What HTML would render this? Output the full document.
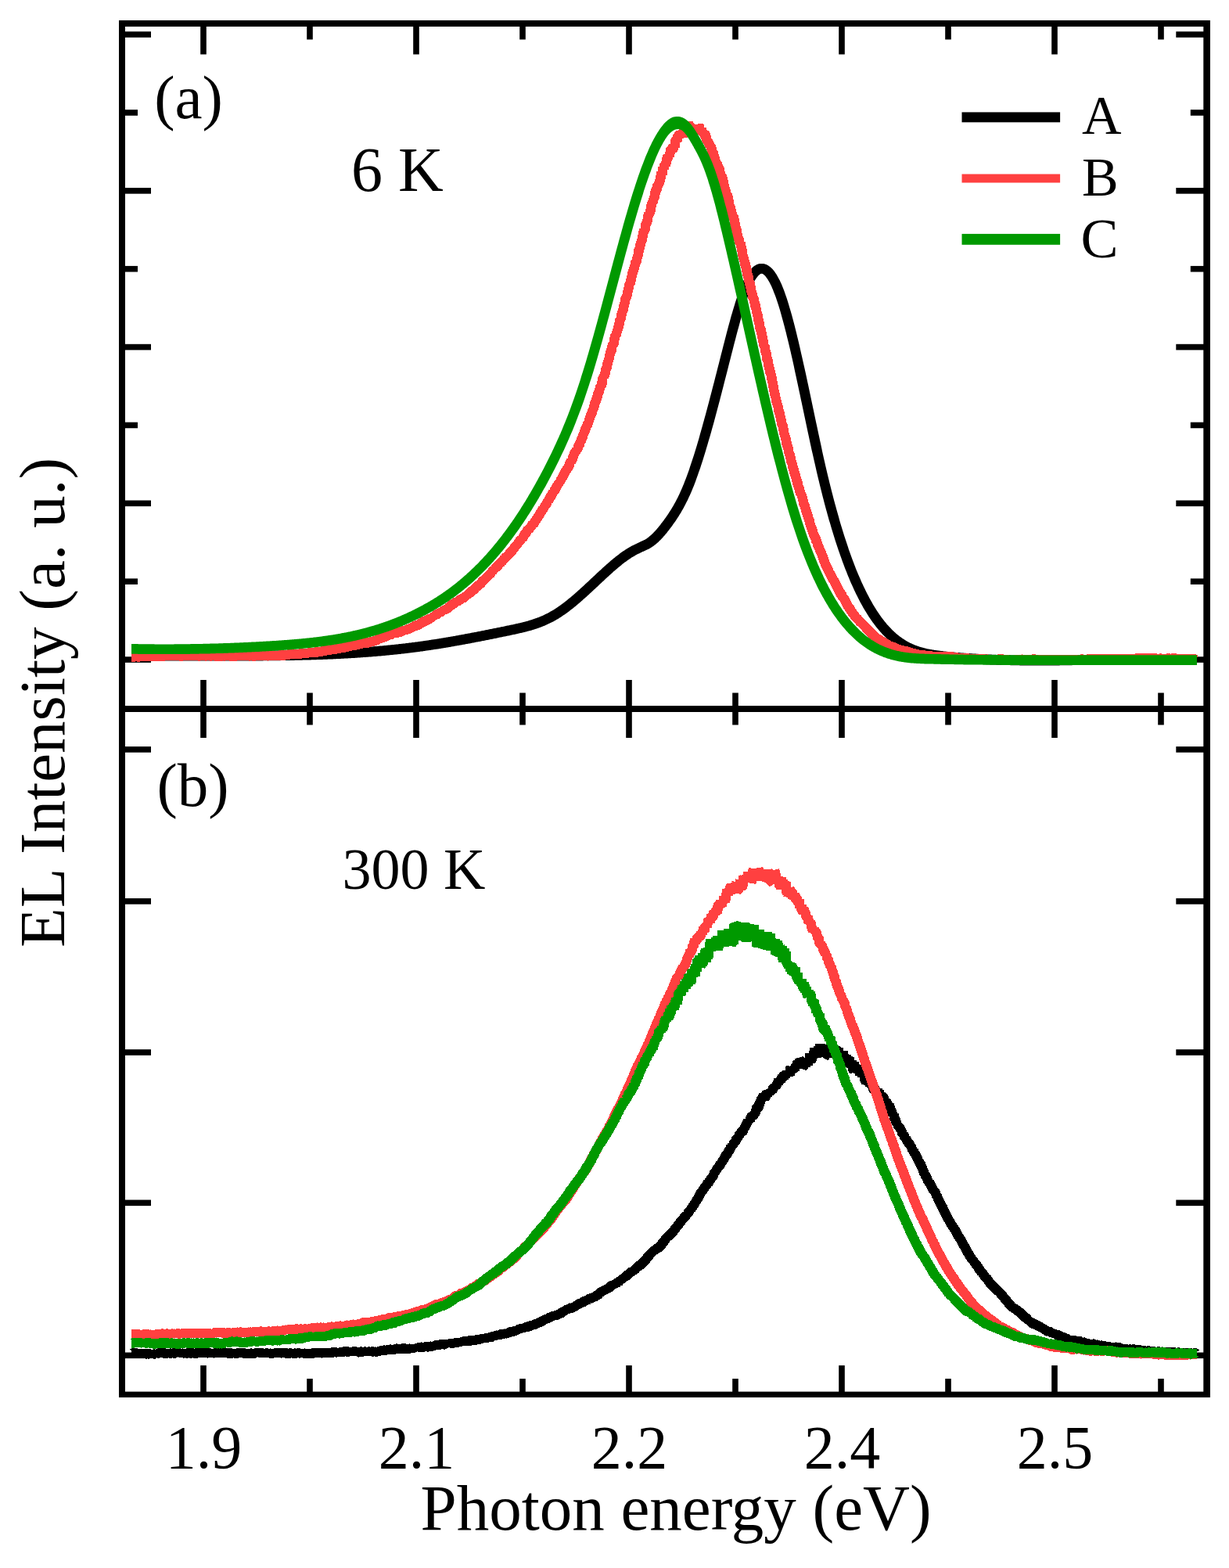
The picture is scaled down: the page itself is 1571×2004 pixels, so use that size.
<!DOCTYPE html>
<html lang="en"><head><meta charset="utf-8"><title>EL Intensity vs Photon energy</title>
<style>
html,body{margin:0;padding:0;background:#fff;overflow:hidden;}
body{width:1571px;height:2004px;overflow:hidden;}
svg{display:block;}
svg text{font-family:"Liberation Serif",serif;fill:#000;}
</style></head><body>
<svg width="1571" height="2004" viewBox="0 0 1571 2004" role="img" aria-label="EL intensity versus photon energy for samples A, B and C at 6 K and 300 K">
<rect x="0" y="0" width="1571" height="2004" fill="#fff"/>
<g id="ticks">
<rect x="159.00" y="40.30" width="34.00" height="7.60" fill="#000"/>
<rect x="1503.30" y="40.30" width="36.00" height="7.60" fill="#000"/>
<rect x="159.00" y="140.17" width="17.00" height="7.60" fill="#000"/>
<rect x="1521.80" y="140.17" width="17.50" height="7.60" fill="#000"/>
<rect x="159.00" y="240.04" width="34.00" height="7.60" fill="#000"/>
<rect x="1503.30" y="240.04" width="36.00" height="7.60" fill="#000"/>
<rect x="159.00" y="339.91" width="17.00" height="7.60" fill="#000"/>
<rect x="1521.80" y="339.91" width="17.50" height="7.60" fill="#000"/>
<rect x="159.00" y="439.78" width="34.00" height="7.60" fill="#000"/>
<rect x="1503.30" y="439.78" width="36.00" height="7.60" fill="#000"/>
<rect x="159.00" y="539.65" width="17.00" height="7.60" fill="#000"/>
<rect x="1521.80" y="539.65" width="17.50" height="7.60" fill="#000"/>
<rect x="159.00" y="639.52" width="34.00" height="7.60" fill="#000"/>
<rect x="1503.30" y="639.52" width="36.00" height="7.60" fill="#000"/>
<rect x="159.00" y="739.39" width="17.00" height="7.60" fill="#000"/>
<rect x="1521.80" y="739.39" width="17.50" height="7.60" fill="#000"/>
<rect x="159.00" y="839.26" width="34.00" height="7.60" fill="#000"/>
<rect x="1503.30" y="839.26" width="36.00" height="7.60" fill="#000"/>
<rect x="159.00" y="954.10" width="34.00" height="7.60" fill="#000"/>
<rect x="1503.30" y="954.10" width="36.00" height="7.60" fill="#000"/>
<rect x="159.00" y="1148.10" width="34.00" height="7.60" fill="#000"/>
<rect x="1503.30" y="1148.10" width="36.00" height="7.60" fill="#000"/>
<rect x="159.00" y="1341.20" width="34.00" height="7.60" fill="#000"/>
<rect x="1503.30" y="1341.20" width="36.00" height="7.60" fill="#000"/>
<rect x="159.00" y="1533.50" width="34.00" height="7.60" fill="#000"/>
<rect x="1503.30" y="1533.50" width="36.00" height="7.60" fill="#000"/>
<rect x="159.00" y="1728.50" width="34.00" height="7.60" fill="#000"/>
<rect x="1503.30" y="1728.50" width="36.00" height="7.60" fill="#000"/>
<rect x="256.20" y="33.00" width="7.60" height="36.50" fill="#000"/>
<rect x="256.20" y="1745.10" width="7.60" height="34.50" fill="#000"/>
<rect x="256.20" y="869.00" width="7.60" height="74.00" fill="#000"/>
<rect x="392.20" y="33.00" width="7.60" height="17.50" fill="#000"/>
<rect x="392.20" y="1762.10" width="7.60" height="17.50" fill="#000"/>
<rect x="392.20" y="885.50" width="7.60" height="41.00" fill="#000"/>
<rect x="528.20" y="33.00" width="7.60" height="36.50" fill="#000"/>
<rect x="528.20" y="1745.10" width="7.60" height="34.50" fill="#000"/>
<rect x="528.20" y="869.00" width="7.60" height="74.00" fill="#000"/>
<rect x="664.20" y="33.00" width="7.60" height="17.50" fill="#000"/>
<rect x="664.20" y="1762.10" width="7.60" height="17.50" fill="#000"/>
<rect x="664.20" y="885.50" width="7.60" height="41.00" fill="#000"/>
<rect x="800.20" y="33.00" width="7.60" height="36.50" fill="#000"/>
<rect x="800.20" y="1745.10" width="7.60" height="34.50" fill="#000"/>
<rect x="800.20" y="869.00" width="7.60" height="74.00" fill="#000"/>
<rect x="936.20" y="33.00" width="7.60" height="17.50" fill="#000"/>
<rect x="936.20" y="1762.10" width="7.60" height="17.50" fill="#000"/>
<rect x="936.20" y="885.50" width="7.60" height="41.00" fill="#000"/>
<rect x="1072.20" y="33.00" width="7.60" height="36.50" fill="#000"/>
<rect x="1072.20" y="1745.10" width="7.60" height="34.50" fill="#000"/>
<rect x="1072.20" y="869.00" width="7.60" height="74.00" fill="#000"/>
<rect x="1208.20" y="33.00" width="7.60" height="17.50" fill="#000"/>
<rect x="1208.20" y="1762.10" width="7.60" height="17.50" fill="#000"/>
<rect x="1208.20" y="885.50" width="7.60" height="41.00" fill="#000"/>
<rect x="1344.20" y="33.00" width="7.60" height="36.50" fill="#000"/>
<rect x="1344.20" y="1745.10" width="7.60" height="34.50" fill="#000"/>
<rect x="1344.20" y="869.00" width="7.60" height="74.00" fill="#000"/>
<rect x="1480.20" y="33.00" width="7.60" height="17.50" fill="#000"/>
<rect x="1480.20" y="1762.10" width="7.60" height="17.50" fill="#000"/>
<rect x="1480.20" y="885.50" width="7.60" height="41.00" fill="#000"/>
</g>
<g id="curves">
<path d="M168.0 832.3L168.9 832.3L169.9 832.2L170.9 832.2L171.9 832.2L172.9 832.2L173.9 832.2L174.9 832.1L175.9 832.1L176.9 832.1L177.9 832.1L178.9 832.1L179.9 832.1L180.9 832.0L181.9 832.0L182.9 832.0L183.9 832.0L184.9 832.0L185.9 832.0L186.9 831.9L187.9 831.9L188.9 831.9L189.9 831.9L190.9 831.9L191.9 831.9L192.9 831.9L193.9 831.9L194.9 831.8L195.9 831.8L196.9 831.8L197.9 831.8L198.9 831.8L199.9 831.8L200.9 831.8L201.9 831.8L202.9 831.8L203.9 831.8L204.9 831.7L205.9 831.7L207.0 831.7L208.0 831.7L209.0 831.7L210.0 831.7L211.0 831.7L212.0 831.7L213.0 831.7L214.0 831.7L215.0 831.7L216.0 831.7L217.0 831.7L218.0 831.7L219.0 831.7L220.0 831.6L221.0 831.6L222.0 831.6L223.0 831.6L224.0 831.6L225.0 831.6L226.0 831.6L227.0 831.6L228.0 831.6L229.0 831.6L230.0 831.6L231.0 831.6L232.0 831.6L233.0 831.6L234.0 831.6L235.0 831.6L236.0 831.6L237.0 831.6L238.0 831.6L239.0 831.6L240.0 831.6L241.0 831.6L242.0 831.6L243.0 831.6L244.0 831.6L245.0 831.6L246.0 831.6L247.0 831.6L248.0 831.6L249.0 831.6L250.0 831.6L251.0 831.6L252.0 831.6L253.0 831.6L254.0 831.6L255.0 831.6L256.0 831.6L257.0 831.6L258.0 831.6L259.0 831.6L260.0 831.6L261.0 831.6L262.0 831.6L263.0 831.6L264.0 831.6L265.0 831.6L266.0 831.6L267.0 831.6L268.0 831.6L269.0 831.6L270.0 831.6L271.0 831.6L272.0 831.6L273.0 831.6L274.0 831.6L275.0 831.6L276.0 831.6L277.0 831.6L278.0 831.6L279.0 831.6L280.0 831.6L281.0 831.6L282.0 831.6L283.0 831.6L284.0 831.6L285.0 831.6L286.0 831.6L287.0 831.6L288.0 831.6L289.0 831.6L290.0 831.6L291.0 831.6L292.0 831.6L293.0 831.6L294.0 831.6L295.0 831.6L296.0 831.6L297.0 831.6L298.0 831.6L299.0 831.6L300.0 831.6L301.0 831.6L302.0 831.6L303.0 831.6L304.0 831.6L305.0 831.6L306.0 831.6L307.0 831.6L308.0 831.6L309.0 831.6L310.0 831.6L311.0 831.6L312.0 831.6L313.0 831.6L314.0 831.6L315.0 831.6L316.0 831.6L317.0 831.6L318.0 831.6L319.0 831.6L320.0 831.6L321.0 831.6L322.0 831.6L323.0 831.6L324.0 831.6L325.0 831.6L326.0 831.6L327.0 831.6L328.0 831.6L329.0 831.6L330.0 831.6L331.0 831.6L332.0 831.6L333.0 831.6L334.0 831.6L335.0 831.6L336.0 831.6L337.0 831.5L338.0 831.5L339.0 831.5L340.0 831.5L341.0 831.5L342.0 831.5L342.9 831.5L343.9 831.5L344.9 831.5L345.9 831.5L346.9 831.5L347.9 831.5L348.9 831.5L349.9 831.4L350.9 831.4L351.9 831.4L352.9 831.4L353.9 831.4L354.9 831.4L355.9 831.4L356.9 831.4L357.9 831.4L358.9 831.3L359.9 831.3L360.9 831.3L361.9 831.3L362.9 831.3L363.9 831.3L364.9 831.3L365.9 831.2L366.9 831.2L367.9 831.2L368.9 831.2L369.9 831.2L370.9 831.2L371.9 831.1L372.9 831.1L373.9 831.1L374.9 831.1L375.9 831.1L376.9 831.1L377.9 831.0L378.9 831.0L379.9 831.0L380.9 831.0L381.9 830.9L382.9 830.9L383.9 830.9L384.9 830.9L385.9 830.9L386.8 830.8L387.8 830.8L388.8 830.8L389.8 830.8L390.8 830.7L391.8 830.7L392.8 830.7L393.8 830.7L394.8 830.6L395.8 830.6L396.8 830.6L397.8 830.5L398.8 830.5L399.8 830.5L400.8 830.5L401.8 830.4L402.8 830.4L403.8 830.4L404.8 830.3L405.8 830.3L406.8 830.3L407.8 830.2L408.8 830.2L409.8 830.2L410.8 830.1L411.8 830.1L412.8 830.1L413.8 830.0L414.8 830.0L415.8 829.9L416.7 829.9L417.7 829.9L418.7 829.8L419.7 829.8L420.7 829.7L421.7 829.7L422.7 829.7L423.7 829.6L424.7 829.6L425.7 829.5L426.7 829.5L427.7 829.4L428.7 829.4L429.7 829.3L430.7 829.3L431.7 829.2L432.7 829.2L433.7 829.1L434.7 829.1L435.7 829.0L436.7 829.0L437.7 828.9L438.7 828.9L439.7 828.8L440.7 828.8L441.6 828.7L442.6 828.7L443.6 828.6L444.6 828.6L445.6 828.5L446.6 828.5L447.6 828.4L448.6 828.3L449.6 828.3L450.6 828.2L451.6 828.2L452.6 828.1L453.6 828.0L454.6 828.0L455.6 827.9L456.6 827.8L457.6 827.8L458.6 827.7L459.6 827.6L460.6 827.6L461.6 827.5L462.6 827.4L463.5 827.4L464.5 827.3L465.5 827.2L466.5 827.1L467.5 827.1L468.5 827.0L469.5 826.9L470.5 826.9L471.5 826.8L472.5 826.7L473.5 826.6L474.5 826.5L475.5 826.5L476.5 826.4L477.5 826.3L478.5 826.2L479.5 826.1L480.5 826.1L481.5 826.0L482.5 825.9L483.4 825.8L484.4 825.7L485.4 825.6L486.4 825.5L487.4 825.4L488.4 825.4L489.4 825.3L490.4 825.2L491.4 825.1L492.4 825.0L493.4 824.9L494.4 824.8L495.4 824.7L496.4 824.6L497.4 824.5L498.4 824.4L499.4 824.3L500.4 824.2L501.3 824.1L502.3 824.0L503.3 823.9L504.3 823.8L505.3 823.7L506.3 823.6L507.3 823.5L508.3 823.4L509.3 823.3L510.3 823.1L511.3 823.0L512.3 822.9L513.3 822.8L514.3 822.7L515.3 822.6L516.3 822.5L517.3 822.4L518.2 822.2L519.2 822.1L520.2 822.0L521.2 821.9L522.2 821.8L523.2 821.6L524.2 821.5L525.2 821.4L526.2 821.3L527.2 821.1L528.2 821.0L529.2 820.9L530.2 820.7L531.2 820.6L532.2 820.5L533.1 820.4L534.1 820.2L535.1 820.1L536.1 819.9L537.1 819.8L538.1 819.7L539.1 819.5L540.1 819.4L541.1 819.3L542.1 819.1L543.1 819.0L544.1 818.8L545.1 818.7L546.1 818.5L547.1 818.4L548.1 818.2L549.0 818.1L550.0 817.9L551.0 817.8L552.0 817.6L553.0 817.5L554.0 817.3L555.0 817.2L556.0 817.0L557.0 816.9L558.0 816.7L559.0 816.6L560.0 816.4L561.0 816.2L562.0 816.1L563.0 815.9L564.0 815.7L565.0 815.6L566.0 815.4L567.0 815.3L567.9 815.1L568.9 814.9L569.9 814.8L570.9 814.6L571.9 814.4L572.9 814.2L573.9 814.1L574.9 813.9L575.9 813.7L576.9 813.6L577.9 813.4L578.9 813.2L579.9 813.0L580.9 812.9L581.9 812.7L582.9 812.5L583.9 812.3L584.9 812.2L585.9 812.0L586.9 811.8L587.9 811.6L588.9 811.4L589.8 811.3L590.8 811.1L591.8 810.9L592.8 810.7L593.8 810.5L594.8 810.3L595.8 810.1L596.8 810.0L597.8 809.8L598.8 809.6L599.8 809.4L600.8 809.2L601.8 809.0L602.8 808.8L603.8 808.6L604.8 808.4L605.8 808.3L606.8 808.1L607.8 807.9L608.8 807.7L609.8 807.5L610.8 807.3L611.8 807.1L612.8 806.9L613.8 806.7L614.8 806.5L615.8 806.3L616.8 806.1L617.8 805.9L618.8 805.7L619.8 805.5L620.7 805.3L621.7 805.1L622.7 804.9L623.7 804.7L624.7 804.5L625.7 804.3L626.7 804.1L627.7 803.9L628.7 803.7L629.7 803.5L630.7 803.3L631.7 803.1L632.7 802.9L633.7 802.7L634.7 802.5L635.7 802.3L636.7 802.1L637.7 801.9L638.7 801.7L639.7 801.5L640.7 801.3L641.7 801.1L642.7 800.9L643.7 800.7L644.7 800.4L645.7 800.2L646.7 800.0L647.7 799.8L648.7 799.6L649.7 799.4L650.7 799.2L651.7 799.0L652.7 798.8L653.7 798.6L654.7 798.4L655.7 798.2L656.7 797.9L657.6 797.7L658.6 797.5L659.6 797.3L660.6 797.1L661.6 796.9L662.6 796.6L663.5 796.4L664.5 796.2L665.5 795.9L666.5 795.7L667.5 795.5L668.4 795.2L669.4 795.0L670.4 794.7L671.4 794.5L672.3 794.2L673.3 793.9L674.3 793.7L675.2 793.4L676.2 793.1L677.2 792.8L678.1 792.5L679.1 792.2L680.0 791.9L681.0 791.6L682.0 791.3L682.9 791.0L683.9 790.6L684.8 790.3L685.8 790.0L686.7 789.6L687.7 789.2L688.7 788.9L689.6 788.5L690.6 788.1L691.5 787.7L692.5 787.3L693.4 786.9L694.4 786.4L695.3 786.0L696.3 785.6L697.2 785.1L698.2 784.6L699.1 784.2L700.0 783.7L701.0 783.2L701.9 782.7L702.9 782.1L703.8 781.6L704.8 781.1L705.7 780.5L706.7 779.9L707.6 779.4L708.6 778.8L709.5 778.2L710.5 777.5L711.4 776.9L712.4 776.3L713.4 775.6L714.3 774.9L715.3 774.2L716.3 773.6L717.2 772.9L718.2 772.1L719.2 771.4L720.1 770.7L721.1 769.9L722.1 769.2L723.0 768.4L724.0 767.7L725.0 766.9L726.0 766.1L726.9 765.3L727.9 764.5L728.9 763.7L729.9 762.9L730.9 762.0L731.8 761.2L732.8 760.4L733.8 759.5L734.8 758.7L735.8 757.8L736.8 756.9L737.8 756.0L738.7 755.2L739.7 754.3L740.7 753.4L741.7 752.5L742.7 751.6L743.7 750.7L744.7 749.8L745.7 748.9L746.7 748.0L747.7 747.1L748.6 746.1L749.6 745.2L750.6 744.3L751.6 743.4L752.6 742.4L753.6 741.5L754.6 740.6L755.6 739.6L756.6 738.7L757.6 737.7L758.6 736.8L759.6 735.9L760.6 734.9L761.6 734.0L762.6 733.0L763.6 732.1L764.6 731.2L765.6 730.2L766.7 729.3L767.7 728.4L768.7 727.4L769.7 726.5L770.7 725.6L771.7 724.7L772.7 723.8L773.7 722.9L774.7 722.0L775.8 721.1L776.8 720.2L777.8 719.3L778.8 718.4L779.8 717.5L780.9 716.6L781.9 715.8L782.9 714.9L783.9 714.1L785.0 713.2L786.0 712.4L787.0 711.6L788.1 710.8L789.1 710.0L790.1 709.2L791.2 708.4L792.2 707.6L793.2 706.8L794.3 706.1L795.3 705.3L796.4 704.6L797.4 703.9L798.5 703.2L799.5 702.5L800.6 701.8L801.6 701.2L802.7 700.5L803.7 699.9L804.8 699.3L805.9 698.7L806.9 698.1L808.0 697.5L809.1 696.9L810.1 696.4L811.2 695.9L812.2 695.4L813.3 694.9L814.3 694.4L815.3 693.9L816.4 693.4L817.4 693.0L818.4 692.5L819.4 692.1L820.4 691.6L821.3 691.2L822.2 690.8L823.1 690.3L824.0 689.9L824.8 689.4L825.6 688.9L826.5 688.4L827.3 687.8L828.2 687.2L829.1 686.5L829.9 685.8L830.8 685.1L831.7 684.3L832.6 683.5L833.6 682.6L834.5 681.7L835.4 680.8L836.3 679.8L837.3 678.8L838.2 677.7L839.2 676.7L840.1 675.6L841.1 674.4L842.0 673.3L843.0 672.1L844.0 670.9L844.9 669.6L845.9 668.3L846.9 667.1L847.9 665.7L848.8 664.4L849.8 663.1L850.8 661.7L851.8 660.3L852.7 658.9L853.7 657.5L854.7 656.0L855.6 654.6L856.6 653.1L857.6 651.5L858.5 649.9L859.5 648.3L860.5 646.7L861.4 645.0L862.4 643.3L863.4 641.5L864.3 639.7L865.3 637.8L866.3 635.9L867.2 633.9L868.2 631.9L869.2 629.8L870.2 627.6L871.1 625.4L872.1 623.2L873.1 620.8L874.1 618.4L875.0 616.0L876.0 613.4L877.0 610.9L878.0 608.2L879.0 605.5L880.0 602.7L881.0 599.9L881.9 597.0L882.9 594.1L883.9 591.1L884.9 588.1L885.9 585.0L886.9 581.9L887.9 578.7L888.9 575.5L889.9 572.2L890.9 568.9L891.9 565.6L892.9 562.2L893.9 558.7L894.8 555.3L895.8 551.8L896.8 548.3L897.8 544.7L898.8 541.1L899.8 537.5L900.8 533.8L901.8 530.2L902.8 526.5L903.8 522.7L904.8 519.0L905.8 515.2L906.8 511.4L907.8 507.6L908.8 503.8L909.8 500.0L910.8 496.1L911.8 492.2L912.8 488.4L913.8 484.5L914.8 480.6L915.8 476.7L916.8 472.7L917.8 468.8L918.8 464.9L919.8 461.0L920.8 457.0L921.8 453.1L922.8 449.2L923.8 445.3L924.8 441.3L925.8 437.4L926.8 433.6L927.8 429.7L928.8 425.8L929.8 422.0L930.8 418.3L931.8 414.5L932.8 410.9L933.8 407.2L934.8 403.6L935.9 400.1L936.9 396.6L937.9 393.2L938.9 389.9L939.9 386.6L940.9 383.5L941.9 380.4L942.9 377.4L944.0 374.4L945.0 371.6L946.0 368.9L947.1 366.3L948.1 363.7L949.2 361.3L950.2 359.0L951.3 356.8L952.4 354.8L953.4 352.8L954.5 350.9L955.7 349.2L956.8 347.5L958.0 345.9L959.2 344.5L960.4 343.2L961.7 341.9L963.1 340.8L964.5 339.8L965.9 338.9L967.5 338.1L969.1 337.5L970.8 337.1L972.6 336.9L974.4 336.9L976.1 337.1L977.8 337.5L979.4 338.1L981.0 338.8L982.5 339.7L983.9 340.7L985.2 341.8L986.5 343.0L987.8 344.3L989.0 345.8L990.2 347.3L991.3 348.9L992.4 350.6L993.5 352.4L994.6 354.4L995.7 356.4L996.8 358.5L997.8 360.8L998.9 363.1L999.9 365.6L1001.0 368.2L1002.0 370.8L1003.0 373.6L1004.0 376.5L1005.1 379.5L1006.1 382.6L1007.1 385.7L1008.1 389.0L1009.1 392.4L1010.1 395.8L1011.2 399.4L1012.2 403.0L1013.2 406.7L1014.2 410.5L1015.2 414.3L1016.2 418.2L1017.2 422.2L1018.2 426.3L1019.2 430.4L1020.2 434.6L1021.2 438.8L1022.2 443.1L1023.2 447.5L1024.2 451.9L1025.2 456.3L1026.2 460.8L1027.2 465.3L1028.3 469.9L1029.3 474.4L1030.3 479.1L1031.3 483.7L1032.3 488.4L1033.3 493.1L1034.3 497.8L1035.3 502.5L1036.3 507.2L1037.3 512.0L1038.3 516.7L1039.3 521.4L1040.3 526.2L1041.3 530.9L1042.3 535.7L1043.3 540.4L1044.3 545.1L1045.3 549.8L1046.3 554.5L1047.3 559.1L1048.3 563.7L1049.3 568.3L1050.3 572.9L1051.2 577.4L1052.2 581.9L1053.2 586.4L1054.2 590.8L1055.2 595.2L1056.2 599.5L1057.2 603.7L1058.2 607.9L1059.2 612.1L1060.2 616.2L1061.2 620.2L1062.2 624.2L1063.2 628.2L1064.2 632.0L1065.2 635.9L1066.2 639.7L1067.2 643.4L1068.2 647.1L1069.2 650.7L1070.2 654.3L1071.2 657.8L1072.2 661.3L1073.1 664.8L1074.1 668.2L1075.1 671.5L1076.1 674.8L1077.1 678.0L1078.1 681.2L1079.1 684.4L1080.1 687.5L1081.1 690.6L1082.1 693.6L1083.1 696.6L1084.1 699.5L1085.0 702.4L1086.0 705.2L1087.0 708.0L1088.0 710.8L1089.0 713.5L1090.0 716.2L1091.0 718.8L1092.0 721.4L1093.0 723.9L1093.9 726.4L1094.9 728.9L1095.9 731.3L1096.9 733.7L1097.9 736.0L1098.9 738.3L1099.9 740.6L1100.8 742.8L1101.8 745.0L1102.8 747.1L1103.8 749.2L1104.8 751.3L1105.8 753.3L1106.7 755.3L1107.7 757.3L1108.7 759.2L1109.7 761.1L1110.7 763.0L1111.6 764.8L1112.6 766.6L1113.6 768.3L1114.6 770.0L1115.5 771.7L1116.5 773.4L1117.5 775.0L1118.4 776.6L1119.4 778.1L1120.4 779.7L1121.4 781.2L1122.3 782.6L1123.3 784.0L1124.3 785.4L1125.2 786.8L1126.2 788.2L1127.1 789.5L1128.1 790.7L1129.1 792.0L1130.0 793.2L1131.0 794.4L1131.9 795.6L1132.9 796.7L1133.8 797.9L1134.8 799.0L1135.8 800.0L1136.7 801.1L1137.7 802.1L1138.6 803.1L1139.5 804.0L1140.5 805.0L1141.4 805.9L1142.4 806.8L1143.3 807.7L1144.3 808.5L1145.2 809.4L1146.1 810.2L1147.1 811.0L1148.0 811.7L1149.0 812.5L1149.9 813.2L1150.8 813.9L1151.8 814.6L1152.7 815.3L1153.6 815.9L1154.6 816.5L1155.5 817.1L1156.4 817.7L1157.3 818.3L1158.3 818.9L1159.2 819.4L1160.1 819.9L1161.1 820.5L1162.0 820.9L1162.9 821.4L1163.8 821.9L1164.8 822.3L1165.7 822.8L1166.6 823.2L1167.5 823.6L1168.5 824.0L1169.4 824.4L1170.3 824.8L1171.3 825.1L1172.2 825.5L1173.1 825.8L1174.1 826.1L1175.0 826.4L1175.9 826.7L1176.9 827.0L1177.8 827.3L1178.7 827.6L1179.7 827.8L1180.6 828.1L1181.6 828.3L1182.5 828.6L1183.5 828.8L1184.4 829.0L1185.3 829.2L1186.3 829.4L1187.2 829.6L1188.2 829.8L1189.2 830.0L1190.1 830.1L1191.1 830.3L1192.0 830.5L1193.0 830.6L1194.0 830.8L1194.9 830.9L1195.9 831.1L1196.9 831.2L1197.8 831.3L1198.8 831.5L1199.8 831.6L1200.8 831.7L1201.7 831.8L1202.7 831.9L1203.7 832.0L1204.7 832.1L1205.7 832.2L1206.7 832.4L1207.7 832.5L1208.7 832.6L1209.6 832.7L1210.6 832.8L1211.6 832.9L1212.6 833.0L1213.6 833.1L1214.6 833.1L1215.6 833.2L1216.6 833.3L1217.6 833.4L1218.6 833.5L1219.6 833.6L1220.6 833.7L1221.6 833.8L1222.5 833.9L1223.5 833.9L1224.5 834.0L1225.5 834.1L1226.5 834.2L1227.5 834.3L1228.5 834.4L1229.5 834.4L1230.5 834.5L1231.5 834.6L1232.5 834.7L1233.5 834.7L1234.5 834.8L1235.5 834.9L1236.4 834.9L1237.4 835.0L1238.4 835.1L1239.4 835.1L1240.4 835.2L1241.4 835.3L1242.4 835.3L1243.4 835.4L1244.4 835.5L1245.4 835.5L1246.4 835.6L1247.4 835.6L1248.4 835.7L1249.4 835.8L1250.4 835.8L1251.3 835.9L1252.3 835.9L1253.3 836.0L1254.3 836.0L1255.3 836.1L1256.3 836.1L1257.3 836.2L1258.3 836.2L1259.3 836.3L1260.3 836.3L1261.3 836.4L1262.3 836.4L1263.3 836.5L1264.3 836.5L1265.3 836.5L1266.3 836.6L1267.3 836.6L1268.3 836.7L1269.2 836.7L1270.2 836.7L1271.2 836.8L1272.2 836.8L1273.2 836.8L1274.2 836.9L1275.2 836.9L1276.2 836.9L1277.2 837.0L1278.2 837.0L1279.2 837.0L1280.2 837.1L1281.2 837.1L1282.2 837.1L1283.2 837.2L1284.2 837.2L1285.2 837.2L1286.2 837.2L1287.2 837.3L1288.1 837.3L1289.1 837.3L1290.1 837.3L1291.1 837.3L1292.1 837.4L1293.1 837.4L1294.1 837.4L1295.1 837.4L1296.1 837.4L1297.1 837.5L1298.1 837.5L1299.1 837.5L1300.1 837.5L1301.1 837.5L1302.1 837.5L1303.1 837.6L1304.1 837.6L1305.1 837.6L1306.1 837.6L1307.1 837.6L1308.1 837.6L1309.1 837.6L1310.1 837.6L1311.1 837.6L1312.1 837.6L1313.0 837.7L1314.0 837.7L1315.0 837.7L1316.0 837.7L1317.0 837.7L1318.0 837.7L1319.0 837.7L1320.0 837.7L1321.0 837.7L1322.0 837.7L1323.0 837.7L1324.0 837.7L1325.0 837.7L1326.0 837.7L1327.0 837.7L1328.0 837.7L1329.0 837.7L1330.0 837.7L1331.0 837.7L1332.0 837.7L1333.0 837.7L1334.0 837.7L1335.0 837.7L1336.0 837.7L1337.0 837.7L1338.0 837.7L1339.0 837.7L1340.0 837.7L1341.0 837.7L1342.0 837.7L1343.0 837.6L1344.0 837.6L1345.0 837.6L1346.0 837.6L1346.9 837.6L1347.9 837.6L1348.9 837.6L1349.9 837.6L1350.9 837.6L1351.9 837.6L1352.9 837.6L1353.9 837.6L1354.9 837.5L1355.9 837.5L1356.9 837.5L1357.9 837.5L1358.9 837.5L1359.9 837.5L1360.9 837.5L1361.9 837.5L1362.9 837.4L1363.9 837.4L1364.9 837.4L1365.9 837.4L1366.9 837.4L1367.9 837.4L1368.9 837.4L1369.9 837.4L1370.9 837.3L1371.9 837.3L1372.9 837.3L1373.9 837.3L1374.9 837.3L1375.9 837.3L1376.9 837.3L1377.9 837.2L1378.9 837.2L1379.9 837.2L1380.9 837.2L1381.9 837.2L1382.9 837.2L1383.9 837.1L1384.9 837.1L1385.9 837.1L1386.9 837.1L1387.9 837.1L1388.9 837.1L1389.9 837.0L1390.9 837.0L1391.9 837.0L1392.9 837.0L1393.9 837.0L1394.9 837.0L1395.9 836.9L1396.9 836.9L1397.9 836.9L1398.9 836.9L1399.9 836.9L1400.9 836.9L1401.9 836.8L1402.9 836.8L1403.9 836.8L1404.9 836.8L1405.9 836.8L1406.9 836.8L1407.9 836.7L1408.9 836.7L1409.9 836.7L1410.9 836.7L1411.9 836.7L1412.9 836.7L1413.9 836.6L1414.9 836.6L1415.9 836.6L1416.9 836.6L1417.9 836.6L1418.9 836.6L1419.9 836.5L1420.9 836.5L1421.9 836.5L1422.9 836.5L1423.9 836.5L1424.9 836.5L1425.9 836.5L1426.9 836.4L1427.9 836.4L1428.9 836.4L1429.9 836.4L1430.9 836.4L1431.9 836.4L1432.9 836.4L1433.9 836.3L1434.9 836.3L1435.9 836.3L1436.9 836.3L1437.9 836.3L1438.9 836.3L1439.9 836.3L1440.9 836.3L1441.9 836.2L1442.9 836.2L1443.9 836.2L1444.9 836.2L1445.9 836.2L1446.9 836.2L1447.9 836.2L1448.9 836.2L1449.9 836.2L1450.9 836.2L1452.0 836.2L1453.0 836.1L1454.0 836.1L1455.0 836.1L1456.0 836.1L1457.0 836.1L1458.0 836.1L1459.0 836.1L1460.0 836.1L1461.0 836.1L1462.0 836.1L1463.0 836.1L1464.0 836.1L1465.0 836.1L1466.0 836.1L1467.0 836.1L1468.0 836.1L1469.0 836.1L1470.0 836.1L1471.0 836.1L1472.0 836.1L1473.0 836.1L1474.0 836.1L1475.0 836.1L1476.0 836.1L1477.0 836.1L1478.0 836.1L1479.0 836.1L1480.0 836.1L1481.0 836.1L1482.0 836.1L1483.0 836.1L1484.0 836.1L1485.0 836.1L1486.1 836.1L1487.1 836.1L1488.1 836.2L1489.1 836.2L1490.1 836.2L1491.1 836.2L1492.1 836.2L1493.1 836.2L1494.1 836.2L1495.1 836.2L1496.1 836.2L1497.1 836.3L1498.1 836.3L1499.1 836.3L1500.1 836.3L1501.1 836.3L1502.1 836.3L1503.1 836.4L1504.1 836.4L1505.1 836.4L1506.1 836.4L1507.1 836.4L1508.1 836.5L1509.1 836.5L1510.2 836.5L1511.2 836.5L1512.2 836.6L1513.2 836.6L1514.2 836.6L1515.2 836.6L1516.2 836.7L1517.2 836.7L1518.2 836.7L1519.2 836.8L1520.2 836.8L1521.2 836.8L1522.2 836.8L1523.2 836.9L1524.2 836.9L1525.2 837.0L1526.2 837.0L1527.2 837.0L1528.2 837.1L1529.2 837.1L1530.0 837.1L1530.0 849.9L1528.8 849.9L1527.8 849.9L1526.8 849.8L1525.8 849.8L1524.8 849.7L1523.8 849.7L1522.8 849.7L1521.8 849.6L1520.8 849.6L1519.8 849.6L1518.8 849.5L1517.8 849.5L1516.8 849.5L1515.8 849.5L1514.8 849.4L1513.8 849.4L1512.8 849.4L1511.8 849.4L1510.8 849.3L1509.8 849.3L1508.9 849.3L1507.9 849.3L1506.9 849.2L1505.9 849.2L1504.9 849.2L1503.9 849.2L1502.9 849.2L1501.9 849.1L1500.9 849.1L1499.9 849.1L1498.9 849.1L1497.9 849.1L1496.9 849.1L1495.9 849.0L1494.9 849.0L1493.9 849.0L1492.9 849.0L1491.9 849.0L1490.9 849.0L1489.9 849.0L1488.9 849.0L1487.9 849.0L1486.9 848.9L1485.9 848.9L1485.0 848.9L1484.0 848.9L1483.0 848.9L1482.0 848.9L1481.0 848.9L1480.0 848.9L1479.0 848.9L1478.0 848.9L1477.0 848.9L1476.0 848.9L1475.0 848.9L1474.0 848.9L1473.0 848.9L1472.0 848.9L1471.0 848.9L1470.0 848.9L1469.0 848.9L1468.0 848.9L1467.0 848.9L1466.0 848.9L1465.0 848.9L1464.0 848.9L1463.0 848.9L1462.0 848.9L1461.0 848.9L1460.0 848.9L1459.0 848.9L1458.0 848.9L1457.0 848.9L1456.0 848.9L1455.0 848.9L1454.0 848.9L1453.0 848.9L1452.0 849.0L1451.1 849.0L1450.1 849.0L1449.1 849.0L1448.1 849.0L1447.1 849.0L1446.1 849.0L1445.1 849.0L1444.1 849.0L1443.1 849.0L1442.1 849.0L1441.1 849.1L1440.1 849.1L1439.1 849.1L1438.1 849.1L1437.1 849.1L1436.1 849.1L1435.1 849.1L1434.1 849.1L1433.1 849.2L1432.1 849.2L1431.1 849.2L1430.1 849.2L1429.1 849.2L1428.1 849.2L1427.1 849.2L1426.1 849.3L1425.1 849.3L1424.1 849.3L1423.1 849.3L1422.1 849.3L1421.1 849.3L1420.1 849.3L1419.1 849.4L1418.1 849.4L1417.1 849.4L1416.1 849.4L1415.1 849.4L1414.1 849.4L1413.1 849.5L1412.1 849.5L1411.1 849.5L1410.1 849.5L1409.1 849.5L1408.1 849.5L1407.1 849.6L1406.1 849.6L1405.1 849.6L1404.1 849.6L1403.1 849.6L1402.1 849.6L1401.1 849.7L1400.1 849.7L1399.1 849.7L1398.1 849.7L1397.1 849.7L1396.1 849.7L1395.1 849.8L1394.1 849.8L1393.1 849.8L1392.1 849.8L1391.1 849.8L1390.1 849.8L1389.1 849.9L1388.1 849.9L1387.1 849.9L1386.1 849.9L1385.1 849.9L1384.1 849.9L1383.1 850.0L1382.1 850.0L1381.1 850.0L1380.1 850.0L1379.1 850.0L1378.1 850.0L1377.1 850.0L1376.1 850.1L1375.1 850.1L1374.1 850.1L1373.1 850.1L1372.1 850.1L1371.1 850.1L1370.1 850.2L1369.1 850.2L1368.1 850.2L1367.1 850.2L1366.1 850.2L1365.1 850.2L1364.1 850.2L1363.1 850.2L1362.1 850.3L1361.1 850.3L1360.1 850.3L1359.1 850.3L1358.1 850.3L1357.1 850.3L1356.1 850.3L1355.1 850.3L1354.1 850.4L1353.1 850.4L1352.1 850.4L1351.1 850.4L1350.1 850.4L1349.1 850.4L1348.1 850.4L1347.1 850.4L1346.0 850.4L1345.0 850.4L1344.0 850.4L1343.0 850.4L1342.0 850.5L1341.0 850.5L1340.0 850.5L1339.0 850.5L1338.0 850.5L1337.0 850.5L1336.0 850.5L1335.0 850.5L1334.0 850.5L1333.0 850.5L1332.0 850.5L1331.0 850.5L1330.0 850.5L1329.0 850.5L1328.0 850.5L1327.0 850.5L1326.0 850.5L1325.0 850.5L1324.0 850.5L1323.0 850.5L1322.0 850.5L1321.0 850.5L1320.0 850.5L1319.0 850.5L1318.0 850.5L1317.0 850.5L1316.0 850.5L1315.0 850.5L1314.0 850.5L1313.0 850.5L1311.9 850.4L1310.9 850.4L1309.9 850.4L1308.9 850.4L1307.9 850.4L1306.9 850.4L1305.9 850.4L1304.9 850.4L1303.9 850.4L1302.9 850.3L1301.9 850.3L1300.9 850.3L1299.9 850.3L1298.9 850.3L1297.9 850.3L1296.9 850.3L1295.9 850.2L1294.9 850.2L1293.9 850.2L1292.9 850.2L1291.9 850.2L1290.9 850.1L1289.9 850.1L1288.9 850.1L1287.9 850.1L1286.8 850.1L1285.8 850.0L1284.8 850.0L1283.8 850.0L1282.8 849.9L1281.8 849.9L1280.8 849.9L1279.8 849.9L1278.8 849.8L1277.8 849.8L1276.8 849.8L1275.8 849.7L1274.8 849.7L1273.8 849.7L1272.8 849.6L1271.8 849.6L1270.8 849.6L1269.8 849.5L1268.8 849.5L1267.7 849.5L1266.7 849.4L1265.7 849.4L1264.7 849.3L1263.7 849.3L1262.7 849.2L1261.7 849.2L1260.7 849.2L1259.7 849.1L1258.7 849.1L1257.7 849.0L1256.7 849.0L1255.7 848.9L1254.7 848.9L1253.7 848.8L1252.7 848.8L1251.7 848.7L1250.7 848.7L1249.6 848.6L1248.6 848.5L1247.6 848.5L1246.6 848.4L1245.6 848.4L1244.6 848.3L1243.6 848.2L1242.6 848.2L1241.6 848.1L1240.6 848.0L1239.6 848.0L1238.6 847.9L1237.6 847.8L1236.6 847.8L1235.6 847.7L1234.5 847.6L1233.5 847.6L1232.5 847.5L1231.5 847.4L1230.5 847.3L1229.5 847.3L1228.5 847.2L1227.5 847.1L1226.5 847.0L1225.5 847.0L1224.5 846.9L1223.5 846.8L1222.5 846.7L1221.5 846.6L1220.4 846.5L1219.4 846.4L1218.4 846.4L1217.4 846.3L1216.4 846.2L1215.4 846.1L1214.4 846.0L1213.4 845.9L1212.4 845.8L1211.4 845.7L1210.4 845.6L1209.4 845.5L1208.4 845.4L1207.3 845.3L1206.3 845.2L1205.3 845.1L1204.3 845.0L1203.3 844.9L1202.3 844.8L1201.3 844.6L1200.3 844.5L1199.2 844.4L1198.2 844.3L1197.2 844.1L1196.2 844.0L1195.1 843.9L1194.1 843.7L1193.1 843.6L1192.0 843.4L1191.0 843.3L1190.0 843.1L1188.9 842.9L1187.9 842.8L1186.8 842.6L1185.8 842.4L1184.8 842.2L1183.7 841.9L1182.7 841.7L1181.6 841.5L1180.5 841.3L1179.5 841.0L1178.4 840.7L1177.4 840.5L1176.3 840.2L1175.3 839.9L1174.2 839.6L1173.1 839.3L1172.1 838.9L1171.0 838.6L1169.9 838.2L1168.9 837.9L1167.8 837.5L1166.7 837.1L1165.7 836.7L1164.6 836.3L1163.5 835.8L1162.5 835.4L1161.4 834.9L1160.3 834.4L1159.2 833.9L1158.2 833.4L1157.1 832.8L1156.0 832.3L1154.9 831.7L1153.9 831.1L1152.8 830.5L1151.7 829.9L1150.7 829.2L1149.6 828.6L1148.5 827.9L1147.4 827.2L1146.4 826.5L1145.3 825.7L1144.2 824.9L1143.2 824.2L1142.1 823.4L1141.0 822.5L1140.0 821.7L1138.9 820.8L1137.9 819.9L1136.8 819.0L1135.7 818.1L1134.7 817.1L1133.6 816.1L1132.6 815.1L1131.5 814.1L1130.5 813.0L1129.4 812.0L1128.3 810.9L1127.3 809.7L1126.2 808.6L1125.2 807.4L1124.2 806.2L1123.1 805.0L1122.1 803.7L1121.0 802.5L1120.0 801.2L1118.9 799.8L1117.9 798.5L1116.9 797.1L1115.8 795.7L1114.8 794.2L1113.7 792.8L1112.7 791.3L1111.7 789.7L1110.6 788.2L1109.6 786.6L1108.6 785.0L1107.6 783.3L1106.5 781.6L1105.5 779.9L1104.5 778.2L1103.4 776.4L1102.4 774.6L1101.4 772.8L1100.4 770.9L1099.3 769.0L1098.3 767.0L1097.3 765.1L1096.3 763.1L1095.3 761.0L1094.2 758.9L1093.2 756.8L1092.2 754.7L1091.2 752.5L1090.2 750.3L1089.2 748.0L1088.1 745.7L1087.1 743.4L1086.1 741.0L1085.1 738.6L1084.1 736.2L1083.1 733.7L1082.1 731.1L1081.0 728.6L1080.0 726.0L1079.0 723.3L1078.0 720.6L1077.0 717.9L1076.0 715.1L1075.0 712.3L1074.0 709.5L1073.0 706.6L1071.9 703.6L1070.9 700.6L1069.9 697.6L1068.9 694.5L1067.9 691.4L1066.9 688.3L1065.9 685.1L1064.9 681.8L1063.9 678.5L1062.9 675.2L1061.9 671.8L1060.9 668.3L1059.8 664.9L1058.8 661.3L1057.8 657.7L1056.8 654.1L1055.8 650.4L1054.8 646.7L1053.8 642.9L1052.8 639.1L1051.8 635.2L1050.8 631.3L1049.8 627.3L1048.8 623.3L1047.8 619.2L1046.8 615.1L1045.8 610.9L1044.8 606.7L1043.8 602.4L1042.8 598.0L1041.8 593.6L1040.8 589.2L1039.8 584.7L1038.8 580.2L1037.7 575.7L1036.7 571.1L1035.7 566.5L1034.7 561.8L1033.7 557.1L1032.7 552.5L1031.7 547.8L1030.7 543.0L1029.7 538.3L1028.7 533.6L1027.7 528.8L1026.7 524.1L1025.7 519.3L1024.7 514.6L1023.7 509.9L1022.7 505.1L1021.7 500.4L1020.7 495.7L1019.7 491.1L1018.7 486.4L1017.7 481.8L1016.7 477.2L1015.7 472.6L1014.8 468.1L1013.8 463.6L1012.8 459.1L1011.8 454.7L1010.8 450.3L1009.8 446.0L1008.8 441.8L1007.8 437.6L1006.8 433.4L1005.8 429.4L1004.8 425.3L1003.8 421.4L1002.8 417.5L1001.8 413.7L1000.8 410.0L999.8 406.4L998.8 402.8L997.9 399.4L996.9 396.0L995.9 392.8L994.9 389.6L993.9 386.5L992.9 383.6L992.0 380.7L991.0 378.0L990.0 375.4L989.0 372.9L988.1 370.5L987.1 368.2L986.2 366.1L985.2 364.1L984.3 362.3L983.4 360.5L982.5 358.9L981.6 357.4L980.7 356.1L979.8 354.9L979.0 353.8L978.2 352.8L977.5 352.0L976.8 351.4L976.1 350.8L975.5 350.4L975.0 350.1L974.6 349.9L974.2 349.8L973.9 349.7L973.6 349.7L973.4 349.7L973.2 349.7L972.9 349.8L972.5 349.9L972.1 350.1L971.5 350.4L970.9 350.9L970.3 351.4L969.6 352.1L968.8 352.9L968.0 353.9L967.2 355.0L966.3 356.2L965.5 357.6L964.6 359.1L963.6 360.8L962.7 362.6L961.8 364.5L960.8 366.5L959.9 368.7L958.9 371.1L958.0 373.5L957.0 376.1L956.0 378.7L955.1 381.5L954.1 384.4L953.1 387.4L952.1 390.5L951.1 393.7L950.1 396.9L949.1 400.2L948.1 403.6L947.2 407.1L946.2 410.6L945.2 414.2L944.2 417.9L943.2 421.6L942.2 425.3L941.2 429.1L940.2 432.9L939.2 436.8L938.2 440.6L937.2 444.5L936.2 448.4L935.2 452.3L934.2 456.3L933.2 460.2L932.2 464.1L931.2 468.1L930.2 472.0L929.2 475.9L928.2 479.8L927.2 483.7L926.2 487.6L925.2 491.5L924.2 495.4L923.2 499.3L922.2 503.2L921.2 507.0L920.2 510.9L919.2 514.7L918.2 518.5L917.2 522.3L916.2 526.0L915.2 529.8L914.2 533.5L913.2 537.2L912.2 540.9L911.2 544.5L910.2 548.1L909.2 551.7L908.2 555.3L907.2 558.8L906.1 562.3L905.1 565.8L904.1 569.2L903.1 572.6L902.1 575.9L901.1 579.2L900.1 582.5L899.1 585.7L898.1 588.9L897.1 592.0L896.1 595.1L895.1 598.2L894.1 601.1L893.0 604.1L892.0 607.0L891.0 609.8L890.0 612.6L889.0 615.4L888.0 618.0L887.0 620.7L885.9 623.2L884.9 625.7L883.9 628.2L882.9 630.6L881.8 632.9L880.8 635.1L879.8 637.3L878.8 639.5L877.7 641.6L876.7 643.6L875.7 645.6L874.6 647.6L873.6 649.5L872.6 651.3L871.5 653.1L870.5 654.9L869.5 656.6L868.4 658.3L867.4 659.9L866.4 661.5L865.3 663.1L864.3 664.7L863.3 666.2L862.2 667.7L861.2 669.1L860.2 670.6L859.2 672.0L858.1 673.4L857.1 674.7L856.1 676.1L855.1 677.4L854.0 678.8L853.0 680.1L852.0 681.4L850.9 682.6L849.9 683.9L848.8 685.1L847.8 686.3L846.7 687.4L845.7 688.6L844.6 689.7L843.5 690.8L842.4 691.8L841.4 692.9L840.3 693.8L839.2 694.8L838.1 695.7L836.9 696.6L835.8 697.5L834.7 698.3L833.5 699.1L832.4 699.8L831.2 700.5L830.0 701.2L828.9 701.8L827.8 702.3L826.7 702.8L825.6 703.3L824.6 703.8L823.6 704.2L822.6 704.7L821.6 705.1L820.7 705.5L819.7 706.0L818.7 706.4L817.8 706.9L816.8 707.4L815.9 707.8L814.9 708.3L814.0 708.8L813.1 709.3L812.1 709.8L811.2 710.4L810.3 710.9L809.3 711.5L808.4 712.0L807.4 712.6L806.5 713.2L805.5 713.9L804.6 714.5L803.6 715.2L802.7 715.8L801.7 716.5L800.8 717.2L799.8 717.9L798.8 718.6L797.9 719.3L796.9 720.1L795.9 720.8L795.0 721.6L794.0 722.4L793.0 723.2L792.1 724.0L791.1 724.8L790.1 725.6L789.1 726.4L788.2 727.2L787.2 728.1L786.2 728.9L785.2 729.8L784.2 730.6L783.3 731.5L782.3 732.4L781.3 733.3L780.3 734.2L779.3 735.1L778.3 736.0L777.3 736.9L776.3 737.8L775.3 738.7L774.4 739.6L773.4 740.5L772.4 741.5L771.4 742.4L770.4 743.3L769.4 744.3L768.4 745.2L767.4 746.1L766.4 747.1L765.4 748.0L764.4 749.0L763.4 749.9L762.4 750.8L761.4 751.8L760.4 752.7L759.4 753.6L758.4 754.6L757.4 755.5L756.3 756.4L755.3 757.4L754.3 758.3L753.3 759.2L752.3 760.2L751.3 761.1L750.3 762.0L749.3 762.9L748.3 763.8L747.3 764.7L746.2 765.6L745.2 766.5L744.2 767.4L743.2 768.3L742.2 769.2L741.2 770.1L740.2 770.9L739.1 771.8L738.1 772.7L737.1 773.5L736.1 774.4L735.1 775.2L734.0 776.0L733.0 776.9L732.0 777.7L731.0 778.5L729.9 779.3L728.9 780.1L727.9 780.9L726.8 781.7L725.8 782.4L724.8 783.2L723.7 783.9L722.7 784.7L721.7 785.4L720.6 786.1L719.6 786.8L718.6 787.5L717.5 788.2L716.5 788.9L715.4 789.6L714.4 790.2L713.3 790.9L712.3 791.5L711.2 792.1L710.2 792.7L709.1 793.3L708.1 793.9L707.0 794.5L706.0 795.0L704.9 795.6L703.8 796.1L702.8 796.6L701.7 797.1L700.7 797.6L699.6 798.1L698.6 798.6L697.5 799.0L696.5 799.5L695.4 799.9L694.4 800.3L693.3 800.8L692.3 801.2L691.3 801.6L690.2 802.0L689.2 802.3L688.1 802.7L687.1 803.1L686.0 803.4L685.0 803.8L684.0 804.1L682.9 804.4L681.9 804.8L680.8 805.1L679.8 805.4L678.8 805.7L677.7 806.0L676.7 806.3L675.7 806.6L674.6 806.8L673.6 807.1L672.6 807.4L671.6 807.6L670.5 807.9L669.5 808.1L668.5 808.4L667.5 808.6L666.5 808.9L665.4 809.1L664.4 809.3L663.4 809.6L662.4 809.8L661.4 810.0L660.4 810.2L659.3 810.5L658.3 810.7L657.3 810.9L656.3 811.1L655.3 811.3L654.3 811.5L653.3 811.7L652.3 811.9L651.3 812.2L650.3 812.4L649.3 812.6L648.3 812.8L647.3 813.0L646.3 813.2L645.3 813.4L644.3 813.6L643.3 813.8L642.3 814.0L641.3 814.2L640.3 814.4L639.3 814.6L638.3 814.8L637.3 815.0L636.3 815.2L635.3 815.5L634.3 815.7L633.3 815.9L632.3 816.1L631.3 816.3L630.3 816.5L629.3 816.7L628.3 816.9L627.3 817.1L626.3 817.3L625.3 817.5L624.3 817.7L623.3 817.9L622.2 818.1L621.2 818.3L620.2 818.5L619.2 818.7L618.2 818.9L617.2 819.1L616.2 819.3L615.2 819.5L614.2 819.7L613.2 819.9L612.2 820.1L611.2 820.2L610.2 820.4L609.2 820.6L608.2 820.8L607.2 821.0L606.2 821.2L605.2 821.4L604.2 821.6L603.2 821.8L602.2 822.0L601.2 822.2L600.2 822.4L599.2 822.5L598.2 822.7L597.2 822.9L596.2 823.1L595.2 823.3L594.2 823.5L593.2 823.7L592.2 823.8L591.1 824.0L590.1 824.2L589.1 824.4L588.1 824.6L587.1 824.8L586.1 824.9L585.1 825.1L584.1 825.3L583.1 825.5L582.1 825.6L581.1 825.8L580.1 826.0L579.1 826.2L578.1 826.3L577.1 826.5L576.1 826.7L575.1 826.9L574.1 827.0L573.1 827.2L572.1 827.4L571.1 827.5L570.1 827.7L569.0 827.9L568.0 828.0L567.0 828.2L566.0 828.4L565.0 828.5L564.0 828.7L563.0 828.9L562.0 829.0L561.0 829.2L560.0 829.4L559.0 829.5L558.0 829.7L557.0 829.8L556.0 830.0L555.0 830.1L554.0 830.3L553.0 830.4L552.0 830.6L551.0 830.7L549.9 830.9L548.9 831.0L547.9 831.2L546.9 831.3L545.9 831.5L544.9 831.6L543.9 831.8L542.9 831.9L541.9 832.1L540.9 832.2L539.9 832.4L538.9 832.5L537.9 832.6L536.9 832.8L535.9 832.9L534.9 833.0L533.8 833.2L532.8 833.3L531.8 833.4L530.8 833.6L529.8 833.7L528.8 833.8L527.8 834.0L526.8 834.1L525.8 834.2L524.8 834.3L523.8 834.5L522.8 834.6L521.8 834.7L520.8 834.8L519.8 834.9L518.7 835.1L517.7 835.2L516.7 835.3L515.7 835.4L514.7 835.5L513.7 835.6L512.7 835.8L511.7 835.9L510.7 836.0L509.7 836.1L508.7 836.2L507.7 836.3L506.7 836.4L505.7 836.5L504.7 836.6L503.7 836.7L502.7 836.8L501.6 836.9L500.6 837.0L499.6 837.1L498.6 837.2L497.6 837.3L496.6 837.4L495.6 837.5L494.6 837.6L493.6 837.7L492.6 837.8L491.6 837.9L490.6 838.0L489.6 838.1L488.6 838.2L487.6 838.3L486.6 838.4L485.6 838.5L484.6 838.5L483.5 838.6L482.5 838.7L481.5 838.8L480.5 838.9L479.5 839.0L478.5 839.1L477.5 839.1L476.5 839.2L475.5 839.3L474.5 839.4L473.5 839.5L472.5 839.5L471.5 839.6L470.5 839.7L469.5 839.8L468.5 839.8L467.5 839.9L466.5 840.0L465.5 840.1L464.5 840.1L463.4 840.2L462.4 840.3L461.4 840.3L460.4 840.4L459.4 840.5L458.4 840.5L457.4 840.6L456.4 840.7L455.4 840.7L454.4 840.8L453.4 840.9L452.4 840.9L451.4 841.0L450.4 841.1L449.4 841.1L448.4 841.2L447.4 841.2L446.4 841.3L445.4 841.3L444.4 841.4L443.4 841.5L442.4 841.5L441.3 841.6L440.3 841.6L439.3 841.7L438.3 841.7L437.3 841.8L436.3 841.8L435.3 841.9L434.3 841.9L433.3 842.0L432.3 842.0L431.3 842.1L430.3 842.1L429.3 842.2L428.3 842.2L427.3 842.3L426.3 842.3L425.3 842.4L424.3 842.4L423.3 842.4L422.3 842.5L421.3 842.5L420.3 842.6L419.3 842.6L418.3 842.7L417.3 842.7L416.2 842.7L415.2 842.8L414.2 842.8L413.2 842.8L412.2 842.9L411.2 842.9L410.2 843.0L409.2 843.0L408.2 843.0L407.2 843.1L406.2 843.1L405.2 843.1L404.2 843.2L403.2 843.2L402.2 843.2L401.2 843.3L400.2 843.3L399.2 843.3L398.2 843.3L397.2 843.4L396.2 843.4L395.2 843.4L394.2 843.5L393.2 843.5L392.2 843.5L391.2 843.5L390.2 843.6L389.2 843.6L388.2 843.6L387.2 843.6L386.1 843.7L385.1 843.7L384.1 843.7L383.1 843.7L382.1 843.7L381.1 843.8L380.1 843.8L379.1 843.8L378.1 843.8L377.1 843.8L376.1 843.9L375.1 843.9L374.1 843.9L373.1 843.9L372.1 843.9L371.1 844.0L370.1 844.0L369.1 844.0L368.1 844.0L367.1 844.0L366.1 844.0L365.1 844.1L364.1 844.1L363.1 844.1L362.1 844.1L361.1 844.1L360.1 844.1L359.1 844.1L358.1 844.2L357.1 844.2L356.1 844.2L355.1 844.2L354.1 844.2L353.1 844.2L352.1 844.2L351.1 844.2L350.1 844.2L349.1 844.3L348.1 844.3L347.1 844.3L346.1 844.3L345.1 844.3L344.1 844.3L343.1 844.3L342.0 844.3L341.0 844.3L340.0 844.3L339.0 844.3L338.0 844.3L337.0 844.3L336.0 844.4L335.0 844.4L334.0 844.4L333.0 844.4L332.0 844.4L331.0 844.4L330.0 844.4L329.0 844.4L328.0 844.4L327.0 844.4L326.0 844.4L325.0 844.4L324.0 844.4L323.0 844.4L322.0 844.4L321.0 844.4L320.0 844.4L319.0 844.4L318.0 844.4L317.0 844.4L316.0 844.4L315.0 844.4L314.0 844.4L313.0 844.4L312.0 844.4L311.0 844.4L310.0 844.4L309.0 844.4L308.0 844.4L307.0 844.4L306.0 844.4L305.0 844.4L304.0 844.4L303.0 844.4L302.0 844.4L301.0 844.4L300.0 844.4L299.0 844.4L298.0 844.4L297.0 844.4L296.0 844.4L295.0 844.4L294.0 844.4L293.0 844.4L292.0 844.4L291.0 844.4L290.0 844.4L289.0 844.4L288.0 844.4L287.0 844.4L286.0 844.4L285.0 844.4L284.0 844.4L283.0 844.4L282.0 844.4L281.0 844.4L280.0 844.4L279.0 844.4L278.0 844.4L277.0 844.4L276.0 844.4L275.0 844.4L274.0 844.4L273.0 844.4L272.0 844.4L271.0 844.4L270.0 844.4L269.0 844.4L268.0 844.4L267.0 844.4L266.0 844.4L265.0 844.4L264.0 844.4L263.0 844.4L262.0 844.4L261.0 844.4L260.0 844.4L259.0 844.4L258.0 844.4L257.0 844.4L256.0 844.4L255.0 844.4L254.0 844.4L253.0 844.4L252.0 844.4L251.0 844.4L250.0 844.4L249.0 844.4L248.0 844.4L247.0 844.4L246.0 844.4L245.0 844.4L244.0 844.4L243.0 844.4L242.0 844.4L241.0 844.4L240.0 844.4L239.0 844.4L238.0 844.4L237.0 844.4L236.0 844.4L235.0 844.4L234.0 844.4L233.0 844.4L232.0 844.4L231.0 844.4L230.0 844.4L229.0 844.4L228.0 844.4L227.0 844.4L226.0 844.4L225.0 844.4L224.0 844.4L223.0 844.4L222.0 844.4L221.0 844.4L220.0 844.4L219.0 844.5L218.0 844.5L217.0 844.5L216.0 844.5L215.0 844.5L214.0 844.5L213.0 844.5L212.0 844.5L211.0 844.5L210.0 844.5L209.0 844.5L208.0 844.5L207.0 844.5L206.1 844.5L205.1 844.5L204.1 844.6L203.1 844.6L202.1 844.6L201.1 844.6L200.1 844.6L199.1 844.6L198.1 844.6L197.1 844.6L196.1 844.6L195.1 844.6L194.1 844.7L193.1 844.7L192.1 844.7L191.1 844.7L190.1 844.7L189.1 844.7L188.1 844.7L187.1 844.7L186.1 844.8L185.1 844.8L184.1 844.8L183.1 844.8L182.1 844.8L181.1 844.8L180.1 844.8L179.1 844.9L178.1 844.9L177.1 844.9L176.1 844.9L175.1 844.9L174.1 845.0L173.1 845.0L172.1 845.0L171.1 845.0L170.1 845.0L169.1 845.1L168.0 845.1Z" fill="#000000" stroke="none"/>
<path d="M168.0 839.8L168.7 839.8L169.4 839.8L170.1 839.7L170.8 839.5L171.5 839.5L172.2 839.1L172.9 839.2L173.6 839.1L174.3 839.3L175.0 839.1L175.7 839.3L176.4 839.4L177.1 839.2L177.8 839.4L178.5 839.3L179.2 839.0L179.9 839.2L180.6 839.0L181.3 839.0L182.0 838.8L182.7 839.0L183.4 838.8L184.1 838.6L184.8 838.7L185.5 838.8L186.2 838.6L186.9 838.5L187.6 838.6L188.3 839.0L189.0 839.0L189.7 838.9L190.4 839.0L191.1 839.0L191.8 838.8L192.5 838.6L193.2 838.9L193.9 838.9L194.6 838.8L195.3 838.7L196.0 838.8L196.7 838.9L197.4 838.8L198.1 838.9L198.8 839.0L199.5 839.2L200.2 839.1L200.9 839.0L201.6 839.0L202.3 839.1L203.0 838.9L203.7 838.9L204.4 839.0L205.1 838.7L205.8 838.8L206.5 838.7L207.2 838.8L207.9 838.7L208.6 838.6L209.3 838.5L210.0 838.2L210.7 838.3L211.4 838.1L212.1 838.1L212.8 837.9L213.5 837.9L214.2 837.7L214.9 837.8L215.6 838.1L216.3 837.7L217.0 838.0L217.7 838.0L218.4 838.1L219.1 838.0L219.8 838.1L220.5 837.9L221.2 838.0L221.9 838.1L222.6 838.1L223.3 838.0L224.0 838.1L224.7 838.3L225.4 838.1L226.1 838.5L226.8 838.3L227.5 838.2L228.2 838.3L228.9 838.0L229.6 838.4L230.3 838.4L231.0 838.3L231.7 838.2L232.4 838.4L233.1 838.3L233.8 838.2L234.5 838.4L235.2 838.2L235.9 838.0L236.6 838.0L237.3 837.8L238.0 837.8L238.7 838.0L239.4 838.1L240.1 838.2L240.8 838.1L241.5 837.9L242.2 837.7L242.9 837.9L243.6 838.2L244.3 838.1L245.0 837.9L245.7 837.9L246.4 837.8L247.1 837.8L247.8 837.7L248.5 838.2L249.2 838.0L249.9 837.8L250.6 838.0L251.3 837.8L252.0 837.9L252.7 838.3L253.4 838.3L254.1 838.2L254.8 838.1L255.5 838.4L256.2 838.6L256.9 838.3L257.6 838.1L258.3 838.1L259.0 838.1L259.7 838.6L260.4 838.3L261.1 838.5L261.8 838.1L262.5 838.1L263.2 838.3L263.9 838.4L264.6 838.1L265.3 838.0L266.0 838.4L266.7 838.1L267.4 838.4L268.1 838.1L268.8 838.3L269.5 838.4L270.2 838.4L270.9 838.2L271.6 838.4L272.3 838.1L273.0 838.2L273.7 838.3L274.4 838.6L275.1 838.2L275.8 838.7L276.5 838.7L277.2 838.8L277.9 838.5L278.6 838.5L279.3 838.5L280.0 838.8L280.7 838.9L281.4 838.7L282.1 838.5L282.8 838.3L283.5 838.6L284.2 838.6L284.9 838.1L285.6 838.1L286.3 838.4L287.0 838.4L287.7 838.1L288.4 838.1L289.1 838.1L289.8 838.2L290.5 837.9L291.2 838.3L291.9 838.2L292.6 838.3L293.3 838.1L294.0 838.5L294.7 838.5L295.4 838.3L296.1 838.8L296.8 838.7L297.5 838.8L298.2 838.5L298.9 838.5L299.6 838.9L300.3 838.6L301.0 838.7L301.7 838.4L302.4 838.7L303.1 838.3L303.8 838.4L304.5 837.8L305.2 837.9L305.9 837.6L306.6 837.9L307.3 837.6L308.0 837.4L308.7 837.4L309.4 837.6L310.1 837.4L310.8 837.5L311.5 837.7L312.2 837.8L312.9 838.0L313.6 838.1L314.3 838.0L315.0 838.2L315.7 838.0L316.4 838.1L317.1 838.4L317.8 838.1L318.5 838.2L319.2 838.3L319.9 838.4L320.6 838.2L321.3 838.2L322.0 838.5L322.7 838.3L323.4 838.5L324.1 838.6L324.8 838.4L325.5 838.4L326.2 838.2L326.9 838.0L327.6 838.1L328.3 838.0L329.0 838.1L329.7 837.8L330.4 837.8L331.1 838.1L331.8 837.8L332.5 837.8L333.2 838.1L333.9 837.7L334.6 837.7L335.3 838.0L336.0 837.9L336.7 838.0L337.4 837.7L338.1 837.9L338.8 837.7L339.5 837.8L340.2 838.1L340.9 837.8L341.6 837.9L342.3 838.3L343.0 838.3L343.7 838.0L344.4 838.2L345.1 838.1L345.8 838.0L346.5 838.2L347.2 837.8L347.9 838.1L348.6 837.7L349.3 838.1L350.0 838.0L350.7 837.8L351.4 838.0L352.1 837.8L352.8 838.0L353.5 837.6L354.2 837.8L354.9 838.0L355.6 838.0L356.3 837.6L357.0 837.6L357.7 838.0L358.4 837.6L359.1 837.5L359.8 837.8L360.5 837.6L361.2 837.7L361.9 837.5L362.6 837.5L363.3 837.4L364.0 837.2L364.7 837.5L365.4 837.2L366.1 837.2L366.8 837.1L367.5 836.6L368.2 836.8L368.9 836.6L369.6 836.3L370.3 836.2L371.0 835.9L371.7 836.1L372.4 835.7L373.1 835.9L373.8 835.7L374.5 835.6L375.2 835.9L375.9 835.9L376.6 836.0L377.3 836.1L378.0 836.2L378.7 835.6L379.4 835.9L380.1 835.9L380.8 835.9L381.5 835.8L382.2 835.7L382.9 835.8L383.6 835.5L384.3 835.5L385.0 835.5L385.7 835.1L386.4 835.2L387.1 835.0L387.8 834.9L388.5 834.8L389.2 834.8L389.9 834.7L390.6 834.8L391.3 834.7L392.0 834.8L392.7 834.5L393.4 834.7L394.1 834.3L394.8 834.4L395.5 834.2L396.2 834.2L396.9 834.0L397.6 834.3L398.3 834.2L399.0 833.7L399.7 833.9L400.4 834.2L401.1 833.6L401.8 833.7L402.5 833.9L403.2 833.4L403.9 833.8L404.6 833.6L405.3 833.6L406.0 833.4L406.7 833.5L407.4 833.1L408.1 833.1L408.8 832.6L409.5 832.8L410.2 832.6L410.9 832.8L411.6 832.6L412.3 831.9L413.0 831.7L413.7 831.7L414.4 831.6L415.1 831.8L415.8 831.5L416.5 831.4L417.2 831.3L417.9 830.9L418.6 831.0L419.3 831.3L420.0 831.0L420.7 830.7L421.4 830.4L422.1 830.7L422.8 830.3L423.5 830.3L424.2 829.9L424.9 829.8L425.6 829.7L426.3 829.7L427.0 829.3L427.7 829.7L428.4 829.3L429.1 829.5L429.8 829.4L430.5 829.4L431.2 829.0L431.9 828.9L432.6 829.1L433.3 828.8L434.0 828.5L434.7 828.9L435.4 828.2L436.1 828.6L436.8 828.1L437.5 828.0L438.2 828.3L438.9 827.8L439.6 827.8L440.3 827.4L441.0 827.6L441.7 827.3L442.4 826.9L443.1 826.5L443.8 826.5L444.5 826.3L445.2 826.0L445.9 826.0L446.6 825.6L447.3 825.6L448.0 825.5L448.7 825.4L449.4 825.3L450.1 825.1L450.8 824.8L451.5 824.7L452.2 824.8L452.9 824.3L453.6 824.4L454.3 824.5L455.0 824.3L455.7 823.9L456.4 823.6L457.1 823.7L457.8 823.6L458.5 823.4L459.2 823.1L459.9 823.1L460.6 822.7L461.3 822.7L462.0 822.5L462.7 822.7L463.4 822.8L464.1 822.1L464.8 821.9L465.5 822.2L466.2 821.8L466.9 821.8L467.6 821.3L468.3 821.3L469.0 821.5L469.7 821.3L470.4 821.4L471.1 821.3L471.8 820.8L472.5 820.8L473.2 820.6L473.9 820.4L474.6 820.2L475.3 820.4L476.0 819.9L476.7 819.3L477.4 819.5L478.1 819.4L478.8 819.1L479.5 818.6L480.2 817.9L480.9 818.2L481.6 818.0L482.3 817.6L483.0 817.1L483.7 816.8L484.4 816.9L485.1 816.1L485.8 816.4L486.5 816.0L487.2 815.4L487.9 815.7L488.6 815.1L489.3 814.6L490.0 814.4L490.7 814.7L491.4 813.9L492.1 814.0L492.8 813.8L493.5 812.9L494.2 812.9L494.9 812.8L495.6 812.3L496.3 812.3L497.0 811.6L497.7 811.6L498.4 811.0L499.1 811.2L499.8 811.0L500.5 810.5L501.2 810.1L501.9 809.9L502.6 810.0L503.3 809.4L504.0 809.6L504.7 809.3L505.4 809.2L506.1 809.0L506.8 809.3L507.5 808.6L508.2 808.5L508.9 808.2L509.6 807.9L510.3 808.0L511.0 808.1L511.7 807.9L512.4 807.3L513.1 806.9L513.8 807.0L514.5 806.5L515.2 806.2L515.9 806.1L516.6 805.3L517.3 805.8L518.0 804.9L518.7 805.1L519.4 805.2L520.1 804.6L520.8 804.2L521.5 804.3L522.2 804.2L522.9 803.7L523.6 802.9L524.3 803.3L525.0 802.2L525.7 802.5L526.4 802.3L527.1 801.3L527.8 801.4L528.5 801.2L529.2 800.5L529.9 800.3L530.6 799.9L531.3 799.7L532.0 799.4L532.7 799.2L533.4 799.4L534.1 799.0L534.8 798.7L535.5 798.2L536.2 797.9L536.9 796.9L537.6 796.8L538.3 795.9L539.0 795.9L539.7 795.8L540.4 795.1L541.1 794.5L541.8 794.1L542.5 793.9L543.2 794.1L543.9 793.8L544.6 793.3L545.3 793.2L546.0 792.6L546.7 791.8L547.4 791.6L548.1 791.5L548.8 791.1L549.5 790.7L550.2 790.1L550.9 789.3L551.6 789.7L552.3 788.6L553.0 788.9L553.7 787.6L554.4 788.1L555.1 787.0L555.8 787.1L556.5 785.8L557.2 785.8L557.9 785.2L558.6 785.3L559.3 784.8L560.0 784.2L560.7 784.0L561.4 783.9L562.1 782.5L562.8 782.6L563.5 782.3L564.2 781.8L564.9 781.0L565.6 781.3L566.3 780.2L567.0 780.5L567.7 779.7L568.4 779.0L569.1 779.4L569.8 778.2L570.5 778.7L571.2 778.1L571.9 778.0L572.6 777.5L573.3 776.6L574.0 775.8L574.7 775.4L575.4 774.5L576.1 774.7L576.8 773.5L577.5 773.0L578.2 772.5L578.9 772.2L579.6 772.0L580.3 771.2L581.0 770.8L581.7 769.8L582.4 769.7L583.1 769.1L583.8 769.3L584.5 768.0L585.2 768.4L585.9 768.1L586.6 767.5L587.3 766.5L588.0 766.4L588.7 766.0L589.4 765.6L590.1 765.2L590.8 765.6L591.5 764.9L592.2 764.6L592.9 763.9L593.6 762.9L594.3 763.2L595.0 762.0L595.7 761.1L596.4 761.3L597.1 760.1L597.8 760.3L598.5 759.6L599.2 758.5L599.9 758.2L600.6 757.9L601.3 757.3L602.0 756.5L602.7 755.5L603.4 755.1L604.1 755.0L604.8 754.1L605.5 753.9L606.2 753.2L606.9 752.2L607.6 751.2L608.3 751.4L609.0 750.3L609.7 749.9L610.4 748.7L611.1 748.0L611.8 747.8L612.5 747.4L613.2 746.0L613.9 746.2L614.6 745.7L615.3 744.8L616.0 744.2L616.7 742.8L617.4 742.0L618.1 741.7L618.8 740.7L619.5 740.5L620.2 740.4L620.9 739.0L621.6 739.2L622.3 737.9L623.0 736.7L623.7 736.7L624.4 735.7L625.1 734.7L625.8 734.2L626.5 734.2L627.2 733.0L627.9 731.6L628.6 731.8L629.3 729.8L630.0 729.4L630.7 728.6L631.4 728.8L632.1 726.5L632.8 726.8L633.5 725.8L634.2 724.6L634.9 724.6L635.6 724.2L636.3 723.4L637.0 721.6L637.7 722.0L638.4 720.6L639.1 720.7L639.8 719.5L640.5 717.9L641.2 718.3L641.9 717.2L642.6 716.3L643.3 715.8L644.0 714.7L644.7 713.3L645.4 714.1L646.1 712.3L646.8 711.6L647.5 710.5L648.2 711.0L648.9 710.7L649.6 709.2L650.3 709.2L651.0 707.6L651.7 707.0L652.4 706.1L653.1 705.3L653.8 705.0L654.5 703.7L655.2 702.4L655.9 702.7L656.6 701.1L657.3 700.4L658.0 699.1L658.7 698.0L659.4 698.3L660.1 697.0L660.8 697.1L661.5 694.5L662.2 695.2L662.9 692.8L663.6 692.2L664.3 691.0L665.0 691.0L665.7 689.8L666.4 688.8L667.1 689.1L667.8 687.4L668.5 687.1L669.2 686.1L669.9 684.0L670.6 683.7L671.3 681.8L672.0 681.2L672.7 680.8L673.4 679.7L674.1 677.7L674.8 676.8L675.5 677.4L676.2 676.4L676.9 675.4L677.6 673.7L678.3 674.1L679.0 672.9L679.7 671.2L680.4 670.4L681.1 670.5L681.8 670.4L682.5 668.7L683.2 667.1L683.9 667.0L684.6 664.9L685.3 664.8L686.0 663.2L686.7 661.2L687.4 661.2L688.1 660.0L688.8 659.8L689.5 658.2L690.2 656.2L690.9 655.9L691.6 653.8L692.3 653.7L693.0 652.4L693.7 651.4L694.4 649.2L695.1 649.4L695.8 647.8L696.5 647.2L697.2 644.5L697.9 645.0L698.6 644.4L699.3 642.4L700.0 640.2L700.7 640.9L701.4 638.9L702.1 637.0L702.8 636.6L703.5 636.0L704.2 633.0L704.9 632.9L705.6 631.9L706.3 631.4L707.0 628.0L707.7 628.1L708.4 627.5L709.1 626.3L709.8 625.7L710.5 624.1L711.2 622.9L711.9 621.8L712.6 619.6L713.3 620.2L714.0 618.2L714.7 615.8L715.4 616.8L716.1 615.3L716.8 614.1L717.5 611.3L718.2 611.9L718.9 609.8L719.6 609.9L720.3 606.9L721.0 606.2L721.7 604.4L722.4 602.9L723.1 602.5L723.8 602.2L724.5 600.1L725.2 598.4L725.9 598.8L726.6 596.8L727.3 596.0L728.0 592.7L728.7 590.9L729.4 591.6L730.1 587.6L730.8 588.1L731.5 587.1L732.2 585.0L732.9 583.2L733.6 581.2L734.3 579.6L735.0 577.5L735.7 577.1L736.4 576.2L737.1 574.0L737.8 574.9L738.5 573.6L739.2 570.0L739.9 569.4L740.6 568.8L741.3 566.3L742.0 564.0L742.7 563.9L743.4 561.3L744.1 559.9L744.8 558.6L745.5 555.3L746.2 554.9L746.9 551.7L747.6 551.1L748.3 548.0L749.0 547.8L749.7 544.5L750.4 544.6L751.1 540.1L751.8 540.0L752.5 538.7L753.2 536.9L753.9 533.9L754.6 532.2L755.3 529.6L756.0 529.7L756.7 527.6L757.4 524.9L758.1 523.0L758.8 522.6L759.5 519.3L760.2 515.6L760.9 513.6L761.6 513.8L762.3 510.8L763.0 508.8L763.7 506.2L764.4 502.5L765.1 503.2L765.8 499.5L766.5 497.7L767.2 495.4L767.9 492.1L768.6 493.1L769.3 490.9L770.0 485.1L770.7 483.0L771.4 482.1L772.1 482.2L772.8 477.9L773.5 477.3L774.2 472.6L774.9 470.8L775.6 469.7L776.3 466.6L777.0 462.7L777.7 460.8L778.4 459.0L779.1 455.6L779.8 452.2L780.5 449.8L781.2 449.5L781.9 444.8L782.6 442.2L783.3 440.2L784.0 440.8L784.7 438.4L785.4 433.7L786.1 430.2L786.8 428.8L787.5 428.4L788.2 424.7L788.9 423.8L789.6 421.4L790.3 418.7L791.0 416.6L791.7 412.4L792.4 408.3L793.1 408.4L793.8 406.7L794.5 402.5L795.2 397.7L795.9 398.2L796.6 395.4L797.3 392.6L798.0 388.7L798.7 387.4L799.4 381.4L800.1 380.5L800.8 380.0L801.5 377.5L802.2 374.1L802.9 370.6L803.6 368.3L804.3 364.7L805.0 361.4L805.7 362.4L806.4 358.4L807.1 354.8L807.8 352.2L808.5 348.9L809.2 346.5L809.9 346.5L810.6 342.0L811.3 339.5L812.0 339.7L812.7 333.2L813.4 335.1L814.1 329.6L814.8 329.2L815.5 326.5L816.2 323.2L816.9 317.1L817.6 317.8L818.3 314.0L819.0 310.7L819.7 309.2L820.4 307.4L821.1 303.3L821.8 300.8L822.5 297.1L823.2 294.2L823.9 294.2L824.6 293.7L825.3 286.2L826.0 287.0L826.7 284.2L827.4 282.7L828.1 277.8L828.8 275.1L829.5 272.8L830.2 273.7L830.9 271.4L831.6 268.8L832.3 263.3L833.0 261.5L833.7 258.6L834.4 258.6L835.1 253.6L835.8 254.4L836.5 252.4L837.2 248.6L837.9 244.2L838.6 242.5L839.3 242.2L840.0 241.1L840.7 235.6L841.4 236.2L842.1 235.7L842.8 232.4L843.5 231.2L844.2 229.6L844.9 223.1L845.6 220.7L846.3 223.1L847.0 217.8L847.7 214.1L848.4 215.6L849.1 212.8L849.8 209.1L850.5 212.0L851.2 207.4L851.9 208.9L852.6 202.5L853.3 199.3L854.0 203.2L854.7 197.5L855.4 200.0L856.1 195.6L856.8 195.6L857.5 190.3L858.2 190.0L858.9 191.6L859.6 192.4L860.3 190.3L861.0 189.8L861.7 187.7L862.4 188.1L863.1 181.3L863.8 179.1L864.5 178.8L865.2 180.5L865.9 177.5L866.6 173.1L867.3 172.7L868.0 173.1L868.7 172.6L869.4 171.3L870.1 173.3L870.8 173.6L871.5 175.4L872.2 168.2L872.9 175.6L873.6 166.5L874.3 166.4L875.0 165.5L875.7 170.8L876.4 169.9L877.1 163.8L877.8 161.9L878.5 156.6L879.2 159.6L879.9 156.0L880.6 160.8L881.3 158.1L882.0 166.6L882.7 168.5L883.4 163.9L884.1 163.9L884.8 161.6L885.5 171.8L886.2 172.1L886.9 166.5L887.6 169.4L888.3 162.6L889.0 165.4L889.7 162.5L890.4 169.3L891.1 165.1L891.8 168.0L892.5 164.9L893.2 159.7L893.9 162.1L894.6 165.0L895.3 168.1L896.0 166.3L896.7 164.5L897.4 167.7L898.1 168.4L898.8 171.9L899.5 170.4L900.2 167.3L900.9 175.7L901.6 171.2L902.3 174.2L903.0 179.9L903.7 179.5L904.4 181.1L905.1 181.1L905.8 182.4L906.5 183.4L907.2 188.1L907.9 187.1L908.6 187.1L909.3 189.3L910.0 190.7L910.7 197.4L911.4 195.0L912.1 196.5L912.8 201.1L913.5 200.6L914.2 205.7L914.9 206.7L915.6 207.9L916.3 209.0L917.0 210.1L917.7 212.4L918.4 215.9L919.1 213.6L919.8 216.6L920.5 221.5L921.2 223.5L921.9 224.6L922.6 224.8L923.3 226.7L924.0 230.9L924.7 231.5L925.4 236.9L926.1 239.5L926.8 241.7L927.5 243.8L928.2 248.0L928.9 248.5L929.6 249.4L930.3 251.8L931.0 253.5L931.7 259.2L932.4 262.5L933.1 264.1L933.8 263.7L934.5 269.5L935.2 272.1L935.9 272.4L936.6 275.9L937.3 275.7L938.0 281.3L938.7 280.5L939.4 285.1L940.1 290.4L940.8 292.1L941.5 293.4L942.2 299.2L942.9 300.4L943.6 304.8L944.3 305.1L945.0 308.7L945.7 311.4L946.4 310.8L947.1 313.9L947.8 316.4L948.5 319.5L949.2 326.4L949.9 327.3L950.6 330.3L951.3 334.1L952.0 332.9L952.7 338.8L953.4 340.5L954.1 342.7L954.8 347.6L955.5 350.9L956.2 352.8L956.9 356.3L957.6 360.2L958.3 360.7L959.0 366.0L959.7 367.2L960.4 372.2L961.1 374.1L961.8 376.4L962.5 380.9L963.2 381.4L963.9 382.8L964.6 387.1L965.3 389.2L966.0 394.9L966.7 394.1L967.4 399.3L968.1 402.1L968.8 403.2L969.5 409.1L970.2 411.8L970.9 414.4L971.6 420.0L972.3 419.5L973.0 425.0L973.7 426.7L974.4 430.7L975.1 433.2L975.8 437.6L976.5 441.5L977.2 441.1L977.9 445.8L978.6 449.8L979.3 451.0L980.0 454.3L980.7 459.9L981.4 459.6L982.1 464.7L982.8 468.4L983.5 471.5L984.2 472.4L984.9 479.2L985.6 478.8L986.3 482.2L987.0 487.5L987.7 488.9L988.4 493.1L989.1 498.1L989.8 500.4L990.5 503.6L991.2 507.9L991.9 507.9L992.6 514.1L993.3 515.7L994.0 518.7L994.7 519.2L995.4 525.0L996.1 526.1L996.8 529.0L997.5 532.6L998.2 534.7L998.9 539.5L999.6 542.3L1000.3 543.5L1001.0 546.0L1001.7 549.6L1002.4 554.5L1003.1 555.3L1003.8 558.8L1004.5 560.8L1005.2 564.6L1005.9 569.0L1006.6 570.1L1007.3 571.7L1008.0 576.3L1008.7 579.5L1009.4 580.9L1010.1 582.9L1010.8 586.3L1011.5 590.2L1012.2 591.9L1012.9 593.2L1013.6 597.7L1014.3 599.0L1015.0 602.3L1015.7 604.5L1016.4 606.3L1017.1 609.3L1017.8 611.3L1018.5 614.4L1019.2 615.6L1019.9 620.1L1020.6 621.9L1021.3 623.8L1022.0 624.8L1022.7 628.7L1023.4 630.9L1024.1 631.0L1024.8 633.5L1025.5 635.4L1026.2 638.0L1026.9 641.5L1027.6 644.2L1028.3 645.4L1029.0 647.5L1029.7 650.5L1030.4 653.1L1031.1 654.7L1031.8 657.0L1032.5 659.1L1033.2 661.5L1033.9 663.7L1034.6 665.3L1035.3 669.2L1036.0 670.5L1036.7 673.0L1037.4 674.5L1038.1 677.2L1038.8 678.1L1039.5 681.3L1040.2 683.5L1040.9 683.7L1041.6 686.2L1042.3 687.3L1043.0 690.6L1043.7 691.9L1044.4 692.8L1045.1 696.2L1045.8 698.0L1046.5 698.6L1047.2 701.2L1047.9 701.7L1048.6 704.5L1049.3 705.6L1050.0 706.9L1050.7 709.2L1051.4 711.4L1052.1 712.3L1052.8 715.5L1053.5 716.4L1054.2 718.3L1054.9 720.7L1055.6 722.3L1056.3 723.6L1057.0 725.2L1057.7 726.9L1058.4 728.1L1059.1 729.5L1059.8 731.3L1060.5 731.6L1061.2 734.3L1061.9 734.5L1062.6 735.8L1063.3 737.8L1064.0 739.0L1064.7 740.3L1065.4 742.0L1066.1 742.1L1066.8 743.7L1067.5 745.1L1068.2 747.0L1068.9 748.0L1069.6 749.8L1070.3 750.8L1071.0 751.6L1071.7 753.9L1072.4 754.8L1073.1 755.9L1073.8 756.9L1074.5 758.8L1075.2 759.7L1075.9 760.2L1076.6 761.7L1077.3 763.6L1078.0 763.9L1078.7 764.9L1079.4 766.0L1080.1 767.2L1080.8 768.4L1081.5 770.1L1082.2 771.8L1082.9 773.1L1083.6 774.2L1084.3 774.8L1085.0 776.3L1085.7 776.7L1086.4 778.6L1087.1 779.1L1087.8 780.6L1088.5 781.3L1089.2 782.5L1089.9 783.4L1090.6 784.5L1091.3 785.2L1092.0 785.9L1092.7 787.2L1093.4 788.2L1094.1 788.6L1094.8 790.0L1095.5 790.3L1096.2 791.0L1096.9 791.8L1097.6 793.1L1098.3 793.2L1099.0 794.3L1099.7 794.9L1100.4 796.1L1101.1 795.9L1101.8 797.4L1102.5 797.5L1103.2 798.6L1103.9 798.8L1104.6 799.9L1105.3 800.3L1106.0 800.9L1106.7 801.6L1107.4 802.4L1108.1 803.8L1108.8 804.1L1109.5 804.8L1110.2 806.0L1110.9 806.5L1111.6 807.3L1112.3 807.7L1113.0 808.4L1113.7 809.0L1114.4 809.8L1115.1 810.5L1115.8 811.4L1116.5 811.8L1117.2 812.4L1117.9 812.9L1118.6 813.6L1119.3 814.3L1120.0 814.6L1120.7 815.6L1121.4 816.2L1122.1 816.5L1122.8 816.8L1123.5 817.7L1124.2 817.5L1124.9 818.0L1125.6 818.8L1126.3 819.2L1127.0 819.3L1127.7 819.4L1128.4 820.2L1129.1 820.3L1129.8 821.1L1130.5 820.9L1131.2 821.7L1131.9 821.8L1132.6 822.8L1133.3 823.3L1134.0 823.5L1134.7 824.0L1135.4 824.5L1136.1 825.0L1136.8 824.8L1137.5 825.3L1138.2 825.9L1138.9 825.8L1139.6 826.2L1140.3 826.8L1141.0 826.8L1141.7 827.1L1142.4 827.1L1143.1 827.4L1143.8 828.2L1144.5 828.4L1145.2 828.3L1145.9 829.1L1146.6 829.4L1147.3 829.4L1148.0 830.0L1148.7 829.8L1149.4 830.2L1150.1 830.8L1150.8 830.8L1151.5 830.9L1152.2 831.1L1152.9 831.2L1153.6 831.3L1154.3 831.6L1155.0 831.8L1155.7 831.7L1156.4 832.2L1157.1 832.0L1157.8 832.1L1158.5 832.7L1159.2 832.6L1159.9 832.6L1160.6 832.9L1161.3 833.0L1162.0 833.2L1162.7 833.9L1163.4 833.6L1164.1 834.2L1164.8 834.2L1165.5 834.3L1166.2 834.9L1166.9 834.9L1167.6 834.8L1168.3 835.2L1169.0 835.5L1169.7 835.6L1170.4 835.7L1171.1 835.9L1171.8 836.0L1172.5 836.2L1173.2 836.6L1173.9 836.7L1174.6 836.6L1175.3 836.9L1176.0 836.6L1176.7 836.9L1177.4 837.1L1178.1 836.9L1178.8 837.2L1179.5 837.3L1180.2 837.1L1180.9 837.7L1181.6 837.5L1182.3 837.7L1183.0 837.5L1183.7 837.9L1184.4 837.9L1185.1 838.2L1185.8 837.9L1186.5 838.4L1187.2 838.1L1187.9 838.6L1188.6 838.6L1189.3 838.6L1190.0 838.5L1190.7 838.6L1191.4 838.8L1192.1 838.7L1192.8 838.6L1193.5 839.0L1194.2 839.0L1194.9 838.8L1195.6 838.8L1196.3 839.2L1197.0 838.9L1197.7 838.8L1198.4 839.3L1199.1 838.9L1199.8 839.1L1200.5 839.2L1201.2 839.1L1201.9 839.0L1202.6 839.1L1203.3 839.2L1204.0 839.0L1204.7 839.4L1205.4 839.1L1206.1 839.0L1206.8 839.0L1207.5 839.0L1208.2 839.3L1208.9 839.0L1209.6 839.2L1210.3 839.2L1211.0 838.7L1211.7 839.0L1212.4 839.1L1213.1 838.8L1213.8 839.2L1214.5 839.1L1215.2 839.1L1215.9 839.5L1216.6 839.1L1217.3 839.6L1218.0 839.4L1218.7 839.7L1219.4 839.6L1220.1 839.9L1220.8 839.9L1221.5 840.4L1222.2 840.6L1222.9 840.3L1223.6 840.4L1224.3 840.9L1225.0 841.1L1225.7 841.3L1226.4 841.3L1227.1 841.4L1227.8 841.4L1228.5 841.2L1229.2 841.7L1229.9 841.6L1230.6 841.5L1231.3 841.3L1232.0 841.4L1232.7 841.5L1233.4 841.9L1234.1 841.7L1234.8 841.7L1235.5 841.6L1236.2 841.8L1236.9 841.6L1237.6 841.6L1238.3 841.8L1239.0 841.6L1239.7 842.0L1240.4 841.7L1241.1 841.9L1241.8 842.1L1242.5 841.8L1243.2 841.9L1243.9 842.0L1244.6 841.9L1245.3 841.8L1246.0 841.9L1246.7 842.0L1247.4 841.8L1248.1 842.0L1248.8 841.8L1249.5 841.9L1250.2 842.2L1250.9 841.8L1251.6 842.3L1252.3 842.0L1253.0 842.5L1253.7 842.3L1254.4 842.6L1255.1 842.4L1255.8 842.5L1256.5 842.5L1257.2 842.5L1257.9 842.7L1258.6 842.5L1259.3 842.7L1260.0 843.0L1260.7 842.9L1261.4 842.8L1262.1 842.6L1262.8 842.6L1263.5 843.0L1264.2 842.8L1264.9 842.8L1265.6 842.9L1266.3 842.9L1267.0 843.0L1267.7 842.9L1268.4 842.9L1269.1 842.9L1269.8 843.1L1270.5 843.2L1271.2 842.9L1271.9 842.8L1272.6 843.1L1273.3 842.7L1274.0 842.9L1274.7 842.6L1275.4 842.7L1276.1 842.6L1276.8 842.4L1277.5 842.3L1278.2 842.4L1278.9 842.5L1279.6 842.5L1280.3 842.5L1281.0 842.5L1281.7 842.4L1282.4 842.7L1283.1 842.8L1283.8 842.7L1284.5 842.8L1285.2 842.7L1285.9 842.8L1286.6 843.1L1287.3 843.3L1288.0 843.3L1288.7 843.6L1289.4 843.8L1290.1 843.9L1290.8 844.1L1291.5 844.1L1292.2 843.9L1292.9 844.0L1293.6 844.0L1294.3 844.0L1295.0 843.9L1295.7 843.8L1296.4 844.0L1297.1 843.7L1297.8 843.8L1298.5 843.3L1299.2 843.5L1299.9 843.3L1300.6 843.1L1301.3 842.9L1302.0 843.2L1302.7 842.7L1303.4 843.1L1304.1 842.8L1304.8 843.0L1305.5 842.6L1306.2 842.7L1306.9 842.9L1307.6 843.0L1308.3 843.1L1309.0 842.9L1309.7 843.2L1310.4 843.1L1311.1 843.0L1311.8 843.0L1312.5 843.1L1313.2 843.4L1313.9 843.1L1314.6 843.3L1315.3 843.0L1316.0 843.4L1316.7 843.3L1317.4 842.9L1318.1 842.8L1318.8 843.1L1319.5 842.7L1320.2 842.6L1320.9 842.7L1321.6 842.5L1322.3 842.4L1323.0 842.6L1323.7 842.8L1324.4 842.4L1325.1 842.8L1325.8 842.7L1326.5 842.9L1327.2 842.7L1327.9 842.8L1328.6 843.0L1329.3 843.0L1330.0 843.1L1330.7 843.1L1331.4 843.6L1332.1 843.5L1332.8 843.4L1333.5 843.8L1334.2 843.5L1334.9 843.5L1335.6 843.7L1336.3 843.8L1337.0 843.7L1337.7 843.7L1338.4 843.5L1339.1 843.7L1339.8 843.5L1340.5 843.2L1341.2 843.5L1341.9 843.1L1342.6 843.2L1343.3 843.3L1344.0 843.4L1344.7 843.1L1345.4 843.0L1346.1 843.2L1346.8 843.3L1347.5 843.1L1348.2 843.2L1348.9 843.3L1349.6 843.2L1350.3 843.4L1351.0 843.1L1351.7 843.4L1352.4 843.0L1353.1 843.1L1353.8 843.4L1354.5 843.2L1355.2 843.4L1355.9 843.3L1356.6 843.4L1357.3 843.1L1358.0 843.2L1358.7 843.2L1359.4 843.0L1360.1 843.1L1360.8 843.2L1361.5 843.3L1362.2 843.0L1362.9 842.8L1363.6 842.9L1364.3 842.8L1365.0 842.8L1365.7 842.9L1366.4 842.8L1367.1 843.1L1367.8 842.9L1368.5 843.2L1369.2 842.9L1369.9 843.3L1370.6 842.9L1371.3 843.2L1372.0 843.0L1372.7 843.1L1373.4 843.4L1374.1 843.3L1374.8 843.2L1375.5 843.1L1376.2 843.4L1376.9 843.3L1377.6 842.9L1378.3 843.1L1379.0 843.1L1379.7 842.8L1380.4 842.7L1381.1 843.0L1381.8 843.0L1382.5 842.7L1383.2 842.5L1383.9 842.7L1384.6 842.8L1385.3 842.8L1386.0 842.8L1386.7 842.8L1387.4 842.7L1388.1 842.4L1388.8 842.7L1389.5 842.8L1390.2 842.5L1390.9 842.4L1391.6 842.7L1392.3 842.6L1393.0 842.5L1393.7 842.2L1394.4 842.4L1395.1 842.4L1395.8 842.6L1396.5 842.7L1397.2 842.5L1397.9 842.5L1398.6 842.6L1399.3 842.6L1400.0 842.6L1400.7 842.4L1401.4 842.5L1402.1 842.7L1402.8 842.6L1403.5 842.5L1404.2 842.4L1404.9 842.4L1405.6 842.3L1406.3 842.8L1407.0 842.6L1407.7 842.7L1408.4 842.7L1409.1 842.6L1409.8 842.3L1410.5 842.5L1411.2 842.4L1411.9 842.2L1412.6 842.4L1413.3 842.6L1414.0 842.6L1414.7 842.1L1415.4 842.4L1416.1 842.0L1416.8 842.1L1417.5 842.0L1418.2 842.1L1418.9 841.9L1419.6 842.0L1420.3 841.9L1421.0 842.2L1421.7 842.2L1422.4 842.0L1423.1 841.8L1423.8 841.9L1424.5 841.8L1425.2 842.2L1425.9 842.0L1426.6 841.8L1427.3 842.0L1428.0 841.8L1428.7 842.0L1429.4 841.9L1430.1 842.0L1430.8 842.1L1431.5 841.9L1432.2 841.7L1432.9 841.9L1433.6 842.0L1434.3 841.8L1435.0 842.2L1435.7 842.2L1436.4 842.0L1437.1 842.4L1437.8 842.5L1438.5 842.5L1439.2 842.5L1439.9 842.5L1440.6 842.3L1441.3 842.3L1442.0 842.7L1442.7 842.5L1443.4 842.5L1444.1 842.5L1444.8 842.6L1445.5 842.4L1446.2 842.2L1446.9 842.2L1447.6 841.9L1448.3 842.2L1449.0 841.9L1449.7 841.6L1450.4 841.9L1451.1 841.9L1451.8 841.8L1452.5 841.6L1453.2 841.6L1453.9 841.7L1454.6 841.6L1455.3 841.4L1456.0 841.6L1456.7 841.7L1457.4 841.4L1458.1 841.4L1458.8 841.5L1459.5 841.2L1460.2 841.6L1460.9 841.2L1461.6 841.5L1462.3 841.3L1463.0 841.2L1463.7 841.4L1464.4 841.5L1465.1 841.1L1465.8 841.4L1466.5 841.0L1467.2 841.0L1467.9 841.0L1468.6 841.1L1469.3 840.9L1470.0 840.9L1470.7 841.0L1471.4 841.0L1472.1 841.1L1472.8 841.1L1473.5 841.0L1474.2 841.2L1474.9 841.4L1475.6 841.4L1476.3 841.3L1477.0 841.5L1477.7 841.4L1478.4 841.9L1479.1 842.0L1479.8 841.9L1480.5 842.0L1481.2 841.7L1481.9 841.8L1482.6 841.7L1483.3 841.6L1484.0 841.7L1484.7 841.8L1485.4 841.9L1486.1 841.9L1486.8 841.6L1487.5 841.9L1488.2 841.9L1488.9 841.8L1489.6 841.9L1490.3 842.0L1491.0 841.8L1491.7 841.6L1492.4 841.6L1493.1 841.8L1493.8 841.8L1494.5 841.7L1495.2 841.6L1495.9 841.8L1496.6 841.8L1497.3 841.8L1498.0 841.7L1498.7 841.7L1499.4 841.6L1500.1 841.6L1500.8 841.7L1501.5 841.7L1502.2 841.5L1502.9 841.6L1503.6 841.6L1504.3 841.9L1505.0 841.7L1505.7 842.0L1506.4 842.3L1507.1 842.4L1507.8 842.4L1508.5 842.5L1509.2 842.4L1509.9 842.6L1510.6 842.2L1511.3 842.4L1512.0 842.3L1512.7 842.3L1513.4 842.6L1514.1 842.5L1514.8 842.3L1515.5 842.4L1516.2 842.5L1516.9 842.4L1517.6 842.3L1518.3 842.2L1519.0 842.5L1519.7 842.5L1520.4 842.4L1521.1 842.2L1521.8 842.2L1522.5 842.5L1523.2 842.5L1523.9 842.5L1524.6 842.2L1525.3 842.3L1526.0 842.3L1526.7 842.3L1527.4 842.4L1528.1 842.8L1528.8 842.8L1529.5 842.8L1530.0 842.9" fill="none" stroke="#ff4040" stroke-width="12.5" stroke-linejoin="bevel" stroke-linecap="butt" shape-rendering="crispEdges"/>
<path d="M168.0 823.0L169.1 823.0L170.1 823.1L171.1 823.1L172.1 823.1L173.1 823.1L174.1 823.1L175.1 823.1L176.1 823.1L177.1 823.2L178.1 823.2L179.1 823.2L180.1 823.2L181.1 823.2L182.1 823.2L183.1 823.2L184.1 823.2L185.1 823.3L186.1 823.3L187.1 823.3L188.1 823.3L189.1 823.3L190.1 823.3L191.0 823.3L192.0 823.3L193.0 823.3L194.0 823.3L195.0 823.3L196.0 823.3L197.0 823.3L198.0 823.4L199.0 823.4L200.0 823.4L201.0 823.4L202.0 823.4L203.0 823.4L204.0 823.4L205.0 823.4L206.0 823.4L207.0 823.4L208.0 823.4L209.0 823.4L210.0 823.4L211.0 823.4L212.0 823.4L213.0 823.4L214.0 823.4L215.0 823.4L216.0 823.4L217.0 823.4L218.0 823.4L219.0 823.4L220.0 823.4L221.0 823.4L222.0 823.4L223.0 823.3L224.0 823.3L225.0 823.3L226.0 823.3L227.0 823.3L228.0 823.3L228.9 823.3L229.9 823.3L230.9 823.3L231.9 823.3L232.9 823.3L233.9 823.3L234.9 823.2L235.9 823.2L236.9 823.2L237.9 823.2L238.9 823.2L239.9 823.2L240.9 823.2L241.9 823.2L242.9 823.2L243.9 823.1L244.9 823.1L245.9 823.1L246.9 823.1L247.9 823.1L248.9 823.1L249.9 823.0L250.9 823.0L251.9 823.0L252.9 823.0L253.9 823.0L254.9 823.0L255.9 822.9L256.9 822.9L257.9 822.9L258.9 822.9L259.9 822.8L260.9 822.8L261.9 822.8L262.9 822.8L263.9 822.8L264.8 822.7L265.8 822.7L266.8 822.7L267.8 822.7L268.8 822.6L269.8 822.6L270.8 822.6L271.8 822.6L272.8 822.5L273.8 822.5L274.8 822.5L275.8 822.4L276.8 822.4L277.8 822.4L278.8 822.4L279.8 822.3L280.8 822.3L281.8 822.3L282.8 822.2L283.8 822.2L284.8 822.2L285.8 822.1L286.8 822.1L287.8 822.1L288.8 822.0L289.8 822.0L290.8 822.0L291.8 821.9L292.8 821.9L293.8 821.9L294.8 821.8L295.8 821.8L296.8 821.7L297.8 821.7L298.8 821.7L299.7 821.6L300.7 821.6L301.7 821.5L302.7 821.5L303.7 821.5L304.7 821.4L305.7 821.4L306.7 821.3L307.7 821.3L308.7 821.3L309.7 821.2L310.7 821.2L311.7 821.1L312.7 821.1L313.7 821.0L314.7 821.0L315.7 820.9L316.7 820.9L317.7 820.8L318.7 820.8L319.7 820.7L320.7 820.7L321.7 820.6L322.7 820.6L323.7 820.5L324.7 820.5L325.7 820.4L326.7 820.4L327.7 820.3L328.7 820.3L329.7 820.2L330.7 820.2L331.7 820.1L332.6 820.1L333.6 820.0L334.6 819.9L335.6 819.9L336.6 819.8L337.6 819.8L338.6 819.7L339.6 819.7L340.6 819.6L341.6 819.5L342.6 819.5L343.6 819.4L344.6 819.4L345.6 819.3L346.6 819.2L347.6 819.2L348.6 819.1L349.6 819.0L350.6 819.0L351.6 818.9L352.6 818.9L353.6 818.8L354.6 818.7L355.6 818.7L356.6 818.6L357.6 818.5L358.6 818.5L359.6 818.4L360.6 818.3L361.5 818.2L362.5 818.2L363.5 818.1L364.5 818.0L365.5 818.0L366.5 817.9L367.5 817.8L368.5 817.7L369.5 817.7L370.5 817.6L371.5 817.5L372.5 817.4L373.5 817.3L374.5 817.3L375.5 817.2L376.5 817.1L377.5 817.0L378.5 816.9L379.4 816.8L380.4 816.7L381.4 816.7L382.4 816.6L383.4 816.5L384.4 816.4L385.4 816.3L386.4 816.2L387.4 816.1L388.4 816.0L389.4 815.9L390.4 815.8L391.4 815.7L392.3 815.6L393.3 815.5L394.3 815.4L395.3 815.3L396.3 815.2L397.3 815.1L398.3 815.0L399.3 814.9L400.3 814.7L401.3 814.6L402.3 814.5L403.2 814.4L404.2 814.3L405.2 814.2L406.2 814.0L407.2 813.9L408.2 813.8L409.2 813.7L410.2 813.5L411.2 813.4L412.1 813.3L413.1 813.1L414.1 813.0L415.1 812.8L416.1 812.7L417.1 812.6L418.1 812.4L419.1 812.3L420.1 812.1L421.0 812.0L422.0 811.8L423.0 811.7L424.0 811.5L425.0 811.4L426.0 811.2L427.0 811.0L428.0 810.9L428.9 810.7L429.9 810.6L430.9 810.4L431.9 810.2L432.9 810.0L433.9 809.9L434.9 809.7L435.9 809.5L436.8 809.3L437.8 809.1L438.8 808.9L439.8 808.8L440.8 808.6L441.8 808.4L442.8 808.2L443.7 808.0L444.7 807.8L445.7 807.6L446.7 807.4L447.7 807.2L448.7 806.9L449.6 806.7L450.6 806.5L451.6 806.3L452.6 806.1L453.6 805.9L454.6 805.6L455.6 805.4L456.5 805.2L457.5 804.9L458.5 804.7L459.5 804.5L460.5 804.2L461.5 804.0L462.4 803.7L463.4 803.5L464.4 803.2L465.4 803.0L466.4 802.7L467.4 802.4L468.3 802.2L469.3 801.9L470.3 801.6L471.3 801.4L472.3 801.1L473.3 800.8L474.2 800.5L475.2 800.2L476.2 800.0L477.2 799.7L478.2 799.4L479.2 799.1L480.1 798.8L481.1 798.5L482.1 798.2L483.1 797.9L484.1 797.5L485.0 797.2L486.0 796.9L487.0 796.6L488.0 796.3L489.0 795.9L490.0 795.6L490.9 795.3L491.9 794.9L492.9 794.6L493.9 794.2L494.9 793.9L495.8 793.5L496.8 793.2L497.8 792.8L498.8 792.4L499.8 792.1L500.7 791.7L501.7 791.3L502.7 791.0L503.7 790.6L504.7 790.2L505.7 789.8L506.6 789.4L507.6 789.0L508.6 788.6L509.6 788.2L510.6 787.8L511.5 787.4L512.5 787.0L513.5 786.6L514.5 786.1L515.5 785.7L516.4 785.3L517.4 784.8L518.4 784.4L519.4 784.0L520.4 783.5L521.3 783.1L522.3 782.6L523.3 782.1L524.3 781.7L525.3 781.2L526.2 780.8L527.2 780.3L528.2 779.8L529.2 779.3L530.2 778.8L531.1 778.3L532.1 777.8L533.1 777.3L534.1 776.8L535.1 776.3L536.0 775.8L537.0 775.3L538.0 774.8L539.0 774.3L540.0 773.7L540.9 773.2L541.9 772.6L542.9 772.1L543.9 771.6L544.9 771.0L545.8 770.4L546.8 769.9L547.8 769.3L548.8 768.7L549.8 768.2L550.7 767.6L551.7 767.0L552.7 766.4L553.7 765.8L554.7 765.2L555.6 764.6L556.6 764.0L557.6 763.4L558.6 762.7L559.5 762.1L560.5 761.5L561.5 760.8L562.5 760.2L563.5 759.5L564.4 758.9L565.4 758.2L566.4 757.5L567.4 756.8L568.4 756.2L569.3 755.5L570.3 754.8L571.3 754.1L572.3 753.4L573.2 752.7L574.2 751.9L575.2 751.2L576.2 750.5L577.2 749.7L578.1 749.0L579.1 748.2L580.1 747.5L581.1 746.7L582.1 745.9L583.0 745.2L584.0 744.4L585.0 743.6L586.0 742.8L587.0 742.0L587.9 741.2L588.9 740.3L589.9 739.5L590.9 738.7L591.8 737.8L592.8 737.0L593.8 736.1L594.8 735.3L595.8 734.4L596.7 733.5L597.7 732.6L598.7 731.7L599.7 730.8L600.7 729.9L601.6 729.0L602.6 728.1L603.6 727.1L604.6 726.2L605.6 725.2L606.6 724.3L607.5 723.3L608.5 722.3L609.5 721.4L610.5 720.4L611.5 719.4L612.4 718.4L613.4 717.3L614.4 716.3L615.4 715.3L616.4 714.2L617.4 713.2L618.3 712.1L619.3 711.0L620.3 710.0L621.3 708.9L622.3 707.8L623.2 706.7L624.2 705.6L625.2 704.4L626.2 703.3L627.2 702.2L628.2 701.0L629.1 699.9L630.1 698.7L631.1 697.5L632.1 696.3L633.1 695.1L634.1 693.9L635.1 692.7L636.0 691.5L637.0 690.2L638.0 689.0L639.0 687.7L640.0 686.5L641.0 685.2L642.0 683.9L642.9 682.6L643.9 681.3L644.9 680.0L645.9 678.7L646.9 677.3L647.9 676.0L648.9 674.6L649.8 673.2L650.8 671.9L651.8 670.5L652.8 669.1L653.8 667.7L654.8 666.2L655.8 664.8L656.8 663.4L657.7 661.9L658.7 660.4L659.7 659.0L660.7 657.5L661.7 656.0L662.7 654.5L663.7 652.9L664.7 651.4L665.6 649.9L666.6 648.3L667.6 646.7L668.6 645.2L669.6 643.6L670.6 642.0L671.6 640.4L672.6 638.7L673.6 637.1L674.6 635.5L675.5 633.8L676.5 632.1L677.5 630.4L678.5 628.7L679.5 627.0L680.5 625.3L681.5 623.6L682.5 621.8L683.5 620.1L684.5 618.3L685.4 616.5L686.4 614.7L687.4 612.9L688.4 611.1L689.4 609.3L690.4 607.4L691.4 605.6L692.4 603.7L693.4 601.8L694.4 599.9L695.4 598.0L696.4 596.1L697.3 594.2L698.3 592.2L699.3 590.3L700.3 588.3L701.3 586.3L702.3 584.3L703.3 582.3L704.3 580.3L705.3 578.2L706.3 576.1L707.3 574.1L708.2 572.0L709.2 569.8L710.2 567.7L711.2 565.5L712.2 563.3L713.2 561.1L714.2 558.9L715.2 556.6L716.2 554.4L717.2 552.1L718.2 549.7L719.1 547.4L720.1 545.0L721.1 542.6L722.1 540.2L723.1 537.7L724.1 535.2L725.1 532.7L726.1 530.2L727.1 527.6L728.1 525.0L729.1 522.3L730.0 519.7L731.0 517.0L732.0 514.2L733.0 511.5L734.0 508.7L735.0 505.8L736.0 502.9L737.0 500.0L738.0 497.1L739.0 494.1L740.0 491.1L741.0 488.0L742.0 484.9L742.9 481.8L743.9 478.6L744.9 475.4L745.9 472.2L746.9 469.0L747.9 465.7L748.9 462.4L749.9 459.0L750.9 455.6L751.9 452.2L752.9 448.8L753.9 445.3L754.9 441.8L755.9 438.3L756.9 434.8L757.9 431.2L758.9 427.7L759.9 424.1L760.9 420.4L761.9 416.8L762.9 413.2L763.9 409.5L764.9 405.8L765.9 402.1L766.9 398.4L767.9 394.7L768.9 391.0L769.9 387.2L770.9 383.5L771.9 379.7L772.9 376.0L773.9 372.2L774.9 368.5L775.9 364.7L776.9 360.9L777.9 357.2L778.9 353.4L779.9 349.6L780.9 345.9L781.9 342.1L782.9 338.4L783.9 334.6L784.9 330.9L785.9 327.2L786.9 323.5L787.9 319.8L788.9 316.1L789.9 312.4L790.9 308.8L791.9 305.1L792.9 301.5L793.9 297.9L794.9 294.3L795.9 290.7L796.9 287.1L797.9 283.6L798.9 280.1L799.9 276.6L800.9 273.2L801.9 269.7L802.9 266.3L803.9 263.0L804.9 259.6L805.9 256.3L806.9 253.0L807.9 249.8L808.9 246.6L809.9 243.4L811.0 240.2L812.0 237.1L813.0 234.1L814.0 231.0L815.0 228.1L816.0 225.1L817.0 222.2L818.0 219.4L819.0 216.5L820.0 213.8L821.1 211.0L822.1 208.4L823.1 205.7L824.1 203.2L825.1 200.6L826.1 198.2L827.2 195.7L828.2 193.4L829.2 191.1L830.2 188.8L831.3 186.6L832.3 184.4L833.3 182.3L834.4 180.3L835.4 178.3L836.4 176.4L837.5 174.6L838.5 172.8L839.6 171.0L840.6 169.3L841.7 167.7L842.7 166.1L843.8 164.6L844.8 163.1L845.9 161.7L846.9 160.4L848.0 159.1L849.1 157.8L850.3 156.6L851.4 155.4L852.6 154.4L853.9 153.3L855.2 152.4L856.5 151.5L858.0 150.7L859.4 150.1L861.0 149.6L862.6 149.2L864.3 149.0L865.9 148.9L867.6 149.0L869.3 149.3L870.9 149.7L872.5 150.3L874.0 151.0L875.4 151.8L876.8 152.7L878.1 153.7L879.3 154.8L880.6 156.0L881.7 157.2L882.9 158.5L884.0 159.8L885.1 161.3L886.2 162.7L887.3 164.3L888.3 165.9L889.4 167.5L890.4 169.2L891.5 170.8L892.5 172.6L893.5 174.3L894.5 176.1L895.5 177.8L896.5 179.6L897.5 181.4L898.6 183.2L899.6 185.0L900.6 186.9L901.6 188.9L902.7 190.8L903.7 192.9L904.7 195.0L905.7 197.1L906.8 199.4L907.8 201.7L908.8 204.1L909.9 206.5L910.9 209.1L911.9 211.7L913.0 214.5L914.0 217.3L915.0 220.2L916.0 223.3L917.0 226.4L918.1 229.6L919.1 232.9L920.1 236.2L921.1 239.7L922.1 243.2L923.1 246.7L924.1 250.4L925.1 254.1L926.1 257.9L927.1 261.7L928.2 265.6L929.2 269.5L930.2 273.5L931.2 277.5L932.2 281.6L933.2 285.7L934.2 289.9L935.2 294.1L936.2 298.3L937.2 302.5L938.2 306.8L939.2 311.1L940.2 315.4L941.2 319.7L942.2 324.0L943.2 328.4L944.2 332.7L945.2 337.1L946.2 341.5L947.2 345.9L948.2 350.3L949.2 354.8L950.2 359.2L951.2 363.6L952.2 368.1L953.2 372.6L954.2 377.0L955.2 381.5L956.2 386.0L957.2 390.5L958.2 395.0L959.2 399.5L960.2 404.0L961.2 408.5L962.2 413.0L963.2 417.5L964.2 422.0L965.2 426.5L966.2 431.0L967.2 435.5L968.2 439.9L969.2 444.4L970.2 448.9L971.2 453.4L972.2 457.8L973.2 462.3L974.2 466.7L975.2 471.2L976.2 475.6L977.2 480.0L978.2 484.4L979.2 488.8L980.2 493.2L981.2 497.6L982.2 501.9L983.2 506.3L984.2 510.6L985.2 514.9L986.2 519.1L987.2 523.4L988.2 527.6L989.2 531.9L990.2 536.1L991.2 540.2L992.2 544.4L993.2 548.5L994.2 552.7L995.2 556.7L996.2 560.8L997.2 564.8L998.2 568.9L999.2 572.8L1000.2 576.8L1001.2 580.7L1002.2 584.6L1003.1 588.5L1004.1 592.4L1005.1 596.2L1006.1 600.0L1007.1 603.7L1008.1 607.5L1009.1 611.2L1010.1 614.8L1011.1 618.5L1012.1 622.1L1013.1 625.6L1014.1 629.2L1015.1 632.7L1016.1 636.1L1017.1 639.5L1018.1 642.9L1019.1 646.3L1020.1 649.6L1021.1 652.8L1022.1 656.1L1023.1 659.3L1024.1 662.4L1025.0 665.5L1026.0 668.6L1027.0 671.6L1028.0 674.6L1029.0 677.5L1030.0 680.5L1031.0 683.3L1032.0 686.2L1033.0 688.9L1034.0 691.7L1035.0 694.4L1036.0 697.1L1036.9 699.7L1037.9 702.3L1038.9 704.9L1039.9 707.4L1040.9 709.9L1041.9 712.4L1042.9 714.8L1043.9 717.2L1044.8 719.5L1045.8 721.9L1046.8 724.1L1047.8 726.4L1048.8 728.6L1049.8 730.8L1050.8 732.9L1051.8 735.1L1052.7 737.2L1053.7 739.2L1054.7 741.2L1055.7 743.2L1056.7 745.2L1057.7 747.1L1058.6 749.0L1059.6 750.9L1060.6 752.7L1061.6 754.5L1062.6 756.3L1063.5 758.1L1064.5 759.8L1065.5 761.5L1066.5 763.2L1067.4 764.8L1068.4 766.5L1069.4 768.1L1070.4 769.6L1071.4 771.2L1072.3 772.7L1073.3 774.2L1074.3 775.6L1075.3 777.1L1076.2 778.5L1077.2 779.9L1078.2 781.3L1079.1 782.6L1080.1 783.9L1081.1 785.2L1082.0 786.5L1083.0 787.8L1084.0 789.0L1084.9 790.2L1085.9 791.4L1086.9 792.6L1087.8 793.7L1088.8 794.8L1089.8 795.9L1090.7 797.0L1091.7 798.1L1092.6 799.1L1093.6 800.1L1094.6 801.1L1095.5 802.1L1096.5 803.1L1097.4 804.0L1098.4 805.0L1099.3 805.9L1100.3 806.7L1101.2 807.6L1102.2 808.5L1103.2 809.3L1104.1 810.1L1105.1 810.9L1106.0 811.7L1106.9 812.4L1107.9 813.2L1108.8 813.9L1109.8 814.6L1110.7 815.3L1111.7 816.0L1112.6 816.6L1113.6 817.3L1114.5 817.9L1115.4 818.5L1116.4 819.1L1117.3 819.7L1118.3 820.3L1119.2 820.8L1120.1 821.4L1121.1 821.9L1122.0 822.4L1123.0 822.9L1123.9 823.4L1124.8 823.9L1125.8 824.4L1126.7 824.8L1127.7 825.2L1128.6 825.7L1129.5 826.1L1130.5 826.5L1131.4 826.9L1132.3 827.2L1133.3 827.6L1134.2 828.0L1135.2 828.3L1136.1 828.6L1137.0 829.0L1138.0 829.3L1138.9 829.6L1139.9 829.9L1140.8 830.2L1141.7 830.4L1142.7 830.7L1143.6 831.0L1144.6 831.2L1145.5 831.4L1146.5 831.7L1147.4 831.9L1148.4 832.1L1149.3 832.3L1150.3 832.5L1151.2 832.7L1152.2 832.9L1153.1 833.1L1154.1 833.2L1155.0 833.4L1156.0 833.5L1156.9 833.7L1157.9 833.8L1158.9 833.9L1159.8 834.1L1160.8 834.2L1161.7 834.3L1162.7 834.4L1163.7 834.5L1164.6 834.6L1165.6 834.7L1166.6 834.8L1167.5 834.9L1168.5 835.0L1169.5 835.0L1170.4 835.1L1171.4 835.2L1172.4 835.2L1173.4 835.3L1174.3 835.3L1175.3 835.4L1176.3 835.4L1177.3 835.5L1178.3 835.5L1179.2 835.6L1180.2 835.6L1181.2 835.6L1182.2 835.7L1183.2 835.7L1184.2 835.7L1185.2 835.8L1186.2 835.8L1187.2 835.8L1188.2 835.8L1189.1 835.9L1190.1 835.9L1191.1 835.9L1192.1 835.9L1193.1 836.0L1194.1 836.0L1195.1 836.0L1196.1 836.0L1197.1 836.0L1198.1 836.1L1199.1 836.1L1200.1 836.1L1201.1 836.1L1202.1 836.1L1203.1 836.2L1204.1 836.2L1205.1 836.2L1206.1 836.2L1207.1 836.2L1208.1 836.3L1209.1 836.3L1210.1 836.3L1211.1 836.3L1212.1 836.3L1213.1 836.3L1214.1 836.4L1215.1 836.4L1216.1 836.4L1217.1 836.4L1218.1 836.4L1219.1 836.5L1220.1 836.5L1221.1 836.5L1222.1 836.5L1223.1 836.5L1224.1 836.5L1225.1 836.5L1226.1 836.6L1227.1 836.6L1228.1 836.6L1229.1 836.6L1230.1 836.6L1231.1 836.6L1232.1 836.7L1233.1 836.7L1234.1 836.7L1235.1 836.7L1236.1 836.7L1237.1 836.7L1238.1 836.7L1239.1 836.7L1240.1 836.8L1241.1 836.8L1242.1 836.8L1243.1 836.8L1244.1 836.8L1245.1 836.8L1246.1 836.8L1247.1 836.8L1248.1 836.9L1249.1 836.9L1250.1 836.9L1251.1 836.9L1252.1 836.9L1253.1 836.9L1254.1 836.9L1255.1 836.9L1256.1 836.9L1257.1 837.0L1258.1 837.0L1259.1 837.0L1260.1 837.0L1261.1 837.0L1262.1 837.0L1263.1 837.0L1264.1 837.0L1265.1 837.0L1266.1 837.0L1267.1 837.1L1268.1 837.1L1269.1 837.1L1270.1 837.1L1271.1 837.1L1272.1 837.1L1273.0 837.1L1274.0 837.1L1275.0 837.1L1276.0 837.1L1277.0 837.1L1278.0 837.1L1279.0 837.1L1280.0 837.2L1281.0 837.2L1282.0 837.2L1283.0 837.2L1284.0 837.2L1285.0 837.2L1286.0 837.2L1287.0 837.2L1288.0 837.2L1289.0 837.2L1290.0 837.2L1291.0 837.2L1292.0 837.2L1293.0 837.2L1294.0 837.2L1295.0 837.2L1296.0 837.2L1297.0 837.3L1298.0 837.3L1299.0 837.3L1300.0 837.3L1301.0 837.3L1302.0 837.3L1303.0 837.3L1304.0 837.3L1305.0 837.3L1306.0 837.3L1307.0 837.3L1308.0 837.3L1309.0 837.3L1310.0 837.3L1311.0 837.3L1312.0 837.3L1313.0 837.3L1314.0 837.3L1315.0 837.3L1316.0 837.3L1317.0 837.3L1318.0 837.3L1319.0 837.3L1320.0 837.3L1321.0 837.3L1322.0 837.3L1323.0 837.3L1324.0 837.3L1325.0 837.3L1326.0 837.3L1327.0 837.3L1328.0 837.4L1329.0 837.4L1330.0 837.4L1331.0 837.4L1332.0 837.4L1333.0 837.4L1334.0 837.4L1335.0 837.4L1336.0 837.4L1337.0 837.4L1338.0 837.4L1339.0 837.4L1340.0 837.4L1341.0 837.4L1342.0 837.4L1343.0 837.4L1344.0 837.4L1345.0 837.4L1346.0 837.4L1347.0 837.4L1348.0 837.4L1349.0 837.4L1350.0 837.4L1351.0 837.4L1352.0 837.4L1353.0 837.4L1354.0 837.4L1355.0 837.4L1356.0 837.4L1357.0 837.4L1358.0 837.4L1359.0 837.4L1360.0 837.4L1361.0 837.4L1362.0 837.4L1363.0 837.4L1364.0 837.4L1365.0 837.4L1366.0 837.4L1367.0 837.4L1368.0 837.4L1369.0 837.4L1370.0 837.4L1371.0 837.4L1372.0 837.4L1373.0 837.4L1374.0 837.4L1375.0 837.4L1376.0 837.4L1377.0 837.4L1378.0 837.3L1379.0 837.3L1380.0 837.3L1381.0 837.3L1382.0 837.3L1383.0 837.3L1384.0 837.3L1385.0 837.3L1386.0 837.3L1387.0 837.3L1388.0 837.3L1389.0 837.3L1390.0 837.3L1391.0 837.3L1392.0 837.3L1393.0 837.3L1394.0 837.3L1395.0 837.3L1396.0 837.3L1397.0 837.3L1398.0 837.3L1399.0 837.3L1400.0 837.3L1401.0 837.3L1402.0 837.3L1403.0 837.3L1404.0 837.3L1405.0 837.3L1406.0 837.3L1407.0 837.3L1408.0 837.3L1409.0 837.3L1410.0 837.3L1411.0 837.3L1412.0 837.3L1413.0 837.3L1414.0 837.3L1415.0 837.3L1416.0 837.3L1417.0 837.3L1418.0 837.3L1419.0 837.3L1420.0 837.3L1421.0 837.3L1422.0 837.3L1423.0 837.3L1424.0 837.3L1425.0 837.3L1426.0 837.3L1427.0 837.3L1428.0 837.3L1429.0 837.2L1430.0 837.2L1431.0 837.2L1432.0 837.2L1433.0 837.2L1434.0 837.2L1435.0 837.2L1436.0 837.2L1437.0 837.2L1438.0 837.2L1439.0 837.2L1440.0 837.2L1441.0 837.2L1442.0 837.2L1443.0 837.2L1444.0 837.2L1445.0 837.2L1446.0 837.2L1447.0 837.2L1448.0 837.2L1449.0 837.2L1450.0 837.2L1451.0 837.2L1452.0 837.2L1453.0 837.2L1454.0 837.2L1455.0 837.2L1456.0 837.2L1457.0 837.2L1458.0 837.2L1459.0 837.2L1460.0 837.2L1461.0 837.2L1462.0 837.2L1463.0 837.2L1464.0 837.2L1465.0 837.2L1466.0 837.2L1467.0 837.2L1468.0 837.2L1469.0 837.2L1470.0 837.2L1471.0 837.2L1472.0 837.2L1473.0 837.2L1474.0 837.2L1475.0 837.2L1476.0 837.2L1477.0 837.2L1478.0 837.2L1479.0 837.2L1480.0 837.2L1481.0 837.2L1482.0 837.2L1483.0 837.2L1484.0 837.2L1485.0 837.2L1486.0 837.2L1487.0 837.2L1488.0 837.2L1489.0 837.2L1490.0 837.2L1491.0 837.2L1492.0 837.2L1493.0 837.2L1494.0 837.2L1495.0 837.2L1496.0 837.2L1497.0 837.2L1498.0 837.2L1499.0 837.2L1500.0 837.2L1501.0 837.2L1502.0 837.2L1503.0 837.2L1504.0 837.2L1505.0 837.2L1506.0 837.2L1507.0 837.2L1508.0 837.2L1509.0 837.2L1510.0 837.2L1511.0 837.2L1512.0 837.2L1513.0 837.2L1514.0 837.2L1515.0 837.2L1516.0 837.2L1517.0 837.2L1518.0 837.2L1519.0 837.2L1520.0 837.2L1521.0 837.2L1522.0 837.2L1523.0 837.2L1524.0 837.2L1525.0 837.2L1526.0 837.2L1527.0 837.2L1528.0 837.2L1529.0 837.2L1530.0 837.2L1530.0 849.9L1529.0 849.9L1528.0 849.9L1527.0 849.9L1526.0 849.9L1525.0 849.9L1524.0 849.9L1523.0 849.9L1522.0 849.9L1521.0 849.9L1520.0 849.9L1519.0 849.9L1518.0 849.9L1517.0 849.9L1516.0 849.9L1515.0 849.9L1514.0 849.9L1513.0 849.9L1512.0 849.9L1511.0 849.9L1510.0 849.9L1509.0 849.9L1508.0 849.9L1507.0 849.9L1506.0 849.9L1505.0 849.9L1504.0 849.9L1503.0 849.9L1502.0 849.9L1501.0 849.9L1500.0 849.9L1499.0 849.9L1498.0 849.9L1497.0 849.9L1496.0 849.9L1495.0 849.9L1494.0 849.9L1493.0 849.9L1492.0 849.9L1491.0 849.9L1490.0 849.9L1489.0 849.9L1488.0 849.9L1487.0 849.9L1486.0 849.9L1485.0 849.9L1484.0 849.9L1483.0 849.9L1482.0 849.9L1481.0 849.9L1480.0 849.9L1479.0 849.9L1478.0 849.9L1477.0 849.9L1476.0 849.9L1475.0 849.9L1474.0 849.9L1473.0 849.9L1472.0 849.9L1471.0 849.9L1470.0 849.9L1469.0 849.9L1468.0 849.9L1467.0 849.9L1466.0 849.9L1465.0 849.9L1464.0 849.9L1463.0 849.9L1462.0 849.9L1461.0 849.9L1460.0 849.9L1459.0 849.9L1458.0 849.9L1457.0 849.9L1456.0 849.9L1455.0 849.9L1454.0 849.9L1453.0 849.9L1452.0 849.9L1451.0 849.9L1450.0 849.9L1449.0 849.9L1448.0 849.9L1447.0 849.9L1446.0 849.9L1445.0 849.9L1444.0 849.9L1443.0 849.9L1442.0 849.9L1441.0 849.9L1440.0 849.9L1439.0 849.9L1438.0 849.9L1437.0 849.9L1436.0 849.9L1435.0 849.9L1434.0 849.9L1433.0 849.9L1432.0 849.9L1431.0 849.9L1430.0 849.9L1429.0 849.9L1428.0 850.0L1427.0 850.0L1426.0 850.0L1425.0 850.0L1424.0 850.0L1423.0 850.0L1422.0 850.0L1421.0 850.0L1420.0 850.0L1419.0 850.0L1418.0 850.0L1417.0 850.0L1416.0 850.0L1415.0 850.0L1414.0 850.0L1413.0 850.0L1412.0 850.0L1411.0 850.0L1410.0 850.0L1409.0 850.0L1408.0 850.0L1407.0 850.0L1406.0 850.0L1405.0 850.0L1404.0 850.0L1403.0 850.0L1402.0 850.0L1401.0 850.0L1400.0 850.0L1399.0 850.0L1398.0 850.0L1397.0 850.0L1396.0 850.0L1395.0 850.0L1394.0 850.0L1393.0 850.0L1392.0 850.0L1391.0 850.0L1390.0 850.0L1389.0 850.0L1388.0 850.0L1387.0 850.0L1386.0 850.0L1385.0 850.0L1384.0 850.0L1383.0 850.0L1382.0 850.0L1381.0 850.0L1380.0 850.0L1379.0 850.0L1378.0 850.0L1377.0 850.1L1376.0 850.1L1375.0 850.1L1374.0 850.1L1373.0 850.1L1372.0 850.1L1371.0 850.1L1370.0 850.1L1369.0 850.1L1368.0 850.1L1367.0 850.1L1366.0 850.1L1365.0 850.1L1364.0 850.1L1363.0 850.1L1362.0 850.1L1361.0 850.1L1360.0 850.1L1359.0 850.1L1358.0 850.1L1357.0 850.1L1356.0 850.1L1355.0 850.1L1354.0 850.1L1353.0 850.1L1352.0 850.1L1351.0 850.1L1350.0 850.1L1349.0 850.1L1348.0 850.1L1347.0 850.1L1346.0 850.1L1345.0 850.1L1344.0 850.1L1343.0 850.1L1342.0 850.1L1341.0 850.1L1340.0 850.1L1339.0 850.1L1338.0 850.1L1337.0 850.1L1336.0 850.1L1335.0 850.1L1334.0 850.1L1333.0 850.1L1332.0 850.1L1331.0 850.1L1330.0 850.1L1329.0 850.1L1328.0 850.1L1327.0 850.0L1326.0 850.0L1325.0 850.0L1324.0 850.0L1323.0 850.0L1322.0 850.0L1321.0 850.0L1320.0 850.0L1319.0 850.0L1318.0 850.0L1317.0 850.0L1316.0 850.0L1315.0 850.0L1314.0 850.0L1313.0 850.0L1312.0 850.0L1311.0 850.0L1310.0 850.0L1309.0 850.0L1308.0 850.0L1307.0 850.0L1306.0 850.0L1305.0 850.0L1304.0 850.0L1303.0 850.0L1302.0 850.0L1301.0 850.0L1300.0 850.0L1299.0 850.0L1298.0 850.0L1297.0 850.0L1296.0 849.9L1295.0 849.9L1294.0 849.9L1293.0 849.9L1292.0 849.9L1291.0 849.9L1290.0 849.9L1289.0 849.9L1288.0 849.9L1287.0 849.9L1286.0 849.9L1285.0 849.9L1284.0 849.9L1283.0 849.9L1282.0 849.9L1281.0 849.9L1280.0 849.9L1279.0 849.8L1278.0 849.8L1277.0 849.8L1276.0 849.8L1275.0 849.8L1274.0 849.8L1273.0 849.8L1271.9 849.8L1270.9 849.8L1269.9 849.8L1268.9 849.8L1267.9 849.8L1266.9 849.8L1265.9 849.7L1264.9 849.7L1263.9 849.7L1262.9 849.7L1261.9 849.7L1260.9 849.7L1259.9 849.7L1258.9 849.7L1257.9 849.7L1256.9 849.7L1255.9 849.6L1254.9 849.6L1253.9 849.6L1252.9 849.6L1251.9 849.6L1250.9 849.6L1249.9 849.6L1248.9 849.6L1247.9 849.6L1246.9 849.5L1245.9 849.5L1244.9 849.5L1243.9 849.5L1242.9 849.5L1241.9 849.5L1240.9 849.5L1239.9 849.5L1238.9 849.4L1237.9 849.4L1236.9 849.4L1235.9 849.4L1234.9 849.4L1233.9 849.4L1232.9 849.4L1231.9 849.4L1230.9 849.3L1229.9 849.3L1228.9 849.3L1227.9 849.3L1226.9 849.3L1225.9 849.3L1224.9 849.2L1223.9 849.2L1222.9 849.2L1221.9 849.2L1220.9 849.2L1219.9 849.2L1218.9 849.1L1217.9 849.1L1216.9 849.1L1215.9 849.1L1214.9 849.1L1213.9 849.1L1212.9 849.0L1211.9 849.0L1210.9 849.0L1209.9 849.0L1208.9 849.0L1207.9 849.0L1206.9 848.9L1205.9 848.9L1204.9 848.9L1203.9 848.9L1202.9 848.9L1201.9 848.8L1200.9 848.8L1199.9 848.8L1198.9 848.8L1197.9 848.8L1196.9 848.7L1195.9 848.7L1194.9 848.7L1193.9 848.7L1192.9 848.6L1191.9 848.6L1190.9 848.6L1189.9 848.6L1188.9 848.6L1187.8 848.5L1186.8 848.5L1185.8 848.5L1184.8 848.5L1183.8 848.4L1182.8 848.4L1181.8 848.4L1180.8 848.3L1179.8 848.3L1178.8 848.3L1177.7 848.2L1176.7 848.2L1175.7 848.1L1174.7 848.1L1173.7 848.0L1172.6 848.0L1171.6 847.9L1170.6 847.8L1169.6 847.8L1168.5 847.7L1167.5 847.6L1166.5 847.5L1165.4 847.5L1164.4 847.4L1163.4 847.3L1162.3 847.2L1161.3 847.0L1160.3 846.9L1159.2 846.8L1158.2 846.7L1157.1 846.5L1156.1 846.4L1155.1 846.2L1154.0 846.1L1153.0 845.9L1151.9 845.7L1150.9 845.6L1149.8 845.4L1148.8 845.2L1147.7 845.0L1146.7 844.7L1145.6 844.5L1144.6 844.3L1143.5 844.0L1142.5 843.8L1141.4 843.5L1140.4 843.2L1139.3 842.9L1138.3 842.7L1137.2 842.3L1136.1 842.0L1135.1 841.7L1134.0 841.4L1133.0 841.0L1131.9 840.6L1130.8 840.3L1129.8 839.9L1128.7 839.5L1127.7 839.1L1126.6 838.6L1125.5 838.2L1124.5 837.7L1123.4 837.3L1122.3 836.8L1121.3 836.3L1120.2 835.8L1119.2 835.3L1118.1 834.7L1117.0 834.2L1116.0 833.6L1114.9 833.0L1113.9 832.4L1112.8 831.8L1111.7 831.2L1110.7 830.5L1109.6 829.9L1108.6 829.2L1107.5 828.5L1106.4 827.8L1105.4 827.1L1104.3 826.3L1103.3 825.6L1102.2 824.8L1101.2 824.0L1100.1 823.2L1099.1 822.4L1098.0 821.5L1096.9 820.7L1095.9 819.8L1094.8 818.9L1093.8 818.0L1092.8 817.0L1091.7 816.1L1090.7 815.1L1089.6 814.1L1088.6 813.1L1087.5 812.1L1086.5 811.0L1085.4 810.0L1084.4 808.9L1083.4 807.8L1082.3 806.7L1081.3 805.5L1080.2 804.3L1079.2 803.1L1078.2 801.9L1077.1 800.7L1076.1 799.4L1075.1 798.2L1074.0 796.9L1073.0 795.6L1072.0 794.2L1070.9 792.9L1069.9 791.5L1068.9 790.1L1067.8 788.6L1066.8 787.2L1065.8 785.7L1064.7 784.2L1063.7 782.7L1062.7 781.2L1061.7 779.6L1060.6 778.0L1059.6 776.4L1058.6 774.7L1057.6 773.1L1056.6 771.4L1055.5 769.6L1054.5 767.9L1053.5 766.1L1052.5 764.3L1051.4 762.5L1050.4 760.6L1049.4 758.7L1048.4 756.8L1047.4 754.9L1046.3 752.9L1045.3 750.9L1044.3 748.9L1043.3 746.8L1042.3 744.7L1041.3 742.6L1040.2 740.4L1039.2 738.3L1038.2 736.0L1037.2 733.8L1036.2 731.5L1035.2 729.2L1034.2 726.9L1033.2 724.5L1032.1 722.1L1031.1 719.6L1030.1 717.1L1029.1 714.6L1028.1 712.1L1027.1 709.5L1026.1 706.9L1025.1 704.2L1024.0 701.5L1023.0 698.8L1022.0 696.0L1021.0 693.2L1020.0 690.4L1019.0 687.5L1018.0 684.6L1017.0 681.6L1016.0 678.6L1015.0 675.6L1014.0 672.5L1013.0 669.4L1011.9 666.3L1010.9 663.1L1009.9 659.8L1008.9 656.6L1007.9 653.2L1006.9 649.9L1005.9 646.5L1004.9 643.1L1003.9 639.6L1002.9 636.1L1001.9 632.6L1000.9 629.1L999.9 625.5L998.9 621.8L997.9 618.2L996.9 614.5L995.9 610.8L994.9 607.0L993.9 603.2L992.9 599.4L991.9 595.6L990.9 591.7L989.8 587.8L988.8 583.9L987.8 579.9L986.8 575.9L985.8 571.9L984.8 567.9L983.8 563.8L982.8 559.8L981.8 555.7L980.8 551.5L979.8 547.4L978.8 543.2L977.8 539.0L976.8 534.8L975.8 530.6L974.8 526.3L973.8 522.0L972.8 517.7L971.8 513.4L970.8 509.1L969.8 504.8L968.8 500.4L967.8 496.0L966.8 491.6L965.8 487.2L964.8 482.8L963.8 478.4L962.8 474.0L961.8 469.5L960.8 465.1L959.8 460.6L958.8 456.2L957.8 451.7L956.8 447.2L955.8 442.7L954.8 438.2L953.8 433.7L952.8 429.2L951.8 424.7L950.8 420.2L949.8 415.7L948.8 411.2L947.8 406.7L946.8 402.2L945.8 397.7L944.8 393.2L943.8 388.8L942.8 384.3L941.8 379.8L940.8 375.3L939.8 370.9L938.8 366.4L937.8 362.0L936.8 357.5L935.8 353.1L934.8 348.7L933.8 344.3L932.8 339.9L931.8 335.6L930.8 331.2L929.8 326.9L928.8 322.5L927.8 318.2L926.8 313.9L925.8 309.7L924.8 305.4L923.8 301.2L922.8 297.0L921.8 292.9L920.8 288.7L919.8 284.6L918.8 280.6L917.8 276.6L916.8 272.6L915.8 268.7L914.9 264.9L913.9 261.1L912.9 257.4L911.9 253.7L910.9 250.2L909.9 246.6L908.9 243.2L907.9 239.8L906.9 236.6L905.9 233.4L905.0 230.3L904.0 227.3L903.0 224.4L902.0 221.5L901.0 218.8L900.1 216.2L899.1 213.7L898.1 211.3L897.2 209.0L896.2 206.8L895.2 204.6L894.3 202.5L893.3 200.5L892.3 198.6L891.3 196.6L890.4 194.8L889.4 192.9L888.4 191.1L887.4 189.4L886.5 187.6L885.5 185.9L884.5 184.1L883.5 182.4L882.5 180.8L881.5 179.1L880.5 177.5L879.6 176.0L878.6 174.5L877.7 173.1L876.7 171.8L875.8 170.7L874.9 169.6L874.0 168.7L873.1 167.8L872.3 167.1L871.4 166.5L870.7 166.0L869.9 165.7L869.2 165.4L868.6 165.2L868.0 165.1L867.5 165.1L867.1 165.1L866.7 165.1L866.4 165.1L866.1 165.2L865.7 165.2L865.4 165.2L865.0 165.3L864.6 165.3L864.0 165.4L863.5 165.6L862.8 165.8L862.1 166.1L861.4 166.4L860.6 166.8L859.7 167.4L858.9 168.0L858.0 168.7L857.1 169.5L856.1 170.5L855.2 171.5L854.2 172.6L853.3 173.8L852.3 175.0L851.4 176.4L850.4 177.8L849.5 179.4L848.5 180.9L847.6 182.6L846.6 184.4L845.6 186.2L844.7 188.1L843.7 190.0L842.7 192.0L841.8 194.1L840.8 196.2L839.8 198.5L838.8 200.7L837.9 203.0L836.9 205.4L835.9 207.9L834.9 210.4L833.9 212.9L832.9 215.5L832.0 218.2L831.0 220.9L830.0 223.6L829.0 226.4L828.0 229.3L827.0 232.2L826.0 235.1L825.0 238.1L824.0 241.1L823.0 244.1L822.1 247.2L821.1 250.4L820.1 253.6L819.1 256.8L818.1 260.0L817.1 263.3L816.1 266.6L815.1 270.0L814.1 273.3L813.1 276.7L812.1 280.2L811.1 283.6L810.1 287.1L809.1 290.6L808.1 294.1L807.1 297.7L806.1 301.3L805.1 304.9L804.1 308.5L803.1 312.1L802.1 315.8L801.1 319.4L800.1 323.1L799.1 326.8L798.1 330.5L797.1 334.2L796.1 337.9L795.1 341.7L794.1 345.4L793.1 349.2L792.1 352.9L791.1 356.7L790.1 360.4L789.1 364.2L788.1 368.0L787.1 371.7L786.1 375.5L785.1 379.3L784.1 383.0L783.1 386.8L782.1 390.5L781.1 394.3L780.1 398.0L779.1 401.7L778.1 405.4L777.1 409.1L776.1 412.8L775.1 416.5L774.1 420.2L773.1 423.8L772.1 427.4L771.1 431.1L770.1 434.7L769.1 438.2L768.1 441.8L767.1 445.3L766.1 448.8L765.1 452.3L764.1 455.8L763.1 459.2L762.1 462.6L761.1 466.0L760.1 469.3L759.1 472.7L758.1 475.9L757.1 479.2L756.1 482.4L755.1 485.6L754.0 488.8L753.0 491.9L752.0 495.0L751.0 498.1L750.0 501.1L749.0 504.1L748.0 507.1L747.0 510.0L746.0 512.9L745.0 515.7L744.0 518.5L743.0 521.3L742.0 524.1L740.9 526.8L739.9 529.5L738.9 532.1L737.9 534.8L736.9 537.3L735.9 539.9L734.9 542.4L733.9 544.9L732.9 547.4L731.9 549.9L730.9 552.3L729.8 554.7L728.8 557.1L727.8 559.4L726.8 561.7L725.8 564.0L724.8 566.3L723.8 568.6L722.8 570.8L721.8 573.0L720.8 575.2L719.8 577.3L718.7 579.5L717.7 581.6L716.7 583.7L715.7 585.8L714.7 587.9L713.7 589.9L712.7 592.0L711.7 594.0L710.7 596.0L709.7 598.0L708.7 600.0L707.6 601.9L706.6 603.9L705.6 605.8L704.6 607.7L703.6 609.7L702.6 611.6L701.6 613.4L700.6 615.3L699.6 617.2L698.6 619.0L697.6 620.9L696.6 622.7L695.5 624.5L694.5 626.3L693.5 628.1L692.5 629.9L691.5 631.6L690.5 633.4L689.5 635.1L688.5 636.9L687.5 638.6L686.5 640.3L685.4 642.0L684.4 643.7L683.4 645.3L682.4 647.0L681.4 648.6L680.4 650.3L679.4 651.9L678.4 653.5L677.4 655.1L676.4 656.7L675.3 658.3L674.3 659.8L673.3 661.4L672.3 662.9L671.3 664.5L670.3 666.0L669.3 667.5L668.3 669.0L667.2 670.5L666.2 672.0L665.2 673.5L664.2 674.9L663.2 676.4L662.2 677.8L661.2 679.2L660.2 680.6L659.1 682.1L658.1 683.4L657.1 684.8L656.1 686.2L655.1 687.6L654.1 688.9L653.1 690.3L652.0 691.6L651.0 692.9L650.0 694.2L649.0 695.5L648.0 696.8L647.0 698.1L646.0 699.4L644.9 700.7L643.9 701.9L642.9 703.2L641.9 704.4L640.9 705.6L639.9 706.8L638.9 708.1L637.8 709.3L636.8 710.4L635.8 711.6L634.8 712.8L633.8 714.0L632.8 715.1L631.7 716.2L630.7 717.4L629.7 718.5L628.7 719.6L627.7 720.7L626.6 721.8L625.6 722.9L624.6 724.0L623.6 725.1L622.6 726.1L621.6 727.2L620.5 728.2L619.5 729.3L618.5 730.3L617.5 731.3L616.5 732.3L615.4 733.3L614.4 734.3L613.4 735.3L612.4 736.3L611.4 737.3L610.4 738.2L609.3 739.2L608.3 740.1L607.3 741.1L606.3 742.0L605.3 742.9L604.2 743.9L603.2 744.8L602.2 745.7L601.2 746.6L600.2 747.4L599.1 748.3L598.1 749.2L597.1 750.1L596.1 750.9L595.0 751.8L594.0 752.6L593.0 753.4L592.0 754.3L591.0 755.1L589.9 755.9L588.9 756.7L587.9 757.5L586.9 758.3L585.9 759.1L584.8 759.9L583.8 760.6L582.8 761.4L581.8 762.2L580.8 762.9L579.7 763.7L578.7 764.4L577.7 765.1L576.7 765.8L575.6 766.6L574.6 767.3L573.6 768.0L572.6 768.7L571.6 769.4L570.5 770.1L569.5 770.8L568.5 771.4L567.5 772.1L566.5 772.8L565.4 773.4L564.4 774.1L563.4 774.7L562.4 775.4L561.3 776.0L560.3 776.6L559.3 777.2L558.3 777.9L557.3 778.5L556.2 779.1L555.2 779.7L554.2 780.3L553.2 780.9L552.2 781.5L551.1 782.1L550.1 782.6L549.1 783.2L548.1 783.8L547.1 784.3L546.0 784.9L545.0 785.4L544.0 786.0L543.0 786.5L542.0 787.1L540.9 787.6L539.9 788.1L538.9 788.6L537.9 789.2L536.9 789.7L535.8 790.2L534.8 790.7L533.8 791.2L532.8 791.7L531.8 792.2L530.7 792.7L529.7 793.2L528.7 793.6L527.7 794.1L526.7 794.6L525.6 795.1L524.6 795.5L523.6 796.0L522.6 796.4L521.6 796.9L520.5 797.3L519.5 797.8L518.5 798.2L517.5 798.7L516.5 799.1L515.4 799.5L514.4 799.9L513.4 800.4L512.4 800.8L511.4 801.2L510.3 801.6L509.3 802.0L508.3 802.4L507.3 802.8L506.3 803.2L505.3 803.6L504.2 804.0L503.2 804.3L502.2 804.7L501.2 805.1L500.2 805.5L499.1 805.8L498.1 806.2L497.1 806.6L496.1 806.9L495.1 807.3L494.0 807.6L493.0 808.0L492.0 808.3L491.0 808.6L490.0 809.0L489.0 809.3L487.9 809.6L486.9 810.0L485.9 810.3L484.9 810.6L483.9 810.9L482.8 811.2L481.8 811.5L480.8 811.8L479.8 812.1L478.8 812.4L477.8 812.7L476.7 813.0L475.7 813.3L474.7 813.6L473.7 813.9L472.7 814.2L471.7 814.4L470.6 814.7L469.6 815.0L468.6 815.3L467.6 815.5L466.6 815.8L465.6 816.0L464.5 816.3L463.5 816.5L462.5 816.8L461.5 817.0L460.5 817.3L459.5 817.5L458.4 817.8L457.4 818.0L456.4 818.2L455.4 818.5L454.4 818.7L453.4 818.9L452.4 819.1L451.3 819.4L450.3 819.6L449.3 819.8L448.3 820.0L447.3 820.2L446.3 820.4L445.2 820.6L444.2 820.8L443.2 821.0L442.2 821.2L441.2 821.4L440.2 821.6L439.2 821.8L438.1 822.0L437.1 822.2L436.1 822.4L435.1 822.5L434.1 822.7L433.1 822.9L432.1 823.1L431.1 823.2L430.0 823.4L429.0 823.6L428.0 823.7L427.0 823.9L426.0 824.1L425.0 824.2L424.0 824.4L423.0 824.5L421.9 824.7L420.9 824.8L419.9 825.0L418.9 825.1L417.9 825.3L416.9 825.4L415.9 825.6L414.9 825.7L413.9 825.8L412.8 826.0L411.8 826.1L410.8 826.2L409.8 826.4L408.8 826.5L407.8 826.6L406.8 826.8L405.8 826.9L404.8 827.0L403.7 827.1L402.7 827.2L401.7 827.4L400.7 827.5L399.7 827.6L398.7 827.7L397.7 827.8L396.7 827.9L395.7 828.0L394.7 828.1L393.7 828.2L392.6 828.3L391.6 828.4L390.6 828.5L389.6 828.6L388.6 828.7L387.6 828.8L386.6 828.9L385.6 829.0L384.6 829.1L383.6 829.2L382.6 829.3L381.6 829.4L380.6 829.5L379.5 829.6L378.5 829.7L377.5 829.7L376.5 829.8L375.5 829.9L374.5 830.0L373.5 830.1L372.5 830.2L371.5 830.2L370.5 830.3L369.5 830.4L368.5 830.5L367.5 830.5L366.5 830.6L365.5 830.7L364.5 830.8L363.5 830.8L362.5 830.9L361.4 831.0L360.4 831.1L359.4 831.1L358.4 831.2L357.4 831.3L356.4 831.3L355.4 831.4L354.4 831.5L353.4 831.5L352.4 831.6L351.4 831.7L350.4 831.7L349.4 831.8L348.4 831.8L347.4 831.9L346.4 832.0L345.4 832.0L344.4 832.1L343.4 832.2L342.4 832.2L341.4 832.3L340.4 832.3L339.4 832.4L338.4 832.5L337.4 832.5L336.4 832.6L335.4 832.6L334.4 832.7L333.4 832.7L332.3 832.8L331.3 832.9L330.3 832.9L329.3 833.0L328.3 833.0L327.3 833.1L326.3 833.1L325.3 833.2L324.3 833.2L323.3 833.3L322.3 833.3L321.3 833.4L320.3 833.4L319.3 833.5L318.3 833.5L317.3 833.6L316.3 833.6L315.3 833.7L314.3 833.7L313.3 833.8L312.3 833.8L311.3 833.8L310.3 833.9L309.3 833.9L308.3 834.0L307.3 834.0L306.3 834.1L305.3 834.1L304.3 834.2L303.3 834.2L302.3 834.2L301.3 834.3L300.3 834.3L299.2 834.4L298.2 834.4L297.2 834.4L296.2 834.5L295.2 834.5L294.2 834.5L293.2 834.6L292.2 834.6L291.2 834.7L290.2 834.7L289.2 834.7L288.2 834.8L287.2 834.8L286.2 834.8L285.2 834.9L284.2 834.9L283.2 834.9L282.2 835.0L281.2 835.0L280.2 835.0L279.2 835.1L278.2 835.1L277.2 835.1L276.2 835.1L275.2 835.2L274.2 835.2L273.2 835.2L272.2 835.3L271.2 835.3L270.2 835.3L269.2 835.3L268.2 835.4L267.2 835.4L266.2 835.4L265.2 835.4L264.1 835.5L263.1 835.5L262.1 835.5L261.1 835.5L260.1 835.5L259.1 835.6L258.1 835.6L257.1 835.6L256.1 835.6L255.1 835.6L254.1 835.7L253.1 835.7L252.1 835.7L251.1 835.7L250.1 835.7L249.1 835.8L248.1 835.8L247.1 835.8L246.1 835.8L245.1 835.8L244.1 835.8L243.1 835.8L242.1 835.9L241.1 835.9L240.1 835.9L239.1 835.9L238.1 835.9L237.1 835.9L236.1 835.9L235.1 835.9L234.1 836.0L233.1 836.0L232.1 836.0L231.1 836.0L230.1 836.0L229.1 836.0L228.0 836.0L227.0 836.0L226.0 836.0L225.0 836.0L224.0 836.0L223.0 836.0L222.0 836.1L221.0 836.1L220.0 836.1L219.0 836.1L218.0 836.1L217.0 836.1L216.0 836.1L215.0 836.1L214.0 836.1L213.0 836.1L212.0 836.1L211.0 836.1L210.0 836.1L209.0 836.1L208.0 836.1L207.0 836.1L206.0 836.1L205.0 836.1L204.0 836.1L203.0 836.1L202.0 836.1L201.0 836.1L200.0 836.1L199.0 836.1L198.0 836.1L197.0 836.0L196.0 836.0L195.0 836.0L194.0 836.0L193.0 836.0L192.0 836.0L191.0 836.0L189.9 836.0L188.9 836.0L187.9 836.0L186.9 836.0L185.9 836.0L184.9 836.0L183.9 835.9L182.9 835.9L181.9 835.9L180.9 835.9L179.9 835.9L178.9 835.9L177.9 835.9L176.9 835.9L175.9 835.8L174.9 835.8L173.9 835.8L172.9 835.8L171.9 835.8L170.9 835.8L169.9 835.8L168.9 835.7L168.0 835.7Z" fill="#009900" stroke="none"/>
<path d="M168.0 1729.6L168.7 1729.6L169.4 1729.6L170.1 1729.6L170.8 1729.1L171.5 1729.3L172.2 1729.5L172.9 1729.3L173.6 1729.1L174.3 1729.0L175.0 1728.9L175.7 1729.8L176.4 1729.5L177.1 1729.3L177.8 1730.2L178.5 1729.6L179.2 1729.8L179.9 1729.7L180.6 1730.2L181.3 1730.2L182.0 1730.2L182.7 1729.8L183.4 1729.9L184.1 1729.9L184.8 1730.0L185.5 1729.7L186.2 1729.8L186.9 1730.7L187.6 1730.7L188.3 1729.8L189.0 1729.6L189.7 1729.8L190.4 1730.4L191.1 1730.5L191.8 1729.6L192.5 1730.3L193.2 1729.6L193.9 1730.2L194.6 1730.4L195.3 1730.8L196.0 1729.9L196.7 1730.5L197.4 1730.5L198.1 1730.5L198.8 1729.4L199.5 1729.8L200.2 1730.3L200.9 1729.5L201.6 1729.9L202.3 1729.5L203.0 1729.6L203.7 1729.2L204.4 1728.6L205.1 1728.6L205.8 1728.6L206.5 1728.7L207.2 1729.6L207.9 1729.2L208.6 1729.5L209.3 1729.3L210.0 1729.4L210.7 1729.7L211.4 1730.0L212.1 1730.0L212.8 1730.0L213.5 1729.2L214.2 1729.6L214.9 1729.2L215.6 1729.9L216.3 1730.2L217.0 1729.2L217.7 1729.4L218.4 1729.5L219.1 1729.3L219.8 1729.9L220.5 1729.3L221.2 1729.6L221.9 1729.3L222.6 1729.4L223.3 1729.8L224.0 1729.7L224.7 1728.7L225.4 1729.5L226.1 1728.9L226.8 1728.6L227.5 1728.9L228.2 1729.0L228.9 1729.6L229.6 1728.9L230.3 1728.6L231.0 1729.6L231.7 1728.8L232.4 1729.4L233.1 1729.9L233.8 1729.6L234.5 1729.5L235.2 1730.0L235.9 1729.1L236.6 1729.7L237.3 1729.5L238.0 1730.2L238.7 1729.9L239.4 1728.9L240.1 1729.0L240.8 1729.3L241.5 1729.6L242.2 1729.1L242.9 1729.1L243.6 1729.8L244.3 1729.8L245.0 1729.2L245.7 1729.8L246.4 1729.1L247.1 1728.8L247.8 1729.4L248.5 1729.5L249.2 1729.8L249.9 1729.9L250.6 1729.7L251.3 1729.7L252.0 1729.6L252.7 1729.6L253.4 1729.7L254.1 1730.0L254.8 1729.3L255.5 1728.9L256.2 1729.1L256.9 1729.1L257.6 1729.2L258.3 1729.8L259.0 1728.8L259.7 1729.2L260.4 1729.6L261.1 1728.9L261.8 1728.6L262.5 1728.7L263.2 1728.5L263.9 1729.3L264.6 1728.6L265.3 1728.6L266.0 1729.3L266.7 1729.4L267.4 1729.1L268.1 1729.6L268.8 1728.6L269.5 1729.7L270.2 1729.3L270.9 1729.0L271.6 1729.7L272.3 1729.5L273.0 1729.9L273.7 1728.9L274.4 1729.5L275.1 1729.3L275.8 1729.6L276.5 1729.1L277.2 1728.8L277.9 1729.4L278.6 1729.2L279.3 1729.7L280.0 1729.2L280.7 1729.0L281.4 1729.2L282.1 1729.0L282.8 1729.5L283.5 1729.2L284.2 1728.8L284.9 1728.5L285.6 1728.9L286.3 1729.2L287.0 1729.2L287.7 1729.6L288.4 1728.8L289.1 1729.1L289.8 1729.2L290.5 1729.1L291.2 1729.3L291.9 1729.5L292.6 1729.6L293.3 1729.3L294.0 1729.2L294.7 1729.5L295.4 1729.3L296.1 1729.6L296.8 1730.0L297.5 1729.9L298.2 1730.4L298.9 1729.9L299.6 1729.8L300.3 1729.9L301.0 1730.0L301.7 1729.8L302.4 1729.7L303.1 1729.7L303.8 1729.3L304.5 1729.8L305.2 1729.5L305.9 1729.1L306.6 1729.0L307.3 1728.8L308.0 1729.1L308.7 1728.7L309.4 1728.9L310.1 1728.8L310.8 1729.1L311.5 1729.2L312.2 1729.5L312.9 1729.8L313.6 1729.7L314.3 1729.2L315.0 1730.1L315.7 1729.9L316.4 1729.7L317.1 1729.9L317.8 1729.7L318.5 1729.3L319.2 1729.9L319.9 1730.3L320.6 1730.1L321.3 1729.4L322.0 1729.3L322.7 1730.2L323.4 1730.1L324.1 1729.9L324.8 1729.8L325.5 1729.0L326.2 1729.7L326.9 1728.9L327.6 1728.8L328.3 1729.0L329.0 1728.5L329.7 1729.4L330.4 1728.6L331.1 1729.3L331.8 1729.1L332.5 1729.3L333.2 1729.2L333.9 1729.6L334.6 1729.0L335.3 1729.2L336.0 1729.0L336.7 1729.6L337.4 1729.1L338.1 1729.8L338.8 1729.0L339.5 1729.3L340.2 1729.6L340.9 1729.3L341.6 1729.5L342.3 1730.3L343.0 1729.8L343.7 1729.7L344.4 1730.4L345.1 1730.0L345.8 1730.1L346.5 1730.3L347.2 1730.0L347.9 1729.3L348.6 1728.9L349.3 1729.4L350.0 1729.5L350.7 1729.6L351.4 1728.7L352.1 1729.2L352.8 1729.6L353.5 1728.8L354.2 1728.8L354.9 1729.0L355.6 1729.2L356.3 1729.8L357.0 1729.3L357.7 1729.8L358.4 1729.5L359.1 1729.4L359.8 1729.2L360.5 1729.3L361.2 1729.9L361.9 1729.2L362.6 1729.2L363.3 1729.3L364.0 1729.9L364.7 1729.5L365.4 1729.4L366.1 1729.6L366.8 1729.3L367.5 1729.8L368.2 1730.2L368.9 1729.8L369.6 1729.8L370.3 1729.3L371.0 1729.6L371.7 1729.3L372.4 1729.2L373.1 1730.2L373.8 1729.9L374.5 1730.0L375.2 1729.1L375.9 1729.3L376.6 1729.9L377.3 1729.3L378.0 1729.8L378.7 1729.8L379.4 1728.7L380.1 1729.2L380.8 1729.4L381.5 1729.1L382.2 1729.2L382.9 1729.3L383.6 1729.2L384.3 1729.0L385.0 1730.0L385.7 1730.4L386.4 1729.3L387.1 1730.4L387.8 1730.1L388.5 1729.5L389.2 1729.6L389.9 1730.1L390.6 1729.6L391.3 1729.8L392.0 1729.7L392.7 1730.5L393.4 1729.8L394.1 1729.5L394.8 1730.2L395.5 1730.1L396.2 1729.7L396.9 1729.0L397.6 1729.8L398.3 1729.2L399.0 1729.5L399.7 1729.4L400.4 1729.2L401.1 1729.3L401.8 1729.3L402.5 1728.9L403.2 1728.9L403.9 1728.4L404.6 1728.7L405.3 1729.3L406.0 1728.5L406.7 1729.2L407.4 1729.2L408.1 1728.5L408.8 1729.2L409.5 1729.1L410.2 1729.5L410.9 1728.8L411.6 1729.3L412.3 1729.4L413.0 1728.9L413.7 1728.7L414.4 1728.9L415.1 1729.3L415.8 1728.9L416.5 1729.6L417.2 1729.0L417.9 1729.6L418.6 1729.1L419.3 1729.3L420.0 1729.7L420.7 1729.2L421.4 1729.3L422.1 1728.8L422.8 1728.9L423.5 1728.3L424.2 1728.7L424.9 1728.5L425.6 1728.2L426.3 1727.9L427.0 1728.0L427.7 1727.8L428.4 1727.8L429.1 1728.3L429.8 1728.3L430.5 1728.3L431.2 1727.7L431.9 1728.3L432.6 1727.9L433.3 1728.4L434.0 1727.4L434.7 1728.1L435.4 1727.9L436.1 1727.8L436.8 1728.1L437.5 1728.2L438.2 1728.2L438.9 1727.6L439.6 1727.5L440.3 1727.7L441.0 1727.0L441.7 1727.9L442.4 1727.5L443.1 1727.3L443.8 1727.4L444.5 1727.7L445.2 1727.5L445.9 1727.3L446.6 1726.7L447.3 1727.6L448.0 1726.8L448.7 1727.5L449.4 1727.0L450.1 1727.3L450.8 1727.6L451.5 1726.7L452.2 1727.1L452.9 1727.1L453.6 1727.0L454.3 1727.5L455.0 1728.3L455.7 1727.6L456.4 1727.5L457.1 1728.6L457.8 1728.1L458.5 1728.0L459.2 1728.3L459.9 1728.4L460.6 1727.6L461.3 1727.5L462.0 1727.7L462.7 1728.1L463.4 1728.1L464.1 1727.1L464.8 1727.7L465.5 1727.3L466.2 1727.8L466.9 1727.1L467.6 1727.0L468.3 1726.7L469.0 1727.8L469.7 1726.9L470.4 1727.1L471.1 1727.1L471.8 1727.9L472.5 1726.9L473.2 1727.3L473.9 1727.8L474.6 1727.2L475.3 1727.7L476.0 1727.6L476.7 1727.1L477.4 1727.8L478.1 1727.5L478.8 1727.3L479.5 1728.2L480.2 1728.0L480.9 1727.4L481.6 1727.2L482.3 1726.7L483.0 1727.4L483.7 1726.7L484.4 1726.9L485.1 1726.9L485.8 1727.0L486.5 1726.1L487.2 1726.0L487.9 1726.7L488.6 1725.7L489.3 1726.0L490.0 1725.4L490.7 1725.5L491.4 1725.4L492.1 1726.0L492.8 1725.8L493.5 1725.0L494.2 1725.3L494.9 1725.1L495.6 1724.5L496.3 1724.8L497.0 1725.2L497.7 1724.4L498.4 1724.5L499.1 1724.6L499.8 1724.2L500.5 1725.1L501.2 1724.6L501.9 1724.9L502.6 1724.7L503.3 1725.0L504.0 1724.8L504.7 1724.4L505.4 1724.0L506.1 1724.2L506.8 1723.6L507.5 1723.6L508.2 1724.4L508.9 1724.0L509.6 1724.2L510.3 1724.1L511.0 1723.8L511.7 1724.0L512.4 1724.2L513.1 1724.1L513.8 1723.3L514.5 1724.0L515.2 1723.5L515.9 1723.2L516.6 1723.4L517.3 1723.6L518.0 1724.0L518.7 1724.0L519.4 1723.6L520.1 1723.9L520.8 1723.5L521.5 1723.0L522.2 1723.4L522.9 1723.6L523.6 1723.6L524.3 1723.5L525.0 1722.6L525.7 1723.3L526.4 1723.6L527.1 1722.6L527.8 1723.1L528.5 1722.4L529.2 1723.0L529.9 1723.1L530.6 1722.2L531.3 1722.9L532.0 1722.2L532.7 1722.8L533.4 1721.8L534.1 1722.6L534.8 1721.9L535.5 1722.0L536.2 1721.7L536.9 1722.4L537.6 1721.7L538.3 1721.8L539.0 1721.7L539.7 1721.6L540.4 1721.4L541.1 1722.0L541.8 1721.8L542.5 1721.9L543.2 1721.1L543.9 1721.5L544.6 1720.9L545.3 1720.9L546.0 1721.2L546.7 1721.3L547.4 1721.3L548.1 1721.0L548.8 1720.3L549.5 1720.5L550.2 1720.9L550.9 1721.0L551.6 1720.8L552.3 1720.2L553.0 1720.7L553.7 1719.7L554.4 1720.1L555.1 1720.1L555.8 1719.1L556.5 1719.1L557.2 1719.2L557.9 1719.0L558.6 1718.9L559.3 1719.2L560.0 1719.2L560.7 1718.9L561.4 1719.1L562.1 1718.5L562.8 1718.5L563.5 1718.1L564.2 1718.1L564.9 1718.4L565.6 1718.7L566.3 1718.1L567.0 1718.5L567.7 1718.4L568.4 1718.1L569.1 1718.0L569.8 1716.9L570.5 1717.6L571.2 1716.7L571.9 1717.5L572.6 1717.0L573.3 1716.5L574.0 1717.5L574.7 1716.5L575.4 1717.4L576.1 1717.1L576.8 1717.3L577.5 1716.9L578.2 1716.5L578.9 1716.9L579.6 1716.5L580.3 1716.8L581.0 1717.0L581.7 1715.9L582.4 1715.9L583.1 1716.2L583.8 1715.6L584.5 1715.9L585.2 1715.8L585.9 1715.4L586.6 1715.0L587.3 1715.6L588.0 1714.9L588.7 1715.3L589.4 1714.7L590.1 1715.1L590.8 1714.3L591.5 1714.4L592.2 1714.0L592.9 1714.7L593.6 1713.8L594.3 1714.3L595.0 1713.9L595.7 1714.2L596.4 1714.2L597.1 1714.4L597.8 1714.2L598.5 1714.0L599.2 1713.9L599.9 1713.5L600.6 1713.3L601.3 1713.3L602.0 1714.1L602.7 1713.6L603.4 1713.8L604.1 1713.3L604.8 1712.7L605.5 1712.3L606.2 1712.8L606.9 1713.2L607.6 1712.9L608.3 1712.0L609.0 1712.2L609.7 1711.9L610.4 1711.9L611.1 1712.3L611.8 1711.8L612.5 1712.0L613.2 1711.6L613.9 1711.6L614.6 1711.5L615.3 1711.6L616.0 1710.9L616.7 1711.8L617.4 1710.6L618.1 1710.3L618.8 1711.2L619.5 1710.4L620.2 1709.7L620.9 1709.9L621.6 1710.4L622.3 1710.1L623.0 1709.8L623.7 1709.9L624.4 1709.4L625.1 1709.8L625.8 1708.8L626.5 1709.0L627.2 1709.2L627.9 1708.8L628.6 1708.2L629.3 1708.2L630.0 1708.6L630.7 1708.0L631.4 1707.5L632.1 1707.6L632.8 1706.8L633.5 1707.3L634.2 1706.6L634.9 1706.6L635.6 1706.2L636.3 1706.7L637.0 1705.7L637.7 1706.5L638.4 1706.1L639.1 1705.4L639.8 1705.3L640.5 1705.4L641.2 1705.5L641.9 1706.0L642.6 1705.6L643.3 1704.9L644.0 1704.9L644.7 1704.2L645.4 1704.9L646.1 1704.6L646.8 1704.3L647.5 1704.0L648.2 1703.2L648.9 1703.5L649.6 1703.4L650.3 1703.2L651.0 1703.4L651.7 1702.5L652.4 1702.2L653.1 1702.3L653.8 1702.3L654.5 1702.4L655.2 1702.1L655.9 1701.6L656.6 1701.3L657.3 1701.5L658.0 1700.9L658.7 1700.7L659.4 1700.1L660.1 1700.5L660.8 1699.9L661.5 1700.6L662.2 1699.3L662.9 1699.0L663.6 1699.3L664.3 1699.5L665.0 1698.4L665.7 1697.9L666.4 1697.6L667.1 1697.2L667.8 1697.7L668.5 1697.2L669.2 1697.5L669.9 1696.6L670.6 1696.8L671.3 1696.0L672.0 1696.1L672.7 1696.6L673.4 1696.1L674.1 1695.7L674.8 1696.0L675.5 1695.1L676.2 1694.5L676.9 1694.7L677.6 1694.6L678.3 1694.5L679.0 1693.8L679.7 1693.7L680.4 1693.9L681.1 1693.3L681.8 1692.6L682.5 1693.2L683.2 1692.5L683.9 1692.6L684.6 1692.4L685.3 1692.0L686.0 1691.3L686.7 1691.5L687.4 1690.7L688.1 1691.1L688.8 1690.6L689.5 1690.1L690.2 1690.0L690.9 1689.5L691.6 1689.4L692.3 1689.0L693.0 1688.7L693.7 1687.8L694.4 1687.5L695.1 1688.0L695.8 1686.8L696.5 1686.6L697.2 1686.7L697.9 1686.0L698.6 1685.6L699.3 1684.9L700.0 1685.1L700.7 1684.9L701.4 1684.5L702.1 1684.2L702.8 1683.7L703.5 1683.7L704.2 1683.0L704.9 1683.0L705.6 1682.4L706.3 1682.3L707.0 1682.0L707.7 1682.7L708.4 1682.0L709.1 1681.3L709.8 1681.5L710.5 1680.8L711.2 1681.0L711.9 1680.6L712.6 1680.2L713.3 1680.5L714.0 1679.9L714.7 1679.9L715.4 1678.7L716.1 1678.5L716.8 1678.5L717.5 1678.0L718.2 1677.2L718.9 1676.6L719.6 1677.0L720.3 1676.0L721.0 1675.2L721.7 1675.6L722.4 1674.7L723.1 1674.8L723.8 1673.7L724.5 1673.5L725.2 1673.9L725.9 1673.3L726.6 1672.7L727.3 1673.0L728.0 1672.5L728.7 1671.6L729.4 1671.5L730.1 1672.0L730.8 1671.8L731.5 1671.3L732.2 1670.8L732.9 1671.0L733.6 1670.4L734.3 1670.4L735.0 1669.8L735.7 1668.8L736.4 1669.3L737.1 1668.5L737.8 1667.9L738.5 1667.4L739.2 1667.1L739.9 1667.0L740.6 1666.1L741.3 1666.1L742.0 1665.7L742.7 1665.1L743.4 1665.3L744.1 1664.8L744.8 1665.0L745.5 1664.3L746.2 1663.4L746.9 1663.0L747.6 1663.1L748.3 1663.0L749.0 1662.1L749.7 1661.9L750.4 1661.8L751.1 1661.3L751.8 1660.9L752.5 1660.9L753.2 1659.8L753.9 1659.5L754.6 1660.1L755.3 1659.7L756.0 1659.6L756.7 1658.8L757.4 1658.4L758.1 1658.8L758.8 1658.1L759.5 1657.5L760.2 1657.2L760.9 1656.9L761.6 1656.0L762.3 1655.7L763.0 1655.9L763.7 1655.5L764.4 1655.2L765.1 1654.3L765.8 1653.2L766.5 1653.3L767.2 1652.1L767.9 1651.9L768.6 1651.0L769.3 1650.5L770.0 1650.7L770.7 1649.8L771.4 1649.6L772.1 1648.5L772.8 1648.5L773.5 1648.1L774.2 1648.4L774.9 1647.8L775.6 1647.6L776.3 1647.0L777.0 1645.9L777.7 1646.4L778.4 1645.8L779.1 1645.3L779.8 1644.5L780.5 1643.8L781.2 1643.5L781.9 1642.9L782.6 1642.0L783.3 1642.3L784.0 1641.8L784.7 1640.8L785.4 1641.0L786.1 1641.1L786.8 1640.3L787.5 1639.4L788.2 1640.3L788.9 1639.6L789.6 1639.1L790.3 1639.3L791.0 1638.2L791.7 1637.5L792.4 1636.7L793.1 1637.2L793.8 1635.8L794.5 1636.0L795.2 1634.6L795.9 1634.6L796.6 1633.3L797.3 1633.6L798.0 1632.1L798.7 1632.6L799.4 1631.6L800.1 1631.3L800.8 1630.8L801.5 1629.8L802.2 1629.2L802.9 1629.1L803.6 1628.3L804.3 1627.9L805.0 1627.1L805.7 1627.2L806.4 1626.2L807.1 1625.2L807.8 1624.7L808.5 1625.2L809.2 1623.8L809.9 1623.9L810.6 1623.3L811.3 1623.2L812.0 1622.1L812.7 1621.3L813.4 1620.7L814.1 1620.0L814.8 1619.9L815.5 1618.7L816.2 1618.5L816.9 1617.7L817.6 1617.0L818.3 1617.1L819.0 1616.6L819.7 1615.9L820.4 1614.9L821.1 1614.4L821.8 1614.1L822.5 1613.3L823.2 1612.4L823.9 1611.3L824.6 1610.5L825.3 1610.0L826.0 1609.4L826.7 1608.0L827.4 1607.4L828.1 1607.0L828.8 1605.3L829.5 1605.0L830.2 1603.9L830.9 1602.9L831.6 1602.3L832.3 1601.1L833.0 1601.1L833.7 1600.8L834.4 1599.3L835.1 1599.5L835.8 1598.3L836.5 1597.8L837.2 1597.9L837.9 1597.3L838.6 1596.4L839.3 1596.1L840.0 1595.2L840.7 1595.4L841.4 1594.9L842.1 1594.6L842.8 1593.7L843.5 1593.3L844.2 1592.5L844.9 1591.5L845.6 1590.7L846.3 1589.3L847.0 1588.5L847.7 1588.1L848.4 1586.9L849.1 1585.7L849.8 1585.6L850.5 1584.2L851.2 1582.9L851.9 1582.1L852.6 1581.3L853.3 1580.7L854.0 1580.4L854.7 1579.6L855.4 1578.6L856.1 1577.8L856.8 1577.6L857.5 1577.1L858.2 1576.2L858.9 1575.5L859.6 1575.2L860.3 1574.3L861.0 1573.3L861.7 1572.0L862.4 1571.3L863.1 1570.6L863.8 1569.3L864.5 1567.9L865.2 1567.8L865.9 1567.1L866.6 1565.5L867.3 1565.3L868.0 1564.3L868.7 1563.3L869.4 1561.7L870.1 1560.8L870.8 1560.6L871.5 1559.8L872.2 1558.4L872.9 1558.7L873.6 1556.8L874.3 1556.7L875.0 1555.4L875.7 1554.6L876.4 1554.3L877.1 1553.6L877.8 1551.6L878.5 1551.7L879.2 1550.7L879.9 1549.7L880.6 1548.7L881.3 1547.9L882.0 1546.7L882.7 1546.7L883.4 1544.6L884.1 1543.6L884.8 1543.3L885.5 1541.9L886.2 1541.0L886.9 1539.9L887.6 1538.9L888.3 1537.0L889.0 1536.7L889.7 1535.0L890.4 1534.4L891.1 1532.7L891.8 1532.2L892.5 1531.1L893.2 1529.6L893.9 1527.9L894.6 1526.9L895.3 1525.6L896.0 1524.2L896.7 1522.9L897.4 1522.7L898.1 1521.4L898.8 1519.8L899.5 1519.6L900.2 1518.6L900.9 1517.6L901.6 1516.0L902.3 1515.6L903.0 1514.7L903.7 1513.1L904.4 1512.4L905.1 1512.7L905.8 1511.7L906.5 1510.6L907.2 1508.9L907.9 1508.3L908.6 1506.2L909.3 1505.7L910.0 1505.2L910.7 1503.4L911.4 1503.2L912.1 1502.0L912.8 1499.8L913.5 1498.2L914.2 1498.1L914.9 1496.1L915.6 1496.0L916.3 1494.5L917.0 1494.0L917.7 1491.4L918.4 1491.1L919.1 1490.9L919.8 1489.9L920.5 1488.9L921.2 1486.4L921.9 1486.3L922.6 1485.5L923.3 1484.3L924.0 1482.1L924.7 1482.7L925.4 1481.5L926.1 1479.8L926.8 1477.9L927.5 1476.9L928.2 1475.4L928.9 1475.5L929.6 1474.8L930.3 1473.6L931.0 1472.1L931.7 1470.7L932.4 1470.2L933.1 1468.7L933.8 1467.6L934.5 1465.2L935.2 1466.4L935.9 1462.7L936.6 1463.3L937.3 1462.4L938.0 1460.5L938.7 1460.4L939.4 1460.1L940.1 1458.5L940.8 1457.6L941.5 1454.8L942.2 1455.0L942.9 1452.7L943.6 1453.1L944.3 1452.7L945.0 1450.2L945.7 1448.7L946.4 1450.1L947.1 1447.0L947.8 1446.2L948.5 1447.8L949.2 1446.8L949.9 1445.5L950.6 1441.8L951.3 1443.3L952.0 1440.8L952.7 1439.7L953.4 1438.0L954.1 1436.8L954.8 1435.3L955.5 1434.6L956.2 1432.3L956.9 1432.7L957.6 1432.1L958.3 1433.3L959.0 1428.6L959.7 1429.9L960.4 1426.9L961.1 1426.2L961.8 1428.1L962.5 1425.3L963.2 1425.7L963.9 1425.2L964.6 1422.0L965.3 1422.4L966.0 1421.6L966.7 1417.7L967.4 1414.8L968.1 1415.6L968.8 1413.3L969.5 1415.2L970.2 1414.5L970.9 1407.9L971.6 1409.1L972.3 1406.4L973.0 1406.7L973.7 1403.1L974.4 1403.5L975.1 1401.0L975.8 1401.9L976.5 1398.7L977.2 1402.0L977.9 1402.9L978.6 1402.1L979.3 1398.9L980.0 1395.7L980.7 1400.2L981.4 1397.8L982.1 1394.8L982.8 1397.6L983.5 1398.2L984.2 1394.0L984.9 1396.5L985.6 1392.8L986.3 1395.5L987.0 1393.2L987.7 1394.5L988.4 1388.9L989.1 1392.0L989.8 1387.2L990.5 1387.7L991.2 1390.1L991.9 1387.5L992.6 1387.8L993.3 1385.0L994.0 1384.1L994.7 1386.1L995.4 1378.9L996.1 1383.5L996.8 1380.9L997.5 1382.4L998.2 1382.8L998.9 1375.6L999.6 1380.9L1000.3 1373.5L1001.0 1374.8L1001.7 1379.9L1002.4 1371.4L1003.1 1372.2L1003.8 1377.7L1004.5 1371.9L1005.2 1372.8L1005.9 1369.5L1006.6 1371.4L1007.3 1371.1L1008.0 1375.2L1008.7 1369.0L1009.4 1374.3L1010.1 1367.5L1010.8 1363.5L1011.5 1368.5L1012.2 1367.4L1012.9 1369.3L1013.6 1366.2L1014.3 1368.4L1015.0 1364.8L1015.7 1367.6L1016.4 1363.1L1017.1 1362.7L1017.8 1362.0L1018.5 1364.6L1019.2 1360.1L1019.9 1356.1L1020.6 1361.5L1021.3 1363.7L1022.0 1353.8L1022.7 1354.7L1023.4 1356.3L1024.1 1352.8L1024.8 1360.6L1025.5 1360.4L1026.2 1356.6L1026.9 1362.5L1027.6 1362.1L1028.3 1360.9L1029.0 1358.6L1029.7 1362.4L1030.4 1359.4L1031.1 1360.3L1031.8 1354.7L1032.5 1360.5L1033.2 1357.8L1033.9 1353.1L1034.6 1357.8L1035.3 1346.5L1036.0 1349.7L1036.7 1351.4L1037.4 1354.6L1038.1 1354.1L1038.8 1346.6L1039.5 1348.8L1040.2 1346.5L1040.9 1343.2L1041.6 1340.7L1042.3 1346.3L1043.0 1348.2L1043.7 1348.1L1044.4 1349.0L1045.1 1347.5L1045.8 1342.6L1046.5 1337.4L1047.2 1343.3L1047.9 1341.0L1048.6 1334.5L1049.3 1348.9L1050.0 1344.0L1050.7 1347.7L1051.4 1342.3L1052.1 1336.1L1052.8 1338.8L1053.5 1345.2L1054.2 1349.4L1054.9 1344.6L1055.6 1349.4L1056.3 1349.1L1057.0 1339.1L1057.7 1337.9L1058.4 1345.9L1059.1 1347.6L1059.8 1344.4L1060.5 1348.5L1061.2 1351.4L1061.9 1338.9L1062.6 1344.0L1063.3 1338.3L1064.0 1342.1L1064.7 1338.4L1065.4 1349.2L1066.1 1346.7L1066.8 1348.9L1067.5 1346.1L1068.2 1338.6L1068.9 1341.8L1069.6 1345.9L1070.3 1341.8L1071.0 1352.0L1071.7 1339.9L1072.4 1344.9L1073.1 1347.8L1073.8 1347.2L1074.5 1344.4L1075.2 1355.2L1075.9 1350.9L1076.6 1343.8L1077.3 1356.4L1078.0 1343.8L1078.7 1353.5L1079.4 1358.4L1080.1 1354.7L1080.8 1353.0L1081.5 1348.9L1082.2 1355.0L1082.9 1357.9L1083.6 1350.0L1084.3 1360.0L1085.0 1358.2L1085.7 1351.7L1086.4 1361.8L1087.1 1360.0L1087.8 1363.4L1088.5 1356.4L1089.2 1358.6L1089.9 1366.6L1090.6 1367.6L1091.3 1368.6L1092.0 1358.1L1092.7 1363.5L1093.4 1370.3L1094.1 1367.3L1094.8 1365.7L1095.5 1362.5L1096.2 1367.0L1096.9 1370.4L1097.6 1368.7L1098.3 1367.3L1099.0 1374.2L1099.7 1365.6L1100.4 1374.0L1101.1 1367.5L1101.8 1369.2L1102.5 1376.3L1103.2 1371.3L1103.9 1371.3L1104.6 1372.5L1105.3 1380.6L1106.0 1381.3L1106.7 1380.2L1107.4 1379.4L1108.1 1384.5L1108.8 1382.3L1109.5 1381.6L1110.2 1386.1L1110.9 1384.6L1111.6 1384.6L1112.3 1386.7L1113.0 1384.0L1113.7 1383.3L1114.4 1389.5L1115.1 1388.6L1115.8 1388.7L1116.5 1392.8L1117.2 1393.3L1117.9 1389.6L1118.6 1391.7L1119.3 1394.4L1120.0 1394.1L1120.7 1396.3L1121.4 1392.1L1122.1 1398.0L1122.8 1395.3L1123.5 1395.2L1124.2 1397.5L1124.9 1400.4L1125.6 1400.4L1126.3 1397.5L1127.0 1400.6L1127.7 1399.9L1128.4 1403.7L1129.1 1401.9L1129.8 1402.7L1130.5 1406.1L1131.2 1405.3L1131.9 1408.2L1132.6 1407.6L1133.3 1408.6L1134.0 1409.4L1134.7 1411.4L1135.4 1415.0L1136.1 1412.9L1136.8 1412.4L1137.5 1414.3L1138.2 1416.7L1138.9 1420.5L1139.6 1419.5L1140.3 1423.1L1141.0 1421.8L1141.7 1425.5L1142.4 1424.4L1143.1 1429.0L1143.8 1429.6L1144.5 1430.5L1145.2 1434.1L1145.9 1434.1L1146.6 1436.9L1147.3 1436.8L1148.0 1439.5L1148.7 1439.8L1149.4 1440.6L1150.1 1441.3L1150.8 1442.7L1151.5 1444.1L1152.2 1444.4L1152.9 1447.0L1153.6 1449.9L1154.3 1449.9L1155.0 1449.0L1155.7 1450.9L1156.4 1454.0L1157.1 1454.2L1157.8 1453.8L1158.5 1456.2L1159.2 1456.4L1159.9 1459.6L1160.6 1459.8L1161.3 1460.3L1162.0 1462.0L1162.7 1462.4L1163.4 1463.1L1164.1 1465.0L1164.8 1465.2L1165.5 1467.4L1166.2 1469.1L1166.9 1470.4L1167.6 1470.3L1168.3 1472.3L1169.0 1474.8L1169.7 1474.3L1170.4 1475.7L1171.1 1477.0L1171.8 1478.0L1172.5 1479.9L1173.2 1481.4L1173.9 1483.8L1174.6 1483.6L1175.3 1486.2L1176.0 1486.8L1176.7 1487.7L1177.4 1489.5L1178.1 1491.8L1178.8 1492.7L1179.5 1494.5L1180.2 1496.2L1180.9 1498.2L1181.6 1500.4L1182.3 1500.3L1183.0 1502.8L1183.7 1504.8L1184.4 1504.8L1185.1 1505.9L1185.8 1508.8L1186.5 1509.7L1187.2 1510.7L1187.9 1510.7L1188.6 1512.7L1189.3 1513.8L1190.0 1514.4L1190.7 1516.5L1191.4 1517.4L1192.1 1518.8L1192.8 1520.4L1193.5 1521.1L1194.2 1522.7L1194.9 1523.2L1195.6 1524.5L1196.3 1525.8L1197.0 1527.8L1197.7 1528.6L1198.4 1530.1L1199.1 1532.0L1199.8 1533.7L1200.5 1535.3L1201.2 1536.6L1201.9 1537.8L1202.6 1539.0L1203.3 1540.4L1204.0 1541.7L1204.7 1542.3L1205.4 1544.8L1206.1 1545.7L1206.8 1547.7L1207.5 1549.4L1208.2 1550.0L1208.9 1552.2L1209.6 1553.4L1210.3 1554.2L1211.0 1555.6L1211.7 1557.6L1212.4 1558.0L1213.1 1560.1L1213.8 1560.5L1214.5 1561.7L1215.2 1563.4L1215.9 1564.7L1216.6 1565.6L1217.3 1566.9L1218.0 1568.0L1218.7 1568.7L1219.4 1569.9L1220.1 1570.8L1220.8 1572.1L1221.5 1573.0L1222.2 1574.8L1222.9 1576.4L1223.6 1576.6L1224.3 1578.4L1225.0 1579.5L1225.7 1580.8L1226.4 1582.1L1227.1 1583.2L1227.8 1583.8L1228.5 1585.2L1229.2 1586.6L1229.9 1587.4L1230.6 1589.0L1231.3 1590.2L1232.0 1591.8L1232.7 1592.3L1233.4 1593.8L1234.1 1594.9L1234.8 1596.3L1235.5 1598.2L1236.2 1599.0L1236.9 1600.4L1237.6 1602.3L1238.3 1602.7L1239.0 1603.8L1239.7 1605.3L1240.4 1605.8L1241.1 1607.7L1241.8 1608.2L1242.5 1609.5L1243.2 1610.2L1243.9 1610.4L1244.6 1612.4L1245.3 1612.3L1246.0 1614.1L1246.7 1614.9L1247.4 1615.9L1248.1 1617.0L1248.8 1617.6L1249.5 1618.2L1250.2 1619.9L1250.9 1621.2L1251.6 1621.9L1252.3 1622.6L1253.0 1623.7L1253.7 1624.8L1254.4 1625.7L1255.1 1626.0L1255.8 1627.1L1256.5 1627.9L1257.2 1629.0L1257.9 1629.9L1258.6 1630.7L1259.3 1632.3L1260.0 1633.0L1260.7 1632.9L1261.4 1634.0L1262.1 1635.7L1262.8 1636.1L1263.5 1636.9L1264.2 1637.8L1264.9 1639.3L1265.6 1640.1L1266.3 1640.7L1267.0 1641.4L1267.7 1642.6L1268.4 1642.8L1269.1 1644.1L1269.8 1644.5L1270.5 1644.8L1271.2 1645.7L1271.9 1646.8L1272.6 1647.0L1273.3 1648.0L1274.0 1648.4L1274.7 1649.6L1275.4 1649.5L1276.1 1650.5L1276.8 1650.8L1277.5 1651.2L1278.2 1652.8L1278.9 1652.6L1279.6 1654.2L1280.3 1655.0L1281.0 1655.3L1281.7 1656.0L1282.4 1657.3L1283.1 1657.8L1283.8 1659.1L1284.5 1659.9L1285.2 1660.4L1285.9 1661.1L1286.6 1662.6L1287.3 1663.0L1288.0 1664.0L1288.7 1664.6L1289.4 1665.9L1290.1 1666.8L1290.8 1667.4L1291.5 1667.9L1292.2 1669.1L1292.9 1669.6L1293.6 1669.5L1294.3 1670.9L1295.0 1671.3L1295.7 1671.8L1296.4 1672.0L1297.1 1672.6L1297.8 1673.1L1298.5 1672.9L1299.2 1673.7L1299.9 1674.7L1300.6 1675.3L1301.3 1675.5L1302.0 1675.8L1302.7 1677.1L1303.4 1676.8L1304.1 1677.3L1304.8 1678.8L1305.5 1679.3L1306.2 1679.9L1306.9 1680.7L1307.6 1680.8L1308.3 1681.6L1309.0 1682.5L1309.7 1683.0L1310.4 1683.9L1311.1 1684.3L1311.8 1684.3L1312.5 1684.9L1313.2 1686.4L1313.9 1686.9L1314.6 1687.6L1315.3 1687.4L1316.0 1688.5L1316.7 1688.4L1317.4 1689.9L1318.1 1689.9L1318.8 1690.3L1319.5 1691.2L1320.2 1691.7L1320.9 1691.8L1321.6 1691.6L1322.3 1691.8L1323.0 1693.2L1323.7 1693.2L1324.4 1693.3L1325.1 1693.4L1325.8 1693.9L1326.5 1694.1L1327.2 1695.0L1327.9 1694.9L1328.6 1695.2L1329.3 1695.6L1330.0 1696.2L1330.7 1697.3L1331.4 1697.3L1332.1 1697.3L1332.8 1697.8L1333.5 1698.7L1334.2 1698.6L1334.9 1698.8L1335.6 1699.6L1336.3 1699.6L1337.0 1700.4L1337.7 1700.2L1338.4 1700.9L1339.1 1701.6L1339.8 1701.9L1340.5 1701.3L1341.2 1701.6L1341.9 1701.9L1342.6 1703.2L1343.3 1703.2L1344.0 1703.1L1344.7 1703.8L1345.4 1703.7L1346.1 1704.8L1346.8 1704.3L1347.5 1704.7L1348.2 1705.2L1348.9 1704.8L1349.6 1705.5L1350.3 1705.5L1351.0 1705.9L1351.7 1706.3L1352.4 1706.5L1353.1 1706.6L1353.8 1706.7L1354.5 1707.0L1355.2 1707.4L1355.9 1707.5L1356.6 1708.4L1357.3 1708.4L1358.0 1708.6L1358.7 1709.0L1359.4 1709.3L1360.1 1709.5L1360.8 1709.9L1361.5 1710.4L1362.2 1711.0L1362.9 1710.6L1363.6 1710.7L1364.3 1710.9L1365.0 1711.0L1365.7 1712.2L1366.4 1712.2L1367.1 1711.6L1367.8 1712.6L1368.5 1712.3L1369.2 1712.7L1369.9 1712.5L1370.6 1712.8L1371.3 1713.4L1372.0 1713.4L1372.7 1713.0L1373.4 1713.1L1374.1 1712.9L1374.8 1713.4L1375.5 1713.0L1376.2 1714.0L1376.9 1714.1L1377.6 1714.1L1378.3 1713.3L1379.0 1713.7L1379.7 1713.8L1380.4 1714.2L1381.1 1715.0L1381.8 1714.9L1382.5 1714.8L1383.2 1715.6L1383.9 1714.6L1384.6 1715.3L1385.3 1715.4L1386.0 1716.1L1386.7 1715.9L1387.4 1716.0L1388.1 1715.8L1388.8 1716.7L1389.5 1717.1L1390.2 1716.9L1390.9 1717.3L1391.6 1716.4L1392.3 1717.0L1393.0 1716.9L1393.7 1716.5L1394.4 1717.4L1395.1 1716.8L1395.8 1717.8L1396.5 1717.1L1397.2 1717.3L1397.9 1718.3L1398.6 1717.7L1399.3 1718.5L1400.0 1718.5L1400.7 1718.8L1401.4 1718.1L1402.1 1718.7L1402.8 1718.7L1403.5 1719.2L1404.2 1719.7L1404.9 1719.4L1405.6 1719.8L1406.3 1720.0L1407.0 1719.6L1407.7 1719.7L1408.4 1719.9L1409.1 1719.8L1409.8 1719.7L1410.5 1720.5L1411.2 1720.8L1411.9 1720.4L1412.6 1720.3L1413.3 1720.2L1414.0 1720.9L1414.7 1720.5L1415.4 1721.3L1416.1 1721.0L1416.8 1721.0L1417.5 1721.4L1418.2 1721.8L1418.9 1721.8L1419.6 1722.0L1420.3 1721.7L1421.0 1722.0L1421.7 1721.5L1422.4 1721.9L1423.1 1722.1L1423.8 1721.1L1424.5 1722.0L1425.2 1722.1L1425.9 1721.6L1426.6 1721.7L1427.3 1722.6L1428.0 1722.3L1428.7 1722.0L1429.4 1722.0L1430.1 1722.8L1430.8 1722.3L1431.5 1722.5L1432.2 1723.2L1432.9 1723.2L1433.6 1722.8L1434.3 1723.5L1435.0 1724.0L1435.7 1723.8L1436.4 1724.0L1437.1 1724.2L1437.8 1723.8L1438.5 1724.2L1439.2 1724.1L1439.9 1724.5L1440.6 1724.3L1441.3 1724.6L1442.0 1724.5L1442.7 1724.0L1443.4 1724.3L1444.1 1724.8L1444.8 1724.4L1445.5 1724.3L1446.2 1725.0L1446.9 1724.5L1447.6 1724.9L1448.3 1724.3L1449.0 1724.2L1449.7 1724.4L1450.4 1724.1L1451.1 1724.8L1451.8 1724.8L1452.5 1724.9L1453.2 1724.2L1453.9 1725.4L1454.6 1725.2L1455.3 1725.5L1456.0 1724.6L1456.7 1724.8L1457.4 1725.7L1458.1 1725.4L1458.8 1725.1L1459.5 1726.1L1460.2 1726.0L1460.9 1726.3L1461.6 1725.7L1462.3 1725.9L1463.0 1726.9L1463.7 1725.9L1464.4 1726.6L1465.1 1726.5L1465.8 1727.2L1466.5 1726.5L1467.2 1726.7L1467.9 1726.6L1468.6 1726.6L1469.3 1726.8L1470.0 1726.5L1470.7 1726.8L1471.4 1726.7L1472.1 1726.9L1472.8 1727.1L1473.5 1727.6L1474.2 1727.5L1474.9 1727.6L1475.6 1727.1L1476.3 1727.2L1477.0 1726.9L1477.7 1727.8L1478.4 1728.0L1479.1 1727.2L1479.8 1727.3L1480.5 1727.2L1481.2 1727.4L1481.9 1728.4L1482.6 1728.4L1483.3 1727.6L1484.0 1727.9L1484.7 1727.6L1485.4 1727.7L1486.1 1728.1L1486.8 1727.6L1487.5 1728.5L1488.2 1727.8L1488.9 1728.5L1489.6 1727.8L1490.3 1728.3L1491.0 1728.1L1491.7 1728.0L1492.4 1728.3L1493.1 1728.2L1493.8 1728.7L1494.5 1728.2L1495.2 1728.2L1495.9 1728.3L1496.6 1727.8L1497.3 1728.7L1498.0 1727.8L1498.7 1727.8L1499.4 1728.3L1500.1 1728.4L1500.8 1729.1L1501.5 1728.2L1502.2 1728.1L1502.9 1729.0L1503.6 1728.5L1504.3 1728.9L1505.0 1728.8L1505.7 1728.5L1506.4 1728.6L1507.1 1728.8L1507.8 1728.9L1508.5 1729.6L1509.2 1729.0L1509.9 1729.0L1510.6 1729.0L1511.3 1729.6L1512.0 1729.2L1512.7 1729.2L1513.4 1729.0L1514.1 1728.9L1514.8 1728.8L1515.5 1729.9L1516.2 1728.8L1516.9 1729.0L1517.6 1729.6L1518.3 1728.8L1519.0 1729.2L1519.7 1729.0L1520.4 1729.1L1521.1 1729.2L1521.8 1729.1L1522.5 1728.7L1523.2 1729.2L1523.9 1729.6L1524.6 1729.3L1525.3 1729.7L1526.0 1728.7L1526.7 1728.9L1527.4 1728.7L1528.1 1729.5L1528.8 1729.5L1529.5 1729.5L1530.0 1729.5" fill="none" stroke="#000000" stroke-width="12.5" stroke-linejoin="bevel" stroke-linecap="butt" shape-rendering="crispEdges"/>
<path d="M168.0 1705.1L168.7 1705.1L169.4 1705.1L170.1 1705.1L170.8 1705.1L171.5 1705.6L172.2 1705.5L172.9 1705.4L173.6 1705.4L174.3 1705.7L175.0 1705.5L175.7 1705.8L176.4 1705.6L177.1 1705.6L177.8 1705.7L178.5 1705.9L179.2 1705.7L179.9 1705.3L180.6 1705.7L181.3 1705.6L182.0 1704.8L182.7 1705.3L183.4 1705.4L184.1 1705.2L184.8 1705.2L185.5 1705.0L186.2 1704.6L186.9 1705.4L187.6 1704.9L188.3 1704.8L189.0 1705.3L189.7 1705.7L190.4 1705.1L191.1 1705.6L191.8 1705.7L192.5 1705.9L193.2 1706.2L193.9 1705.8L194.6 1705.7L195.3 1705.9L196.0 1706.2L196.7 1706.2L197.4 1705.8L198.1 1706.3L198.8 1705.7L199.5 1705.5L200.2 1705.7L200.9 1705.1L201.6 1705.3L202.3 1705.5L203.0 1705.4L203.7 1704.9L204.4 1704.7L205.1 1704.9L205.8 1704.7L206.5 1704.9L207.2 1704.4L207.9 1704.4L208.6 1704.8L209.3 1704.6L210.0 1704.8L210.7 1704.8L211.4 1704.7L212.1 1704.1L212.8 1704.6L213.5 1704.5L214.2 1704.4L214.9 1704.8L215.6 1704.9L216.3 1704.8L217.0 1704.4L217.7 1704.9L218.4 1704.3L219.1 1704.5L219.8 1705.1L220.5 1704.6L221.2 1704.4L221.9 1704.8L222.6 1704.3L223.3 1704.7L224.0 1704.3L224.7 1704.0L225.4 1704.8L226.1 1704.0L226.8 1704.4L227.5 1704.2L228.2 1704.5L228.9 1704.6L229.6 1704.4L230.3 1704.4L231.0 1704.0L231.7 1704.6L232.4 1704.1L233.1 1704.4L233.8 1704.0L234.5 1704.2L235.2 1704.6L235.9 1704.3L236.6 1704.3L237.3 1704.1L238.0 1704.4L238.7 1703.9L239.4 1703.7L240.1 1704.1L240.8 1703.8L241.5 1704.2L242.2 1703.7L242.9 1704.2L243.6 1704.1L244.3 1703.6L245.0 1704.0L245.7 1704.1L246.4 1704.4L247.1 1704.3L247.8 1704.2L248.5 1704.0L249.2 1703.6L249.9 1704.3L250.6 1703.6L251.3 1704.1L252.0 1704.2L252.7 1703.8L253.4 1703.7L254.1 1704.2L254.8 1704.1L255.5 1704.0L256.2 1703.7L256.9 1704.3L257.6 1703.8L258.3 1703.7L259.0 1703.9L259.7 1704.0L260.4 1703.9L261.1 1703.8L261.8 1704.4L262.5 1704.1L263.2 1704.0L263.9 1704.3L264.6 1704.1L265.3 1704.6L266.0 1704.3L266.7 1704.4L267.4 1704.7L268.1 1704.1L268.8 1704.0L269.5 1704.6L270.2 1704.1L270.9 1704.4L271.6 1704.2L272.3 1703.9L273.0 1703.1L273.7 1703.5L274.4 1703.1L275.1 1702.9L275.8 1703.0L276.5 1702.8L277.2 1703.3L277.9 1703.4L278.6 1702.5L279.3 1702.7L280.0 1702.8L280.7 1702.7L281.4 1703.4L282.1 1702.8L282.8 1703.0L283.5 1702.8L284.2 1703.0L284.9 1703.6L285.6 1703.8L286.3 1703.6L287.0 1703.3L287.7 1703.2L288.4 1703.9L289.1 1703.3L289.8 1703.5L290.5 1703.7L291.2 1703.5L291.9 1704.0L292.6 1703.7L293.3 1703.7L294.0 1704.1L294.7 1704.1L295.4 1703.5L296.1 1703.3L296.8 1703.9L297.5 1703.5L298.2 1703.3L298.9 1703.3L299.6 1703.5L300.3 1703.2L301.0 1703.1L301.7 1703.5L302.4 1703.1L303.1 1702.6L303.8 1702.6L304.5 1703.1L305.2 1702.2L305.9 1702.7L306.6 1702.7L307.3 1702.7L308.0 1702.6L308.7 1702.8L309.4 1702.9L310.1 1702.8L310.8 1702.4L311.5 1703.0L312.2 1702.7L312.9 1703.2L313.6 1703.0L314.3 1702.6L315.0 1703.4L315.7 1703.0L316.4 1703.4L317.1 1702.6L317.8 1702.6L318.5 1703.1L319.2 1702.4L319.9 1702.7L320.6 1702.9L321.3 1702.4L322.0 1702.1L322.7 1702.6L323.4 1701.8L324.1 1701.9L324.8 1701.7L325.5 1701.9L326.2 1701.7L326.9 1702.1L327.6 1702.0L328.3 1701.9L329.0 1701.3L329.7 1701.7L330.4 1701.9L331.1 1702.0L331.8 1701.8L332.5 1701.4L333.2 1701.5L333.9 1701.8L334.6 1701.9L335.3 1701.5L336.0 1701.8L336.7 1701.7L337.4 1702.0L338.1 1701.9L338.8 1702.1L339.5 1701.5L340.2 1702.1L340.9 1702.3L341.6 1701.9L342.3 1701.4L343.0 1701.5L343.7 1701.8L344.4 1701.8L345.1 1701.8L345.8 1701.9L346.5 1701.9L347.2 1701.9L347.9 1701.4L348.6 1701.5L349.3 1701.3L350.0 1701.5L350.7 1701.3L351.4 1701.3L352.1 1701.0L352.8 1701.2L353.5 1701.4L354.2 1701.2L354.9 1700.7L355.6 1700.6L356.3 1701.1L357.0 1700.8L357.7 1700.7L358.4 1701.2L359.1 1701.1L359.8 1701.0L360.5 1700.6L361.2 1700.7L361.9 1700.6L362.6 1700.2L363.3 1700.4L364.0 1700.6L364.7 1699.7L365.4 1699.7L366.1 1699.7L366.8 1700.1L367.5 1699.6L368.2 1699.2L368.9 1699.4L369.6 1699.8L370.3 1699.6L371.0 1699.1L371.7 1699.5L372.4 1699.1L373.1 1698.9L373.8 1699.6L374.5 1698.9L375.2 1699.1L375.9 1699.4L376.6 1699.1L377.3 1698.9L378.0 1698.8L378.7 1698.5L379.4 1698.5L380.1 1698.8L380.8 1699.2L381.5 1698.5L382.2 1699.1L382.9 1699.0L383.6 1698.4L384.3 1698.5L385.0 1698.6L385.7 1699.0L386.4 1698.8L387.1 1698.9L387.8 1698.6L388.5 1698.7L389.2 1698.6L389.9 1698.4L390.6 1698.7L391.3 1698.6L392.0 1698.8L392.7 1698.8L393.4 1698.4L394.1 1698.5L394.8 1698.1L395.5 1698.3L396.2 1698.5L396.9 1698.3L397.6 1697.5L398.3 1698.2L399.0 1697.3L399.7 1697.2L400.4 1697.3L401.1 1697.3L401.8 1697.9L402.5 1697.8L403.2 1697.5L403.9 1697.3L404.6 1697.6L405.3 1697.1L406.0 1696.7L406.7 1696.6L407.4 1697.0L408.1 1696.7L408.8 1696.9L409.5 1696.8L410.2 1696.7L410.9 1696.7L411.6 1696.6L412.3 1696.3L413.0 1696.7L413.7 1696.7L414.4 1696.6L415.1 1696.0L415.8 1696.8L416.5 1696.4L417.2 1696.7L417.9 1696.0L418.6 1696.8L419.3 1696.2L420.0 1696.3L420.7 1696.4L421.4 1695.9L422.1 1695.9L422.8 1696.1L423.5 1695.9L424.2 1695.5L424.9 1695.4L425.6 1696.1L426.3 1695.7L427.0 1695.3L427.7 1695.8L428.4 1695.7L429.1 1694.9L429.8 1695.0L430.5 1695.1L431.2 1695.4L431.9 1694.8L432.6 1695.4L433.3 1695.3L434.0 1694.8L434.7 1694.7L435.4 1694.6L436.1 1694.5L436.8 1695.3L437.5 1694.5L438.2 1695.2L438.9 1694.5L439.6 1694.2L440.3 1694.8L441.0 1694.6L441.7 1694.2L442.4 1694.4L443.1 1694.2L443.8 1693.8L444.5 1693.6L445.2 1693.4L445.9 1694.0L446.6 1693.1L447.3 1693.6L448.0 1693.0L448.7 1693.5L449.4 1692.9L450.1 1692.8L450.8 1693.1L451.5 1692.7L452.2 1692.6L452.9 1693.1L453.6 1693.2L454.3 1692.8L455.0 1693.0L455.7 1692.8L456.4 1692.9L457.1 1692.8L457.8 1692.3L458.5 1692.5L459.2 1692.1L459.9 1691.7L460.6 1692.0L461.3 1691.5L462.0 1691.0L462.7 1691.0L463.4 1690.9L464.1 1690.5L464.8 1690.3L465.5 1690.2L466.2 1690.7L466.9 1690.3L467.6 1690.2L468.3 1690.2L469.0 1690.7L469.7 1690.8L470.4 1690.3L471.1 1690.6L471.8 1690.3L472.5 1690.2L473.2 1690.2L473.9 1690.4L474.6 1690.1L475.3 1689.6L476.0 1689.2L476.7 1688.8L477.4 1688.9L478.1 1689.4L478.8 1688.7L479.5 1688.7L480.2 1688.1L480.9 1688.1L481.6 1688.7L482.3 1688.1L483.0 1687.7L483.7 1687.9L484.4 1687.8L485.1 1687.4L485.8 1687.1L486.5 1687.2L487.2 1686.5L487.9 1686.9L488.6 1686.5L489.3 1686.4L490.0 1686.4L490.7 1686.4L491.4 1685.8L492.1 1685.9L492.8 1685.2L493.5 1685.4L494.2 1685.4L494.9 1685.4L495.6 1684.9L496.3 1684.8L497.0 1684.5L497.7 1684.2L498.4 1684.5L499.1 1684.1L499.8 1683.7L500.5 1684.1L501.2 1684.1L501.9 1683.6L502.6 1683.8L503.3 1683.2L504.0 1683.6L504.7 1683.2L505.4 1682.8L506.1 1683.3L506.8 1683.1L507.5 1683.2L508.2 1682.5L508.9 1683.1L509.6 1682.4L510.3 1682.1L511.0 1681.9L511.7 1682.0L512.4 1681.8L513.1 1682.0L513.8 1682.2L514.5 1681.4L515.2 1681.3L515.9 1681.1L516.6 1681.0L517.3 1681.2L518.0 1681.2L518.7 1680.7L519.4 1680.4L520.1 1680.2L520.8 1680.2L521.5 1679.8L522.2 1679.5L522.9 1679.9L523.6 1679.4L524.3 1678.8L525.0 1679.0L525.7 1678.6L526.4 1678.1L527.1 1678.4L527.8 1678.0L528.5 1678.1L529.2 1677.9L529.9 1677.3L530.6 1677.2L531.3 1677.3L532.0 1676.8L532.7 1676.3L533.4 1676.1L534.1 1676.3L534.8 1676.0L535.5 1675.6L536.2 1674.9L536.9 1675.0L537.6 1674.8L538.3 1674.7L539.0 1674.6L539.7 1674.5L540.4 1674.2L541.1 1673.8L541.8 1673.8L542.5 1674.0L543.2 1673.6L543.9 1673.4L544.6 1673.7L545.3 1673.6L546.0 1672.8L546.7 1672.7L547.4 1672.7L548.1 1671.7L548.8 1671.4L549.5 1671.4L550.2 1670.6L550.9 1670.4L551.6 1670.6L552.3 1669.7L553.0 1669.2L553.7 1669.3L554.4 1668.6L555.1 1668.4L555.8 1668.8L556.5 1668.3L557.2 1667.4L557.9 1667.2L558.6 1666.8L559.3 1666.6L560.0 1666.9L560.7 1666.7L561.4 1666.2L562.1 1665.4L562.8 1665.6L563.5 1665.5L564.2 1664.8L564.9 1665.1L565.6 1665.1L566.3 1664.5L567.0 1664.7L567.7 1663.9L568.4 1663.8L569.1 1664.0L569.8 1663.6L570.5 1663.4L571.2 1662.6L571.9 1662.9L572.6 1661.9L573.3 1662.0L574.0 1661.2L574.7 1661.0L575.4 1661.0L576.1 1660.4L576.8 1660.0L577.5 1659.0L578.2 1659.2L578.9 1658.8L579.6 1658.5L580.3 1657.3L581.0 1657.1L581.7 1656.7L582.4 1656.8L583.1 1656.5L583.8 1655.9L584.5 1655.3L585.2 1654.8L585.9 1655.3L586.6 1655.0L587.3 1654.5L588.0 1654.2L588.7 1653.5L589.4 1653.0L590.1 1652.6L590.8 1652.9L591.5 1652.1L592.2 1652.5L592.9 1651.6L593.6 1651.8L594.3 1651.4L595.0 1650.8L595.7 1650.7L596.4 1649.8L597.1 1650.1L597.8 1649.2L598.5 1649.2L599.2 1648.3L599.9 1648.3L600.6 1648.0L601.3 1647.6L602.0 1646.6L602.7 1646.5L603.4 1646.0L604.1 1645.5L604.8 1645.5L605.5 1644.5L606.2 1644.6L606.9 1644.1L607.6 1643.4L608.3 1642.8L609.0 1642.9L609.7 1642.6L610.4 1641.6L611.1 1641.1L611.8 1640.9L612.5 1640.7L613.2 1640.4L613.9 1640.3L614.6 1639.4L615.3 1639.7L616.0 1639.0L616.7 1638.5L617.4 1637.9L618.1 1638.0L618.8 1637.3L619.5 1637.1L620.2 1637.1L620.9 1636.0L621.6 1635.7L622.3 1635.5L623.0 1634.2L623.7 1634.2L624.4 1633.5L625.1 1632.8L625.8 1632.3L626.5 1631.7L627.2 1631.2L627.9 1630.2L628.6 1629.9L629.3 1629.9L630.0 1629.1L630.7 1628.7L631.4 1628.1L632.1 1628.1L632.8 1626.9L633.5 1626.7L634.2 1626.6L634.9 1626.2L635.6 1625.4L636.3 1625.2L637.0 1624.4L637.7 1623.6L638.4 1623.0L639.1 1622.5L639.8 1622.6L640.5 1621.3L641.2 1620.5L641.9 1620.4L642.6 1619.7L643.3 1618.9L644.0 1618.9L644.7 1618.1L645.4 1617.3L646.1 1616.4L646.8 1616.4L647.5 1615.9L648.2 1615.0L648.9 1615.0L649.6 1614.5L650.3 1613.5L651.0 1613.3L651.7 1612.8L652.4 1611.8L653.1 1611.9L653.8 1610.8L654.5 1610.6L655.2 1609.8L655.9 1609.0L656.6 1608.8L657.3 1608.3L658.0 1607.5L658.7 1606.5L659.4 1606.3L660.1 1605.4L660.8 1604.3L661.5 1603.4L662.2 1603.1L662.9 1601.9L663.6 1601.1L664.3 1600.4L665.0 1600.0L665.7 1599.0L666.4 1598.8L667.1 1597.6L667.8 1597.5L668.5 1596.3L669.2 1595.9L669.9 1594.8L670.6 1594.1L671.3 1593.5L672.0 1592.8L672.7 1592.5L673.4 1592.1L674.1 1591.1L674.8 1590.4L675.5 1590.0L676.2 1588.7L676.9 1588.4L677.6 1587.5L678.3 1586.7L679.0 1585.8L679.7 1585.5L680.4 1584.2L681.1 1583.4L681.8 1583.0L682.5 1581.8L683.2 1581.3L683.9 1580.8L684.6 1580.1L685.3 1579.7L686.0 1579.1L686.7 1577.7L687.4 1577.6L688.1 1577.1L688.8 1575.9L689.5 1575.1L690.2 1575.0L690.9 1574.0L691.6 1573.5L692.3 1572.4L693.0 1572.1L693.7 1571.2L694.4 1570.0L695.1 1569.5L695.8 1568.6L696.5 1567.6L697.2 1566.5L697.9 1565.6L698.6 1565.2L699.3 1564.3L700.0 1562.8L700.7 1562.6L701.4 1561.2L702.1 1560.4L702.8 1560.0L703.5 1558.9L704.2 1558.3L704.9 1557.4L705.6 1555.7L706.3 1554.9L707.0 1554.3L707.7 1553.4L708.4 1552.0L709.1 1550.9L709.8 1550.4L710.5 1548.7L711.2 1548.4L711.9 1547.0L712.6 1546.1L713.3 1545.5L714.0 1544.2L714.7 1543.3L715.4 1542.6L716.1 1541.5L716.8 1540.8L717.5 1540.2L718.2 1538.8L718.9 1538.6L719.6 1537.4L720.3 1536.6L721.0 1536.0L721.7 1534.9L722.4 1534.6L723.1 1533.7L723.8 1532.5L724.5 1531.2L725.2 1530.3L725.9 1529.3L726.6 1527.8L727.3 1526.8L728.0 1526.0L728.7 1524.6L729.4 1523.4L730.1 1522.9L730.8 1521.2L731.5 1520.0L732.2 1519.7L732.9 1518.0L733.6 1517.4L734.3 1515.7L735.0 1515.0L735.7 1513.9L736.4 1513.0L737.1 1511.2L737.8 1510.5L738.5 1509.6L739.2 1508.1L739.9 1507.3L740.6 1505.9L741.3 1505.1L742.0 1504.3L742.7 1503.3L743.4 1502.0L744.1 1501.0L744.8 1500.3L745.5 1499.1L746.2 1498.9L746.9 1497.2L747.6 1496.9L748.3 1496.0L749.0 1494.7L749.7 1493.2L750.4 1492.4L751.1 1490.9L751.8 1489.5L752.5 1488.7L753.2 1487.3L753.9 1485.4L754.6 1484.0L755.3 1482.8L756.0 1481.1L756.7 1480.0L757.4 1478.7L758.1 1477.6L758.8 1475.7L759.5 1474.5L760.2 1473.4L760.9 1472.3L761.6 1471.5L762.3 1470.2L763.0 1468.7L763.7 1467.6L764.4 1465.7L765.1 1464.7L765.8 1463.9L766.5 1462.3L767.2 1460.5L767.9 1459.8L768.6 1458.2L769.3 1457.1L770.0 1455.5L770.7 1454.2L771.4 1453.1L772.1 1451.6L772.8 1450.7L773.5 1450.0L774.2 1448.4L774.9 1446.9L775.6 1446.1L776.3 1444.9L777.0 1443.7L777.7 1442.3L778.4 1441.3L779.1 1439.2L779.8 1438.1L780.5 1436.8L781.2 1435.1L781.9 1433.8L782.6 1432.9L783.3 1431.0L784.0 1429.7L784.7 1427.8L785.4 1426.6L786.1 1424.8L786.8 1423.4L787.5 1422.7L788.2 1420.7L788.9 1419.4L789.6 1418.1L790.3 1416.6L791.0 1415.9L791.7 1414.2L792.4 1413.1L793.1 1412.1L793.8 1410.8L794.5 1408.7L795.2 1407.5L795.9 1405.6L796.6 1404.0L797.3 1402.7L798.0 1401.4L798.7 1399.4L799.4 1397.6L800.1 1396.4L800.8 1394.9L801.5 1393.8L802.2 1391.7L802.9 1390.2L803.6 1388.4L804.3 1387.3L805.0 1385.6L805.7 1384.6L806.4 1382.9L807.1 1381.0L807.8 1379.2L808.5 1378.6L809.2 1376.9L809.9 1374.2L810.6 1373.4L811.3 1371.8L812.0 1369.2L812.7 1368.2L813.4 1366.2L814.1 1364.7L814.8 1362.6L815.5 1361.6L816.2 1360.8L816.9 1358.4L817.6 1357.9L818.3 1356.6L819.0 1354.3L819.7 1353.8L820.4 1351.5L821.1 1350.6L821.8 1349.8L822.5 1348.4L823.2 1347.0L823.9 1344.8L824.6 1342.9L825.3 1341.6L826.0 1339.9L826.7 1338.6L827.4 1337.4L828.1 1335.1L828.8 1334.1L829.5 1332.4L830.2 1329.9L830.9 1329.0L831.6 1327.7L832.3 1325.8L833.0 1324.4L833.7 1322.2L834.4 1320.6L835.1 1319.4L835.8 1317.5L836.5 1316.2L837.2 1313.8L837.9 1312.8L838.6 1310.7L839.3 1308.5L840.0 1307.6L840.7 1306.2L841.4 1303.6L842.1 1301.8L842.8 1301.0L843.5 1300.2L844.2 1297.6L844.9 1295.3L845.6 1293.9L846.3 1293.3L847.0 1290.3L847.7 1289.3L848.4 1287.7L849.1 1287.1L849.8 1283.6L850.5 1282.0L851.2 1282.4L851.9 1279.8L852.6 1277.6L853.3 1277.6L854.0 1275.0L854.7 1274.4L855.4 1272.8L856.1 1270.3L856.8 1270.5L857.5 1267.9L858.2 1267.3L858.9 1266.2L859.6 1263.0L860.3 1262.8L861.0 1260.7L861.7 1258.1L862.4 1257.8L863.1 1254.5L863.8 1253.9L864.5 1251.4L865.2 1250.1L865.9 1249.2L866.6 1249.3L867.3 1246.0L868.0 1247.6L868.7 1244.5L869.4 1243.0L870.1 1241.7L870.8 1240.9L871.5 1239.6L872.2 1237.7L872.9 1236.7L873.6 1238.0L874.3 1235.7L875.0 1232.6L875.7 1233.7L876.4 1231.4L877.1 1228.3L877.8 1229.4L878.5 1224.5L879.2 1223.6L879.9 1222.3L880.6 1222.6L881.3 1219.2L882.0 1218.6L882.7 1213.9L883.4 1216.1L884.1 1215.1L884.8 1213.2L885.5 1208.1L886.2 1210.6L886.9 1205.8L887.6 1203.0L888.3 1201.7L889.0 1205.9L889.7 1201.7L890.4 1203.5L891.1 1197.0L891.8 1200.5L892.5 1195.7L893.2 1195.8L893.9 1195.8L894.6 1197.5L895.3 1196.9L896.0 1194.9L896.7 1191.2L897.4 1193.8L898.1 1188.5L898.8 1190.3L899.5 1185.1L900.2 1190.5L900.9 1187.7L901.6 1183.6L902.3 1183.4L903.0 1183.3L903.7 1184.5L904.4 1180.8L905.1 1181.0L905.8 1174.2L906.5 1175.1L907.2 1177.4L907.9 1178.8L908.6 1173.6L909.3 1169.5L910.0 1172.3L910.7 1173.6L911.4 1171.4L912.1 1164.3L912.8 1165.5L913.5 1164.8L914.2 1169.7L914.9 1163.4L915.6 1163.9L916.3 1161.5L917.0 1167.1L917.7 1157.8L918.4 1156.3L919.1 1157.3L919.8 1153.0L920.5 1159.2L921.2 1150.5L921.9 1157.5L922.6 1157.9L923.3 1151.6L924.0 1154.2L924.7 1150.6L925.4 1145.4L926.1 1150.4L926.8 1151.5L927.5 1149.8L928.2 1142.0L928.9 1143.3L929.6 1136.8L930.3 1144.6L931.0 1138.2L931.7 1139.5L932.4 1138.1L933.1 1134.1L933.8 1133.6L934.5 1141.3L935.2 1137.7L935.9 1139.3L936.6 1137.9L937.3 1134.9L938.0 1130.3L938.7 1131.0L939.4 1130.5L940.1 1138.4L940.8 1139.0L941.5 1140.6L942.2 1134.9L942.9 1134.2L943.6 1133.2L944.3 1137.2L945.0 1137.0L945.7 1127.6L946.4 1125.3L947.1 1137.2L947.8 1132.5L948.5 1134.4L949.2 1133.1L949.9 1128.7L950.6 1119.2L951.3 1123.4L952.0 1119.6L952.7 1125.3L953.4 1125.6L954.1 1118.5L954.8 1123.2L955.5 1126.9L956.2 1114.8L956.9 1119.0L957.6 1118.3L958.3 1123.4L959.0 1124.8L959.7 1118.8L960.4 1127.3L961.1 1125.7L961.8 1113.6L962.5 1112.7L963.2 1118.5L963.9 1111.8L964.6 1122.4L965.3 1122.6L966.0 1125.0L966.7 1121.4L967.4 1118.4L968.1 1117.1L968.8 1115.8L969.5 1111.2L970.2 1112.4L970.9 1119.6L971.6 1113.8L972.3 1114.9L973.0 1111.2L973.7 1119.7L974.4 1118.8L975.1 1125.1L975.8 1115.7L976.5 1120.4L977.2 1118.1L977.9 1115.1L978.6 1126.1L979.3 1118.2L980.0 1114.8L980.7 1124.8L981.4 1112.3L982.1 1114.5L982.8 1127.4L983.5 1115.0L984.2 1119.3L984.9 1127.2L985.6 1127.4L986.3 1119.1L987.0 1122.6L987.7 1128.5L988.4 1124.4L989.1 1121.6L989.8 1123.3L990.5 1113.8L991.2 1114.8L991.9 1124.1L992.6 1125.2L993.3 1125.3L994.0 1121.1L994.7 1125.9L995.4 1125.8L996.1 1123.0L996.8 1134.4L997.5 1121.6L998.2 1136.4L998.9 1122.1L999.6 1126.3L1000.3 1126.4L1001.0 1125.7L1001.7 1129.3L1002.4 1130.1L1003.1 1126.7L1003.8 1136.1L1004.5 1127.1L1005.2 1137.4L1005.9 1142.1L1006.6 1141.9L1007.3 1143.2L1008.0 1136.2L1008.7 1138.1L1009.4 1142.4L1010.1 1137.3L1010.8 1142.7L1011.5 1142.7L1012.2 1139.2L1012.9 1139.4L1013.6 1148.8L1014.3 1143.3L1015.0 1149.7L1015.7 1142.1L1016.4 1145.0L1017.1 1143.5L1017.8 1152.7L1018.5 1147.0L1019.2 1151.8L1019.9 1152.4L1020.6 1153.8L1021.3 1150.1L1022.0 1153.3L1022.7 1160.3L1023.4 1156.8L1024.1 1163.2L1024.8 1156.4L1025.5 1164.6L1026.2 1165.7L1026.9 1164.0L1027.6 1162.6L1028.3 1163.8L1029.0 1165.7L1029.7 1167.5L1030.4 1171.5L1031.1 1169.6L1031.8 1175.4L1032.5 1170.5L1033.2 1179.0L1033.9 1175.2L1034.6 1180.0L1035.3 1179.4L1036.0 1177.0L1036.7 1180.3L1037.4 1184.3L1038.1 1188.0L1038.8 1188.0L1039.5 1190.5L1040.2 1187.4L1040.9 1190.0L1041.6 1189.1L1042.3 1190.0L1043.0 1189.7L1043.7 1192.4L1044.4 1195.6L1045.1 1195.3L1045.8 1201.4L1046.5 1198.2L1047.2 1204.0L1047.9 1205.8L1048.6 1206.5L1049.3 1206.4L1050.0 1207.8L1050.7 1208.6L1051.4 1210.0L1052.1 1213.4L1052.8 1215.2L1053.5 1215.8L1054.2 1216.0L1054.9 1216.6L1055.6 1220.7L1056.3 1220.3L1057.0 1221.8L1057.7 1226.0L1058.4 1225.5L1059.1 1228.8L1059.8 1231.2L1060.5 1231.4L1061.2 1235.9L1061.9 1235.7L1062.6 1236.3L1063.3 1238.9L1064.0 1240.7L1064.7 1242.7L1065.4 1245.7L1066.1 1245.8L1066.8 1250.3L1067.5 1252.8L1068.2 1251.9L1068.9 1256.5L1069.6 1258.4L1070.3 1260.7L1071.0 1262.0L1071.7 1262.5L1072.4 1265.5L1073.1 1268.3L1073.8 1270.6L1074.5 1270.8L1075.2 1272.2L1075.9 1274.9L1076.6 1277.2L1077.3 1277.8L1078.0 1279.6L1078.7 1280.1L1079.4 1281.6L1080.1 1284.7L1080.8 1287.4L1081.5 1288.3L1082.2 1289.7L1082.9 1291.9L1083.6 1294.9L1084.3 1296.6L1085.0 1298.2L1085.7 1300.7L1086.4 1301.8L1087.1 1305.0L1087.8 1305.8L1088.5 1308.7L1089.2 1310.0L1089.9 1310.9L1090.6 1313.1L1091.3 1314.3L1092.0 1317.3L1092.7 1318.0L1093.4 1321.3L1094.1 1322.3L1094.8 1324.0L1095.5 1326.1L1096.2 1328.9L1096.9 1330.3L1097.6 1333.0L1098.3 1334.9L1099.0 1336.3L1099.7 1338.7L1100.4 1340.5L1101.1 1343.5L1101.8 1344.8L1102.5 1347.0L1103.2 1349.7L1103.9 1351.7L1104.6 1353.1L1105.3 1356.1L1106.0 1357.8L1106.7 1359.8L1107.4 1361.4L1108.1 1363.4L1108.8 1365.9L1109.5 1367.6L1110.2 1369.8L1110.9 1371.4L1111.6 1373.6L1112.3 1375.9L1113.0 1378.1L1113.7 1380.1L1114.4 1381.5L1115.1 1384.0L1115.8 1386.1L1116.5 1388.3L1117.2 1389.8L1117.9 1392.2L1118.6 1393.4L1119.3 1396.0L1120.0 1397.6L1120.7 1399.5L1121.4 1402.1L1122.1 1404.0L1122.8 1406.1L1123.5 1408.6L1124.2 1410.5L1124.9 1412.8L1125.6 1415.1L1126.3 1417.5L1127.0 1420.1L1127.7 1421.5L1128.4 1423.9L1129.1 1426.4L1129.8 1428.2L1130.5 1430.8L1131.2 1432.3L1131.9 1434.3L1132.6 1436.3L1133.3 1438.8L1134.0 1440.2L1134.7 1442.6L1135.4 1444.1L1136.1 1446.6L1136.8 1448.3L1137.5 1450.5L1138.2 1452.7L1138.9 1454.6L1139.6 1456.0L1140.3 1458.0L1141.0 1459.8L1141.7 1462.5L1142.4 1463.7L1143.1 1465.7L1143.8 1468.6L1144.5 1469.8L1145.2 1472.0L1145.9 1473.9L1146.6 1476.7L1147.3 1478.3L1148.0 1480.7L1148.7 1482.3L1149.4 1484.2L1150.1 1485.9L1150.8 1487.6L1151.5 1489.9L1152.2 1491.2L1152.9 1492.9L1153.6 1495.1L1154.3 1496.6L1155.0 1498.4L1155.7 1500.8L1156.4 1502.5L1157.1 1503.7L1157.8 1506.3L1158.5 1508.1L1159.2 1510.0L1159.9 1511.5L1160.6 1513.2L1161.3 1515.4L1162.0 1517.4L1162.7 1519.1L1163.4 1521.0L1164.1 1522.1L1164.8 1523.8L1165.5 1526.2L1166.2 1527.6L1166.9 1529.8L1167.6 1531.3L1168.3 1533.3L1169.0 1534.7L1169.7 1536.4L1170.4 1538.2L1171.1 1540.3L1171.8 1542.1L1172.5 1543.1L1173.2 1545.2L1173.9 1547.2L1174.6 1548.7L1175.3 1549.5L1176.0 1551.4L1176.7 1553.2L1177.4 1554.5L1178.1 1555.8L1178.8 1557.0L1179.5 1558.2L1180.2 1560.0L1180.9 1561.6L1181.6 1563.0L1182.3 1564.2L1183.0 1566.3L1183.7 1567.4L1184.4 1568.8L1185.1 1570.9L1185.8 1572.4L1186.5 1574.1L1187.2 1575.2L1187.9 1576.8L1188.6 1578.1L1189.3 1579.5L1190.0 1581.0L1190.7 1583.3L1191.4 1584.7L1192.1 1585.9L1192.8 1586.8L1193.5 1588.4L1194.2 1590.3L1194.9 1591.0L1195.6 1593.0L1196.3 1593.9L1197.0 1595.9L1197.7 1596.9L1198.4 1598.8L1199.1 1600.0L1199.8 1601.2L1200.5 1602.9L1201.2 1603.7L1201.9 1605.0L1202.6 1606.6L1203.3 1608.1L1204.0 1609.4L1204.7 1610.9L1205.4 1611.5L1206.1 1612.8L1206.8 1614.0L1207.5 1615.0L1208.2 1616.3L1208.9 1617.4L1209.6 1618.5L1210.3 1620.4L1211.0 1621.0L1211.7 1622.3L1212.4 1623.9L1213.1 1625.0L1213.8 1626.1L1214.5 1627.1L1215.2 1628.0L1215.9 1629.3L1216.6 1630.5L1217.3 1631.5L1218.0 1632.1L1218.7 1633.5L1219.4 1634.1L1220.1 1634.9L1220.8 1636.3L1221.5 1637.7L1222.2 1638.1L1222.9 1639.2L1223.6 1640.9L1224.3 1641.8L1225.0 1642.4L1225.7 1643.7L1226.4 1644.2L1227.1 1645.6L1227.8 1646.6L1228.5 1647.7L1229.2 1647.9L1229.9 1648.8L1230.6 1649.7L1231.3 1651.0L1232.0 1651.9L1232.7 1652.8L1233.4 1653.1L1234.1 1654.2L1234.8 1655.1L1235.5 1656.2L1236.2 1656.8L1236.9 1658.1L1237.6 1658.8L1238.3 1660.4L1239.0 1660.5L1239.7 1662.2L1240.4 1662.6L1241.1 1663.6L1241.8 1664.7L1242.5 1665.3L1243.2 1665.8L1243.9 1667.2L1244.6 1667.7L1245.3 1668.6L1246.0 1669.4L1246.7 1669.9L1247.4 1670.5L1248.1 1671.6L1248.8 1671.6L1249.5 1672.5L1250.2 1673.1L1250.9 1673.8L1251.6 1674.3L1252.3 1674.8L1253.0 1675.5L1253.7 1676.3L1254.4 1677.1L1255.1 1677.6L1255.8 1678.1L1256.5 1679.0L1257.2 1679.2L1257.9 1680.1L1258.6 1680.2L1259.3 1681.0L1260.0 1681.1L1260.7 1682.1L1261.4 1682.6L1262.1 1683.2L1262.8 1684.0L1263.5 1684.4L1264.2 1684.2L1264.9 1685.4L1265.6 1685.5L1266.3 1686.3L1267.0 1686.5L1267.7 1687.4L1268.4 1687.8L1269.1 1688.5L1269.8 1688.7L1270.5 1688.9L1271.2 1690.2L1271.9 1690.3L1272.6 1690.6L1273.3 1691.6L1274.0 1692.2L1274.7 1692.6L1275.4 1693.1L1276.1 1693.8L1276.8 1694.3L1277.5 1694.4L1278.2 1695.6L1278.9 1695.4L1279.6 1695.8L1280.3 1696.4L1281.0 1696.4L1281.7 1696.7L1282.4 1697.2L1283.1 1697.3L1283.8 1698.0L1284.5 1698.3L1285.2 1699.0L1285.9 1699.3L1286.6 1699.3L1287.3 1699.7L1288.0 1700.5L1288.7 1700.9L1289.4 1700.7L1290.1 1701.5L1290.8 1702.1L1291.5 1702.5L1292.2 1702.7L1292.9 1702.5L1293.6 1702.9L1294.3 1703.2L1295.0 1703.5L1295.7 1703.8L1296.4 1704.8L1297.1 1704.3L1297.8 1705.4L1298.5 1705.1L1299.2 1706.2L1299.9 1706.4L1300.6 1706.6L1301.3 1707.1L1302.0 1707.3L1302.7 1707.5L1303.4 1708.2L1304.1 1708.1L1304.8 1708.7L1305.5 1709.4L1306.2 1709.7L1306.9 1709.2L1307.6 1709.8L1308.3 1709.9L1309.0 1710.8L1309.7 1710.6L1310.4 1711.3L1311.1 1711.0L1311.8 1711.3L1312.5 1711.8L1313.2 1711.7L1313.9 1712.5L1314.6 1712.0L1315.3 1712.4L1316.0 1712.7L1316.7 1712.8L1317.4 1712.7L1318.1 1712.9L1318.8 1713.5L1319.5 1713.3L1320.2 1713.5L1320.9 1714.5L1321.6 1714.5L1322.3 1715.1L1323.0 1714.8L1323.7 1715.6L1324.4 1715.8L1325.1 1715.7L1325.8 1715.8L1326.5 1716.0L1327.2 1716.0L1327.9 1716.6L1328.6 1716.7L1329.3 1716.8L1330.0 1716.7L1330.7 1717.3L1331.4 1717.1L1332.1 1717.1L1332.8 1717.1L1333.5 1717.3L1334.2 1717.7L1334.9 1718.2L1335.6 1718.1L1336.3 1718.0L1337.0 1718.6L1337.7 1719.0L1338.4 1719.3L1339.1 1719.4L1339.8 1719.7L1340.5 1719.4L1341.2 1719.7L1341.9 1720.5L1342.6 1720.6L1343.3 1720.4L1344.0 1720.7L1344.7 1720.9L1345.4 1721.2L1346.1 1721.1L1346.8 1721.3L1347.5 1721.5L1348.2 1721.6L1348.9 1721.7L1349.6 1721.3L1350.3 1721.2L1351.0 1721.6L1351.7 1722.1L1352.4 1722.0L1353.1 1722.4L1353.8 1721.9L1354.5 1722.1L1355.2 1722.0L1355.9 1722.3L1356.6 1722.1L1357.3 1722.6L1358.0 1722.8L1358.7 1722.8L1359.4 1722.9L1360.1 1723.0L1360.8 1723.1L1361.5 1722.8L1362.2 1722.7L1362.9 1722.9L1363.6 1722.9L1364.3 1722.9L1365.0 1723.8L1365.7 1723.2L1366.4 1723.1L1367.1 1724.0L1367.8 1723.8L1368.5 1723.5L1369.2 1724.3L1369.9 1724.5L1370.6 1724.4L1371.3 1724.2L1372.0 1724.6L1372.7 1724.5L1373.4 1724.9L1374.1 1724.5L1374.8 1724.8L1375.5 1724.4L1376.2 1724.3L1376.9 1724.1L1377.6 1723.8L1378.3 1724.0L1379.0 1724.6L1379.7 1723.9L1380.4 1724.1L1381.1 1723.8L1381.8 1724.1L1382.5 1724.6L1383.2 1724.5L1383.9 1724.9L1384.6 1725.0L1385.3 1725.0L1386.0 1725.4L1386.7 1725.6L1387.4 1725.1L1388.1 1725.4L1388.8 1725.5L1389.5 1725.6L1390.2 1726.2L1390.9 1726.2L1391.6 1725.8L1392.3 1726.2L1393.0 1726.4L1393.7 1726.5L1394.4 1726.6L1395.1 1726.7L1395.8 1726.2L1396.5 1726.5L1397.2 1726.1L1397.9 1726.6L1398.6 1726.4L1399.3 1726.8L1400.0 1726.7L1400.7 1726.3L1401.4 1726.6L1402.1 1726.4L1402.8 1726.5L1403.5 1726.6L1404.2 1726.5L1404.9 1726.7L1405.6 1726.0L1406.3 1726.1L1407.0 1726.0L1407.7 1726.5L1408.4 1726.7L1409.1 1726.5L1409.8 1726.8L1410.5 1726.0L1411.2 1726.3L1411.9 1726.5L1412.6 1726.7L1413.3 1727.0L1414.0 1726.1L1414.7 1726.3L1415.4 1726.8L1416.1 1726.4L1416.8 1726.7L1417.5 1726.4L1418.2 1726.9L1418.9 1726.9L1419.6 1726.9L1420.3 1727.6L1421.0 1727.0L1421.7 1727.6L1422.4 1727.7L1423.1 1727.5L1423.8 1727.8L1424.5 1727.8L1425.2 1728.3L1425.9 1728.1L1426.6 1728.5L1427.3 1728.5L1428.0 1728.3L1428.7 1728.2L1429.4 1728.1L1430.1 1728.2L1430.8 1728.2L1431.5 1728.8L1432.2 1728.8L1432.9 1728.5L1433.6 1728.8L1434.3 1728.9L1435.0 1728.9L1435.7 1728.2L1436.4 1728.7L1437.1 1728.4L1437.8 1728.2L1438.5 1728.3L1439.2 1728.8L1439.9 1728.8L1440.6 1729.0L1441.3 1728.8L1442.0 1729.1L1442.7 1729.3L1443.4 1729.6L1444.1 1729.4L1444.8 1729.6L1445.5 1729.4L1446.2 1729.6L1446.9 1729.5L1447.6 1729.8L1448.3 1729.3L1449.0 1729.7L1449.7 1730.1L1450.4 1730.1L1451.1 1730.3L1451.8 1730.0L1452.5 1730.2L1453.2 1730.2L1453.9 1729.9L1454.6 1730.6L1455.3 1730.3L1456.0 1730.4L1456.7 1729.9L1457.4 1730.5L1458.1 1730.4L1458.8 1730.1L1459.5 1730.3L1460.2 1730.1L1460.9 1730.3L1461.6 1729.8L1462.3 1729.7L1463.0 1730.0L1463.7 1730.3L1464.4 1729.8L1465.1 1729.6L1465.8 1730.2L1466.5 1730.0L1467.2 1729.7L1467.9 1730.3L1468.6 1730.1L1469.3 1729.9L1470.0 1730.0L1470.7 1730.5L1471.4 1729.9L1472.1 1729.9L1472.8 1730.1L1473.5 1730.6L1474.2 1731.0L1474.9 1730.5L1475.6 1730.9L1476.3 1730.9L1477.0 1731.4L1477.7 1731.0L1478.4 1730.9L1479.1 1731.0L1479.8 1731.6L1480.5 1731.5L1481.2 1731.2L1481.9 1731.3L1482.6 1731.5L1483.3 1731.2L1484.0 1731.4L1484.7 1730.9L1485.4 1731.1L1486.1 1731.6L1486.8 1730.9L1487.5 1731.5L1488.2 1731.4L1488.9 1730.9L1489.6 1731.6L1490.3 1731.7L1491.0 1731.1L1491.7 1731.3L1492.4 1731.8L1493.1 1732.0L1493.8 1731.7L1494.5 1732.1L1495.2 1731.8L1495.9 1731.5L1496.6 1731.3L1497.3 1732.2L1498.0 1731.3L1498.7 1731.9L1499.4 1732.0L1500.1 1732.0L1500.8 1731.7L1501.5 1731.7L1502.2 1731.1L1502.9 1731.9L1503.6 1731.2L1504.3 1731.6L1505.0 1731.8L1505.7 1731.8L1506.4 1731.4L1507.1 1731.8L1507.8 1731.6L1508.5 1732.2L1509.2 1732.1L1509.9 1731.4L1510.6 1732.1L1511.3 1732.2L1512.0 1731.4L1512.7 1731.9L1513.4 1731.7L1514.1 1731.7L1514.8 1731.9L1515.5 1732.0L1516.2 1731.8L1516.9 1731.4L1517.6 1731.6L1518.3 1731.1L1519.0 1731.0L1519.7 1731.7L1520.4 1731.5L1521.1 1731.2L1521.8 1731.2L1522.5 1730.7L1523.2 1731.1L1523.9 1731.4L1524.6 1730.9L1525.3 1731.2L1526.0 1731.1L1526.7 1730.9L1527.4 1730.9L1528.1 1731.0L1528.8 1731.0L1529.5 1731.0L1530.0 1731.0" fill="none" stroke="#ff4040" stroke-width="12.5" stroke-linejoin="bevel" stroke-linecap="butt" shape-rendering="crispEdges"/>
<path d="M168.0 1716.7L168.7 1716.7L169.4 1716.7L170.1 1716.7L170.8 1716.3L171.5 1715.9L172.2 1715.8L172.9 1715.4L173.6 1715.7L174.3 1716.0L175.0 1716.2L175.7 1716.4L176.4 1716.1L177.1 1715.9L177.8 1716.1L178.5 1716.8L179.2 1716.2L179.9 1716.4L180.6 1716.9L181.3 1716.0L182.0 1716.6L182.7 1716.9L183.4 1716.1L184.1 1716.4L184.8 1716.7L185.5 1715.9L186.2 1716.3L186.9 1716.4L187.6 1716.3L188.3 1716.1L189.0 1715.9L189.7 1716.2L190.4 1716.1L191.1 1716.3L191.8 1716.3L192.5 1716.9L193.2 1717.0L193.9 1716.7L194.6 1717.1L195.3 1717.0L196.0 1717.3L196.7 1717.3L197.4 1717.7L198.1 1717.4L198.8 1717.5L199.5 1717.8L200.2 1717.4L200.9 1717.8L201.6 1716.9L202.3 1717.4L203.0 1716.9L203.7 1716.8L204.4 1716.8L205.1 1716.6L205.8 1716.4L206.5 1715.9L207.2 1716.0L207.9 1716.5L208.6 1716.3L209.3 1716.4L210.0 1716.7L210.7 1716.4L211.4 1715.7L212.1 1715.9L212.8 1716.2L213.5 1715.8L214.2 1716.5L214.9 1716.5L215.6 1716.5L216.3 1716.1L217.0 1716.6L217.7 1716.0L218.4 1716.3L219.1 1716.6L219.8 1717.0L220.5 1716.9L221.2 1716.6L221.9 1717.0L222.6 1717.0L223.3 1717.1L224.0 1717.0L224.7 1717.3L225.4 1717.3L226.1 1717.6L226.8 1717.6L227.5 1717.2L228.2 1717.1L228.9 1717.3L229.6 1717.3L230.3 1717.0L231.0 1717.0L231.7 1717.1L232.4 1716.1L233.1 1716.8L233.8 1716.2L234.5 1716.3L235.2 1716.6L235.9 1716.5L236.6 1716.0L237.3 1716.5L238.0 1715.9L238.7 1716.2L239.4 1716.7L240.1 1716.4L240.8 1716.6L241.5 1716.7L242.2 1716.9L242.9 1716.8L243.6 1716.1L244.3 1716.5L245.0 1716.5L245.7 1716.1L246.4 1716.6L247.1 1716.7L247.8 1716.9L248.5 1717.0L249.2 1716.2L249.9 1716.4L250.6 1716.8L251.3 1716.3L252.0 1716.5L252.7 1716.8L253.4 1716.5L254.1 1717.1L254.8 1717.2L255.5 1716.4L256.2 1716.9L256.9 1717.1L257.6 1717.2L258.3 1716.5L259.0 1716.3L259.7 1716.9L260.4 1716.9L261.1 1716.1L261.8 1716.3L262.5 1716.5L263.2 1716.6L263.9 1715.9L264.6 1716.5L265.3 1716.6L266.0 1716.4L266.7 1716.1L267.4 1716.1L268.1 1716.4L268.8 1717.0L269.5 1716.2L270.2 1716.2L270.9 1716.6L271.6 1716.3L272.3 1716.3L273.0 1716.2L273.7 1716.7L274.4 1716.8L275.1 1716.6L275.8 1716.3L276.5 1716.5L277.2 1716.8L277.9 1717.2L278.6 1717.3L279.3 1716.5L280.0 1716.4L280.7 1717.2L281.4 1717.3L282.1 1716.9L282.8 1717.2L283.5 1717.2L284.2 1717.0L284.9 1717.2L285.6 1716.3L286.3 1716.5L287.0 1716.4L287.7 1716.2L288.4 1716.9L289.1 1716.0L289.8 1716.5L290.5 1715.8L291.2 1715.9L291.9 1715.8L292.6 1715.4L293.3 1715.6L294.0 1715.5L294.7 1715.1L295.4 1715.3L296.1 1714.6L296.8 1714.5L297.5 1714.6L298.2 1714.5L298.9 1714.3L299.6 1715.0L300.3 1714.9L301.0 1714.2L301.7 1714.5L302.4 1714.4L303.1 1714.7L303.8 1714.6L304.5 1715.0L305.2 1715.5L305.9 1715.1L306.6 1715.5L307.3 1715.5L308.0 1715.8L308.7 1715.2L309.4 1715.9L310.1 1716.1L310.8 1715.8L311.5 1715.5L312.2 1715.8L312.9 1715.8L313.6 1715.6L314.3 1715.0L315.0 1715.7L315.7 1715.6L316.4 1714.9L317.1 1715.0L317.8 1714.3L318.5 1715.2L319.2 1714.9L319.9 1714.7L320.6 1714.8L321.3 1714.2L322.0 1714.3L322.7 1714.2L323.4 1714.5L324.1 1714.0L324.8 1714.9L325.5 1714.4L326.2 1714.4L326.9 1714.1L327.6 1714.7L328.3 1714.8L329.0 1714.6L329.7 1714.2L330.4 1714.7L331.1 1714.0L331.8 1714.6L332.5 1714.3L333.2 1714.0L333.9 1714.1L334.6 1714.1L335.3 1713.7L336.0 1714.2L336.7 1713.7L337.4 1714.0L338.1 1713.9L338.8 1713.0L339.5 1713.5L340.2 1713.1L340.9 1713.4L341.6 1713.1L342.3 1712.9L343.0 1713.3L343.7 1712.5L344.4 1713.0L345.1 1712.7L345.8 1712.5L346.5 1713.3L347.2 1713.2L347.9 1713.6L348.6 1713.4L349.3 1713.2L350.0 1713.9L350.7 1713.1L351.4 1713.1L352.1 1713.8L352.8 1713.5L353.5 1713.4L354.2 1713.9L354.9 1713.3L355.6 1713.8L356.3 1713.5L357.0 1713.1L357.7 1712.7L358.4 1712.8L359.1 1713.4L359.8 1712.8L360.5 1712.4L361.2 1712.5L361.9 1713.0L362.6 1712.2L363.3 1712.7L364.0 1712.0L364.7 1712.8L365.4 1712.3L366.1 1711.7L366.8 1712.5L367.5 1711.8L368.2 1712.1L368.9 1711.8L369.6 1711.3L370.3 1711.3L371.0 1711.3L371.7 1711.2L372.4 1711.1L373.1 1711.0L373.8 1711.9L374.5 1711.0L375.2 1711.3L375.9 1710.9L376.6 1710.9L377.3 1711.4L378.0 1711.4L378.7 1710.9L379.4 1710.3L380.1 1711.2L380.8 1710.2L381.5 1710.4L382.2 1710.5L382.9 1710.8L383.6 1710.6L384.3 1710.4L385.0 1710.1L385.7 1710.4L386.4 1710.3L387.1 1710.2L387.8 1709.9L388.5 1709.1L389.2 1709.2L389.9 1709.2L390.6 1709.1L391.3 1709.3L392.0 1708.6L392.7 1709.0L393.4 1708.6L394.1 1709.0L394.8 1708.3L395.5 1708.6L396.2 1708.2L396.9 1708.3L397.6 1708.9L398.3 1708.3L399.0 1708.8L399.7 1708.4L400.4 1707.9L401.1 1708.6L401.8 1707.8L402.5 1708.5L403.2 1707.7L403.9 1708.3L404.6 1707.7L405.3 1707.9L406.0 1708.4L406.7 1707.9L407.4 1708.1L408.1 1708.1L408.8 1707.5L409.5 1708.2L410.2 1708.3L410.9 1707.5L411.6 1707.9L412.3 1707.6L413.0 1708.1L413.7 1707.3L414.4 1707.8L415.1 1708.0L415.8 1707.9L416.5 1707.3L417.2 1707.9L417.9 1707.2L418.6 1707.6L419.3 1707.1L420.0 1706.6L420.7 1707.0L421.4 1706.8L422.1 1706.5L422.8 1706.5L423.5 1705.6L424.2 1705.4L424.9 1705.0L425.6 1705.2L426.3 1704.9L427.0 1704.7L427.7 1704.7L428.4 1704.4L429.1 1704.1L429.8 1704.5L430.5 1704.2L431.2 1704.4L431.9 1704.8L432.6 1704.1L433.3 1704.5L434.0 1704.4L434.7 1704.0L435.4 1704.1L436.1 1704.5L436.8 1703.8L437.5 1704.0L438.2 1704.0L438.9 1703.4L439.6 1703.9L440.3 1703.5L441.0 1703.2L441.7 1703.4L442.4 1703.0L443.1 1703.2L443.8 1702.7L444.5 1703.3L445.2 1702.8L445.9 1702.4L446.6 1702.5L447.3 1702.9L448.0 1702.7L448.7 1702.3L449.4 1702.1L450.1 1702.0L450.8 1702.6L451.5 1701.6L452.2 1702.3L452.9 1702.2L453.6 1701.5L454.3 1701.5L455.0 1701.7L455.7 1701.8L456.4 1701.8L457.1 1701.8L457.8 1701.0L458.5 1700.8L459.2 1701.0L459.9 1700.9L460.6 1700.9L461.3 1700.2L462.0 1700.7L462.7 1700.8L463.4 1700.7L464.1 1700.6L464.8 1700.5L465.5 1700.4L466.2 1699.4L466.9 1700.1L467.6 1699.4L468.3 1699.3L469.0 1699.3L469.7 1699.7L470.4 1699.2L471.1 1698.8L471.8 1698.7L472.5 1699.1L473.2 1698.9L473.9 1698.0L474.6 1698.0L475.3 1697.9L476.0 1697.5L476.7 1697.6L477.4 1697.0L478.1 1697.1L478.8 1697.1L479.5 1696.8L480.2 1695.7L480.9 1695.6L481.6 1695.5L482.3 1695.5L483.0 1695.0L483.7 1694.7L484.4 1694.6L485.1 1694.3L485.8 1694.8L486.5 1694.5L487.2 1694.0L487.9 1694.2L488.6 1693.9L489.3 1693.8L490.0 1693.6L490.7 1693.6L491.4 1694.0L492.1 1693.7L492.8 1693.6L493.5 1692.8L494.2 1693.0L494.9 1692.8L495.6 1692.3L496.3 1692.5L497.0 1692.0L497.7 1692.0L498.4 1692.3L499.1 1692.0L499.8 1691.8L500.5 1691.0L501.2 1690.8L501.9 1690.5L502.6 1690.3L503.3 1690.1L504.0 1690.7L504.7 1690.5L505.4 1689.6L506.1 1689.4L506.8 1689.9L507.5 1689.3L508.2 1688.9L508.9 1688.8L509.6 1688.4L510.3 1688.5L511.0 1688.3L511.7 1687.9L512.4 1687.9L513.1 1686.9L513.8 1687.2L514.5 1687.3L515.2 1686.2L515.9 1686.3L516.6 1686.2L517.3 1685.7L518.0 1686.1L518.7 1685.5L519.4 1685.3L520.1 1685.6L520.8 1684.5L521.5 1685.2L522.2 1684.3L522.9 1684.3L523.6 1684.3L524.3 1684.1L525.0 1683.4L525.7 1683.5L526.4 1683.4L527.1 1683.8L527.8 1683.6L528.5 1683.1L529.2 1683.2L529.9 1683.0L530.6 1682.4L531.3 1681.9L532.0 1682.2L532.7 1681.8L533.4 1681.3L534.1 1682.0L534.8 1681.8L535.5 1681.1L536.2 1681.0L536.9 1680.8L537.6 1680.8L538.3 1680.0L539.0 1679.9L539.7 1679.3L540.4 1679.0L541.1 1679.1L541.8 1678.6L542.5 1678.2L543.2 1678.3L543.9 1678.5L544.6 1677.8L545.3 1678.2L546.0 1677.8L546.7 1677.5L547.4 1677.5L548.1 1676.3L548.8 1676.1L549.5 1676.5L550.2 1676.1L550.9 1674.8L551.6 1675.1L552.3 1673.9L553.0 1673.6L553.7 1673.2L554.4 1673.0L555.1 1672.7L555.8 1672.9L556.5 1672.2L557.2 1671.6L557.9 1671.5L558.6 1671.0L559.3 1670.8L560.0 1671.0L560.7 1670.8L561.4 1670.3L562.1 1670.2L562.8 1669.7L563.5 1670.1L564.2 1669.5L564.9 1669.1L565.6 1669.1L566.3 1668.6L567.0 1668.4L567.7 1667.9L568.4 1668.2L569.1 1667.4L569.8 1667.6L570.5 1666.7L571.2 1666.0L571.9 1666.1L572.6 1665.7L573.3 1665.4L574.0 1664.1L574.7 1664.3L575.4 1663.9L576.1 1662.9L576.8 1662.6L577.5 1662.3L578.2 1661.5L578.9 1661.7L579.6 1661.1L580.3 1660.8L581.0 1659.9L581.7 1659.5L582.4 1658.7L583.1 1658.4L583.8 1658.4L584.5 1658.3L585.2 1657.1L585.9 1656.7L586.6 1656.4L587.3 1656.5L588.0 1656.6L588.7 1655.8L589.4 1655.8L590.1 1655.6L590.8 1655.6L591.5 1654.7L592.2 1654.2L592.9 1654.3L593.6 1653.7L594.3 1653.2L595.0 1653.2L595.7 1652.6L596.4 1651.5L597.1 1651.4L597.8 1651.1L598.5 1650.7L599.2 1649.3L599.9 1649.6L600.6 1648.4L601.3 1648.6L602.0 1648.1L602.7 1648.0L603.4 1647.3L604.1 1646.4L604.8 1646.6L605.5 1645.8L606.2 1646.0L606.9 1644.8L607.6 1644.8L608.3 1644.7L609.0 1643.8L609.7 1643.9L610.4 1643.5L611.1 1643.1L611.8 1642.7L612.5 1641.7L613.2 1640.9L613.9 1640.4L614.6 1640.0L615.3 1639.0L616.0 1639.1L616.7 1637.8L617.4 1637.2L618.1 1637.5L618.8 1636.8L619.5 1635.6L620.2 1635.1L620.9 1635.1L621.6 1634.3L622.3 1633.4L623.0 1633.0L623.7 1632.9L624.4 1631.5L625.1 1631.9L625.8 1630.9L626.5 1630.0L627.2 1630.1L627.9 1628.9L628.6 1628.8L629.3 1628.5L630.0 1627.7L630.7 1627.9L631.4 1627.3L632.1 1626.3L632.8 1625.8L633.5 1625.2L634.2 1625.2L634.9 1624.3L635.6 1624.0L636.3 1623.7L637.0 1623.1L637.7 1621.7L638.4 1621.3L639.1 1620.8L639.8 1620.2L640.5 1619.7L641.2 1619.2L641.9 1619.0L642.6 1618.1L643.3 1617.7L644.0 1617.3L644.7 1616.7L645.4 1616.8L646.1 1616.1L646.8 1616.2L647.5 1615.6L648.2 1614.5L648.9 1613.9L649.6 1613.8L650.3 1612.9L651.0 1611.7L651.7 1611.6L652.4 1610.6L653.1 1610.3L653.8 1609.6L654.5 1609.0L655.2 1608.1L655.9 1607.7L656.6 1606.5L657.3 1605.9L658.0 1605.0L658.7 1605.3L659.4 1604.0L660.1 1603.8L660.8 1603.2L661.5 1603.0L662.2 1602.0L662.9 1601.2L663.6 1600.9L664.3 1600.0L665.0 1599.7L665.7 1599.5L666.4 1598.4L667.1 1598.8L667.8 1597.8L668.5 1596.9L669.2 1596.9L669.9 1595.5L670.6 1595.0L671.3 1595.0L672.0 1593.5L672.7 1593.3L673.4 1591.8L674.1 1591.5L674.8 1590.8L675.5 1589.5L676.2 1588.8L676.9 1588.1L677.6 1587.2L678.3 1585.9L679.0 1585.2L679.7 1584.9L680.4 1583.3L681.1 1582.8L681.8 1581.3L682.5 1580.6L683.2 1579.8L683.9 1579.0L684.6 1578.3L685.3 1577.5L686.0 1576.6L686.7 1575.9L687.4 1575.2L688.1 1573.9L688.8 1573.6L689.5 1572.5L690.2 1571.4L690.9 1570.5L691.6 1570.3L692.3 1569.4L693.0 1568.1L693.7 1567.8L694.4 1566.5L695.1 1566.2L695.8 1565.6L696.5 1564.9L697.2 1563.7L697.9 1562.8L698.6 1562.6L699.3 1562.0L700.0 1561.1L700.7 1559.8L701.4 1559.1L702.1 1558.2L702.8 1557.4L703.5 1556.0L704.2 1555.4L704.9 1553.8L705.6 1552.7L706.3 1551.8L707.0 1551.3L707.7 1550.5L708.4 1549.1L709.1 1548.4L709.8 1546.9L710.5 1546.4L711.2 1545.5L711.9 1544.6L712.6 1543.5L713.3 1543.1L714.0 1542.4L714.7 1541.5L715.4 1540.8L716.1 1539.6L716.8 1539.2L717.5 1538.0L718.2 1537.4L718.9 1536.0L719.6 1535.3L720.3 1533.8L721.0 1532.7L721.7 1532.6L722.4 1531.0L723.1 1529.7L723.8 1529.3L724.5 1528.7L725.2 1527.5L725.9 1526.7L726.6 1525.7L727.3 1524.2L728.0 1523.0L728.7 1521.8L729.4 1521.1L730.1 1520.5L730.8 1519.8L731.5 1517.9L732.2 1517.8L732.9 1516.8L733.6 1515.8L734.3 1514.3L735.0 1513.3L735.7 1513.1L736.4 1512.1L737.1 1510.9L737.8 1510.0L738.5 1508.7L739.2 1508.9L739.9 1507.7L740.6 1506.9L741.3 1505.8L742.0 1504.4L742.7 1503.8L743.4 1502.0L744.1 1501.5L744.8 1499.9L745.5 1499.0L746.2 1498.5L746.9 1496.8L747.6 1496.3L748.3 1494.8L749.0 1493.4L749.7 1492.2L750.4 1490.8L751.1 1490.4L751.8 1489.6L752.5 1487.8L753.2 1486.9L753.9 1486.4L754.6 1484.4L755.3 1483.9L756.0 1482.5L756.7 1480.8L757.4 1479.6L758.1 1477.6L758.8 1476.8L759.5 1475.7L760.2 1473.7L760.9 1472.1L761.6 1470.7L762.3 1469.6L763.0 1468.4L763.7 1467.9L764.4 1466.2L765.1 1465.1L765.8 1463.6L766.5 1462.5L767.2 1461.7L767.9 1460.9L768.6 1459.1L769.3 1458.4L770.0 1457.6L770.7 1457.0L771.4 1455.0L772.1 1454.0L772.8 1453.2L773.5 1451.4L774.2 1450.9L774.9 1450.3L775.6 1448.1L776.3 1447.2L777.0 1445.4L777.7 1444.9L778.4 1444.4L779.1 1442.5L779.8 1440.7L780.5 1439.6L781.2 1438.9L781.9 1438.1L782.6 1436.2L783.3 1435.0L784.0 1434.3L784.7 1431.9L785.4 1432.1L786.1 1430.0L786.8 1428.5L787.5 1428.0L788.2 1425.7L788.9 1424.1L789.6 1422.9L790.3 1422.2L791.0 1419.7L791.7 1418.9L792.4 1417.0L793.1 1416.2L793.8 1414.0L794.5 1414.0L795.2 1413.1L795.9 1410.6L796.6 1409.5L797.3 1409.0L798.0 1408.2L798.7 1405.6L799.4 1405.9L800.1 1405.1L800.8 1403.9L801.5 1401.9L802.2 1401.7L802.9 1399.9L803.6 1397.9L804.3 1397.0L805.0 1396.7L805.7 1395.6L806.4 1395.1L807.1 1393.9L807.8 1391.4L808.5 1390.8L809.2 1390.6L809.9 1388.4L810.6 1386.3L811.3 1386.9L812.0 1383.9L812.7 1381.9L813.4 1380.9L814.1 1378.6L814.8 1376.8L815.5 1376.4L816.2 1375.2L816.9 1372.4L817.6 1370.0L818.3 1369.5L819.0 1367.8L819.7 1366.4L820.4 1364.3L821.1 1364.6L821.8 1361.1L822.5 1359.0L823.2 1359.9L823.9 1358.6L824.6 1355.2L825.3 1353.5L826.0 1353.7L826.7 1353.7L827.4 1349.7L828.1 1349.6L828.8 1347.3L829.5 1348.1L830.2 1345.7L830.9 1344.1L831.6 1344.1L832.3 1342.3L833.0 1339.4L833.7 1338.9L834.4 1340.0L835.1 1337.8L835.8 1334.7L836.5 1333.9L837.2 1329.6L837.9 1329.4L838.6 1330.3L839.3 1325.0L840.0 1327.8L840.7 1325.7L841.4 1323.4L842.1 1320.3L842.8 1317.3L843.5 1317.2L844.2 1318.8L844.9 1315.6L845.6 1316.8L846.3 1311.9L847.0 1314.7L847.7 1313.7L848.4 1311.6L849.1 1306.8L849.8 1305.6L850.5 1303.0L851.2 1301.5L851.9 1305.1L852.6 1301.8L853.3 1302.4L854.0 1297.3L854.7 1296.3L855.4 1299.2L856.1 1298.7L856.8 1290.0L857.5 1294.4L858.2 1291.3L858.9 1285.4L859.6 1289.6L860.3 1285.5L861.0 1285.1L861.7 1289.7L862.4 1286.5L863.1 1278.8L863.8 1283.6L864.5 1275.7L865.2 1283.1L865.9 1278.8L866.6 1277.7L867.3 1269.7L868.0 1268.9L868.7 1272.1L869.4 1269.0L870.1 1272.4L870.8 1264.9L871.5 1264.9L872.2 1260.3L872.9 1263.5L873.6 1267.9L874.3 1258.4L875.0 1263.8L875.7 1255.0L876.4 1263.2L877.1 1257.5L877.8 1251.5L878.5 1259.3L879.2 1259.9L879.9 1248.9L880.6 1247.5L881.3 1248.4L882.0 1251.1L882.7 1256.4L883.4 1254.1L884.1 1245.0L884.8 1239.4L885.5 1246.5L886.2 1244.9L886.9 1238.3L887.6 1242.7L888.3 1247.5L889.0 1232.7L889.7 1234.2L890.4 1241.9L891.1 1229.3L891.8 1227.7L892.5 1227.4L893.2 1236.9L893.9 1224.8L894.6 1223.2L895.3 1232.0L896.0 1233.7L896.7 1232.8L897.4 1225.9L898.1 1234.2L898.8 1218.8L899.5 1223.4L900.2 1221.1L900.9 1223.6L901.6 1215.6L902.3 1213.7L903.0 1229.5L903.7 1214.7L904.4 1217.8L905.1 1225.4L905.8 1211.6L906.5 1212.0L907.2 1215.2L907.9 1203.7L908.6 1201.8L909.3 1214.2L910.0 1207.7L910.7 1200.5L911.4 1204.3L912.1 1212.8L912.8 1213.7L913.5 1207.4L914.2 1200.3L914.9 1214.0L915.6 1198.8L916.3 1211.1L917.0 1196.4L917.7 1214.3L918.4 1210.0L919.1 1202.9L919.8 1200.8L920.5 1203.6L921.2 1205.2L921.9 1202.1L922.6 1205.0L923.3 1189.4L924.0 1197.0L924.7 1204.9L925.4 1196.5L926.1 1209.5L926.8 1198.0L927.5 1192.0L928.2 1206.5L928.9 1194.1L929.6 1197.1L930.3 1199.3L931.0 1204.6L931.7 1187.6L932.4 1204.8L933.1 1196.8L933.8 1191.1L934.5 1190.1L935.2 1207.0L935.9 1206.0L936.6 1195.2L937.3 1189.8L938.0 1206.4L938.7 1180.8L939.4 1181.6L940.1 1193.3L940.8 1196.0L941.5 1180.5L942.2 1185.4L942.9 1182.7L943.6 1187.2L944.3 1185.4L945.0 1183.8L945.7 1183.9L946.4 1190.4L947.1 1183.8L947.8 1201.1L948.5 1191.0L949.2 1183.1L949.9 1197.4L950.6 1201.0L951.3 1189.3L952.0 1179.7L952.7 1196.9L953.4 1199.6L954.1 1203.2L954.8 1198.4L955.5 1195.2L956.2 1188.4L956.9 1185.7L957.6 1181.0L958.3 1201.2L959.0 1194.3L959.7 1187.1L960.4 1183.0L961.1 1187.5L961.8 1200.2L962.5 1186.3L963.2 1182.5L963.9 1191.6L964.6 1191.0L965.3 1201.1L966.0 1198.0L966.7 1196.4L967.4 1210.0L968.1 1207.1L968.8 1189.0L969.5 1192.5L970.2 1197.1L970.9 1188.4L971.6 1205.9L972.3 1206.2L973.0 1194.2L973.7 1209.6L974.4 1200.8L975.1 1192.8L975.8 1202.8L976.5 1204.2L977.2 1205.5L977.9 1212.0L978.6 1210.9L979.3 1199.3L980.0 1200.3L980.7 1191.1L981.4 1201.1L982.1 1196.1L982.8 1195.4L983.5 1212.3L984.2 1194.4L984.9 1197.5L985.6 1210.3L986.3 1208.5L987.0 1205.8L987.7 1214.6L988.4 1202.2L989.1 1201.9L989.8 1209.1L990.5 1200.7L991.2 1213.8L991.9 1219.6L992.6 1217.4L993.3 1219.4L994.0 1202.9L994.7 1210.9L995.4 1221.4L996.1 1220.7L996.8 1216.3L997.5 1218.2L998.2 1211.1L998.9 1212.0L999.6 1209.0L1000.3 1226.3L1001.0 1215.4L1001.7 1230.0L1002.4 1212.4L1003.1 1228.6L1003.8 1224.6L1004.5 1216.8L1005.2 1229.4L1005.9 1231.2L1006.6 1232.1L1007.3 1233.1L1008.0 1233.7L1008.7 1236.2L1009.4 1230.5L1010.1 1241.4L1010.8 1234.3L1011.5 1231.8L1012.2 1244.8L1012.9 1234.3L1013.6 1238.0L1014.3 1243.2L1015.0 1245.8L1015.7 1239.4L1016.4 1236.2L1017.1 1245.6L1017.8 1246.8L1018.5 1249.9L1019.2 1244.0L1019.9 1253.1L1020.6 1253.3L1021.3 1255.5L1022.0 1254.9L1022.7 1254.7L1023.4 1254.1L1024.1 1259.2L1024.8 1251.9L1025.5 1258.8L1026.2 1261.6L1026.9 1262.6L1027.6 1255.8L1028.3 1259.4L1029.0 1268.2L1029.7 1267.6L1030.4 1261.5L1031.1 1266.6L1031.8 1271.6L1032.5 1273.2L1033.2 1270.6L1033.9 1267.1L1034.6 1269.6L1035.3 1268.7L1036.0 1271.4L1036.7 1271.5L1037.4 1279.2L1038.1 1280.4L1038.8 1279.2L1039.5 1284.7L1040.2 1279.2L1040.9 1281.2L1041.6 1286.6L1042.3 1287.4L1043.0 1285.5L1043.7 1294.1L1044.4 1293.3L1045.1 1295.0L1045.8 1294.9L1046.5 1298.6L1047.2 1296.1L1047.9 1299.8L1048.6 1304.1L1049.3 1305.5L1050.0 1306.6L1050.7 1304.8L1051.4 1308.3L1052.1 1314.4L1052.8 1315.6L1053.5 1316.2L1054.2 1312.6L1054.9 1314.1L1055.6 1316.4L1056.3 1321.6L1057.0 1319.2L1057.7 1320.6L1058.4 1322.2L1059.1 1326.2L1059.8 1326.4L1060.5 1329.6L1061.2 1326.7L1061.9 1328.1L1062.6 1333.8L1063.3 1331.6L1064.0 1336.3L1064.7 1337.5L1065.4 1337.4L1066.1 1339.5L1066.8 1343.6L1067.5 1342.3L1068.2 1348.3L1068.9 1346.3L1069.6 1348.8L1070.3 1352.7L1071.0 1352.5L1071.7 1358.0L1072.4 1357.8L1073.1 1358.5L1073.8 1360.9L1074.5 1364.4L1075.2 1367.6L1075.9 1367.6L1076.6 1370.2L1077.3 1372.8L1078.0 1375.1L1078.7 1377.3L1079.4 1378.0L1080.1 1380.0L1080.8 1383.2L1081.5 1385.0L1082.2 1385.2L1082.9 1388.3L1083.6 1387.6L1084.3 1390.8L1085.0 1392.4L1085.7 1393.0L1086.4 1394.8L1087.1 1394.8L1087.8 1398.3L1088.5 1399.5L1089.2 1400.9L1089.9 1402.6L1090.6 1403.4L1091.3 1406.6L1092.0 1407.6L1092.7 1409.4L1093.4 1410.0L1094.1 1412.5L1094.8 1413.2L1095.5 1415.8L1096.2 1415.8L1096.9 1417.4L1097.6 1419.0L1098.3 1420.8L1099.0 1423.1L1099.7 1422.9L1100.4 1425.4L1101.1 1426.0L1101.8 1428.1L1102.5 1429.5L1103.2 1430.8L1103.9 1432.9L1104.6 1434.2L1105.3 1435.7L1106.0 1437.9L1106.7 1438.9L1107.4 1441.6L1108.1 1442.1L1108.8 1444.8L1109.5 1445.2L1110.2 1448.0L1110.9 1448.3L1111.6 1449.8L1112.3 1451.6L1113.0 1454.2L1113.7 1455.2L1114.4 1457.0L1115.1 1459.3L1115.8 1460.1L1116.5 1462.6L1117.2 1464.1L1117.9 1465.5L1118.6 1468.2L1119.3 1469.2L1120.0 1470.8L1120.7 1473.0L1121.4 1474.9L1122.1 1475.7L1122.8 1477.3L1123.5 1480.0L1124.2 1481.1L1124.9 1483.0L1125.6 1484.7L1126.3 1487.0L1127.0 1488.3L1127.7 1490.5L1128.4 1492.0L1129.1 1493.3L1129.8 1495.5L1130.5 1497.5L1131.2 1498.7L1131.9 1500.1L1132.6 1501.2L1133.3 1503.5L1134.0 1504.7L1134.7 1506.2L1135.4 1507.9L1136.1 1509.6L1136.8 1511.2L1137.5 1512.8L1138.2 1514.8L1138.9 1516.1L1139.6 1518.0L1140.3 1520.0L1141.0 1522.3L1141.7 1523.5L1142.4 1525.4L1143.1 1527.4L1143.8 1529.0L1144.5 1530.5L1145.2 1532.1L1145.9 1533.7L1146.6 1534.9L1147.3 1536.5L1148.0 1538.1L1148.7 1539.8L1149.4 1542.0L1150.1 1543.6L1150.8 1544.6L1151.5 1547.1L1152.2 1548.3L1152.9 1550.0L1153.6 1551.1L1154.3 1553.4L1155.0 1554.2L1155.7 1555.8L1156.4 1557.6L1157.1 1559.2L1157.8 1560.7L1158.5 1562.7L1159.2 1563.3L1159.9 1565.5L1160.6 1566.7L1161.3 1568.7L1162.0 1570.1L1162.7 1571.7L1163.4 1573.3L1164.1 1574.7L1164.8 1575.6L1165.5 1577.5L1166.2 1579.2L1166.9 1580.6L1167.6 1582.2L1168.3 1583.2L1169.0 1584.2L1169.7 1586.4L1170.4 1587.4L1171.1 1589.3L1171.8 1590.1L1172.5 1591.8L1173.2 1593.4L1173.9 1594.3L1174.6 1595.8L1175.3 1596.8L1176.0 1598.8L1176.7 1599.9L1177.4 1600.9L1178.1 1601.9L1178.8 1603.5L1179.5 1603.8L1180.2 1605.4L1180.9 1605.8L1181.6 1607.5L1182.3 1608.1L1183.0 1609.0L1183.7 1611.0L1184.4 1611.5L1185.1 1613.3L1185.8 1614.1L1186.5 1615.3L1187.2 1616.5L1187.9 1618.0L1188.6 1618.5L1189.3 1620.5L1190.0 1621.1L1190.7 1622.1L1191.4 1624.1L1192.1 1624.5L1192.8 1626.0L1193.5 1627.5L1194.2 1627.9L1194.9 1629.4L1195.6 1630.2L1196.3 1631.2L1197.0 1631.5L1197.7 1632.8L1198.4 1633.8L1199.1 1633.9L1199.8 1635.6L1200.5 1636.4L1201.2 1636.7L1201.9 1638.2L1202.6 1639.1L1203.3 1639.3L1204.0 1640.9L1204.7 1642.2L1205.4 1643.1L1206.1 1643.4L1206.8 1644.7L1207.5 1645.9L1208.2 1646.7L1208.9 1647.8L1209.6 1648.4L1210.3 1649.3L1211.0 1650.5L1211.7 1651.4L1212.4 1652.4L1213.1 1653.6L1213.8 1653.5L1214.5 1654.5L1215.2 1655.8L1215.9 1656.5L1216.6 1656.5L1217.3 1657.7L1218.0 1657.8L1218.7 1659.4L1219.4 1659.4L1220.1 1660.4L1220.8 1660.9L1221.5 1661.7L1222.2 1662.1L1222.9 1663.0L1223.6 1663.6L1224.3 1664.7L1225.0 1665.3L1225.7 1666.2L1226.4 1666.9L1227.1 1667.8L1227.8 1668.8L1228.5 1669.1L1229.2 1669.9L1229.9 1670.7L1230.6 1671.3L1231.3 1671.8L1232.0 1672.3L1232.7 1673.2L1233.4 1673.5L1234.1 1674.5L1234.8 1675.2L1235.5 1675.6L1236.2 1676.1L1236.9 1676.0L1237.6 1676.2L1238.3 1676.9L1239.0 1677.7L1239.7 1677.7L1240.4 1678.1L1241.1 1679.5L1241.8 1679.3L1242.5 1679.5L1243.2 1680.5L1243.9 1681.1L1244.6 1681.4L1245.3 1681.5L1246.0 1682.4L1246.7 1682.4L1247.4 1683.6L1248.1 1684.2L1248.8 1683.8L1249.5 1684.8L1250.2 1685.6L1250.9 1685.9L1251.6 1685.9L1252.3 1686.3L1253.0 1687.3L1253.7 1687.4L1254.4 1688.7L1255.1 1688.9L1255.8 1689.2L1256.5 1690.1L1257.2 1690.0L1257.9 1690.7L1258.6 1691.1L1259.3 1691.0L1260.0 1692.0L1260.7 1692.3L1261.4 1692.1L1262.1 1692.6L1262.8 1692.8L1263.5 1693.7L1264.2 1693.7L1264.9 1694.3L1265.6 1694.4L1266.3 1694.7L1267.0 1694.5L1267.7 1695.3L1268.4 1695.1L1269.1 1695.8L1269.8 1696.0L1270.5 1696.1L1271.2 1696.1L1271.9 1696.9L1272.6 1697.2L1273.3 1697.5L1274.0 1697.2L1274.7 1697.7L1275.4 1698.3L1276.1 1698.9L1276.8 1698.6L1277.5 1699.5L1278.2 1699.9L1278.9 1699.3L1279.6 1700.2L1280.3 1700.2L1281.0 1700.2L1281.7 1700.6L1282.4 1701.0L1283.1 1701.0L1283.8 1702.0L1284.5 1702.0L1285.2 1702.2L1285.9 1703.0L1286.6 1703.5L1287.3 1703.3L1288.0 1703.4L1288.7 1704.0L1289.4 1704.2L1290.1 1704.9L1290.8 1704.6L1291.5 1704.8L1292.2 1705.0L1292.9 1705.4L1293.6 1705.6L1294.3 1706.7L1295.0 1706.7L1295.7 1706.8L1296.4 1707.4L1297.1 1707.4L1297.8 1707.7L1298.5 1707.3L1299.2 1707.7L1299.9 1708.2L1300.6 1708.7L1301.3 1708.3L1302.0 1708.7L1302.7 1708.7L1303.4 1708.9L1304.1 1709.4L1304.8 1709.9L1305.5 1710.1L1306.2 1709.9L1306.9 1709.5L1307.6 1709.9L1308.3 1710.5L1309.0 1710.9L1309.7 1710.3L1310.4 1711.1L1311.1 1711.3L1311.8 1710.7L1312.5 1711.6L1313.2 1711.4L1313.9 1711.8L1314.6 1711.8L1315.3 1711.9L1316.0 1712.2L1316.7 1712.2L1317.4 1712.0L1318.1 1712.1L1318.8 1712.8L1319.5 1712.2L1320.2 1712.4L1320.9 1712.3L1321.6 1712.6L1322.3 1712.9L1323.0 1712.6L1323.7 1713.0L1324.4 1713.2L1325.1 1713.1L1325.8 1713.6L1326.5 1713.5L1327.2 1713.4L1327.9 1714.0L1328.6 1714.0L1329.3 1714.0L1330.0 1714.0L1330.7 1715.0L1331.4 1714.4L1332.1 1714.8L1332.8 1715.2L1333.5 1715.7L1334.2 1715.3L1334.9 1715.3L1335.6 1716.0L1336.3 1716.5L1337.0 1716.1L1337.7 1716.8L1338.4 1716.3L1339.1 1717.1L1339.8 1716.4L1340.5 1717.2L1341.2 1717.6L1341.9 1717.1L1342.6 1717.9L1343.3 1717.8L1344.0 1717.6L1344.7 1717.5L1345.4 1718.3L1346.1 1718.1L1346.8 1718.4L1347.5 1718.2L1348.2 1718.2L1348.9 1718.4L1349.6 1719.1L1350.3 1718.7L1351.0 1718.9L1351.7 1719.3L1352.4 1719.1L1353.1 1719.4L1353.8 1719.5L1354.5 1720.0L1355.2 1719.7L1355.9 1719.8L1356.6 1720.6L1357.3 1719.9L1358.0 1720.6L1358.7 1720.7L1359.4 1720.5L1360.1 1721.0L1360.8 1721.1L1361.5 1720.9L1362.2 1720.8L1362.9 1720.6L1363.6 1721.4L1364.3 1721.5L1365.0 1720.8L1365.7 1720.9L1366.4 1721.3L1367.1 1721.5L1367.8 1721.6L1368.5 1721.6L1369.2 1721.6L1369.9 1721.7L1370.6 1721.2L1371.3 1721.8L1372.0 1722.2L1372.7 1722.0L1373.4 1722.1L1374.1 1722.4L1374.8 1722.7L1375.5 1722.3L1376.2 1723.3L1376.9 1723.4L1377.6 1723.1L1378.3 1723.3L1379.0 1723.4L1379.7 1723.8L1380.4 1724.5L1381.1 1724.1L1381.8 1724.8L1382.5 1724.2L1383.2 1724.4L1383.9 1724.8L1384.6 1724.5L1385.3 1724.5L1386.0 1725.2L1386.7 1724.9L1387.4 1725.3L1388.1 1724.9L1388.8 1725.0L1389.5 1725.6L1390.2 1725.3L1390.9 1724.9L1391.6 1725.2L1392.3 1724.9L1393.0 1724.8L1393.7 1725.4L1394.4 1724.9L1395.1 1725.1L1395.8 1724.9L1396.5 1725.0L1397.2 1725.4L1397.9 1725.1L1398.6 1725.2L1399.3 1725.4L1400.0 1725.2L1400.7 1725.1L1401.4 1725.2L1402.1 1726.0L1402.8 1725.5L1403.5 1725.6L1404.2 1726.0L1404.9 1726.1L1405.6 1726.1L1406.3 1726.4L1407.0 1726.1L1407.7 1725.8L1408.4 1726.4L1409.1 1726.2L1409.8 1726.6L1410.5 1726.0L1411.2 1726.5L1411.9 1725.8L1412.6 1726.1L1413.3 1726.1L1414.0 1725.8L1414.7 1726.5L1415.4 1726.5L1416.1 1726.0L1416.8 1726.4L1417.5 1726.6L1418.2 1726.4L1418.9 1726.2L1419.6 1726.6L1420.3 1726.4L1421.0 1726.6L1421.7 1726.8L1422.4 1726.5L1423.1 1727.0L1423.8 1727.0L1424.5 1727.2L1425.2 1727.0L1425.9 1727.5L1426.6 1727.0L1427.3 1727.5L1428.0 1727.6L1428.7 1727.2L1429.4 1728.1L1430.1 1727.9L1430.8 1727.5L1431.5 1728.4L1432.2 1728.3L1432.9 1728.5L1433.6 1728.3L1434.3 1728.1L1435.0 1728.4L1435.7 1728.0L1436.4 1728.0L1437.1 1727.9L1437.8 1727.9L1438.5 1728.6L1439.2 1728.1L1439.9 1728.2L1440.6 1728.1L1441.3 1728.1L1442.0 1728.0L1442.7 1728.8L1443.4 1728.7L1444.1 1728.5L1444.8 1728.7L1445.5 1728.9L1446.2 1728.5L1446.9 1728.4L1447.6 1728.6L1448.3 1728.6L1449.0 1728.9L1449.7 1728.9L1450.4 1728.8L1451.1 1728.6L1451.8 1728.3L1452.5 1727.9L1453.2 1728.6L1453.9 1728.5L1454.6 1728.1L1455.3 1728.3L1456.0 1728.5L1456.7 1727.9L1457.4 1728.2L1458.1 1728.6L1458.8 1727.9L1459.5 1727.8L1460.2 1728.7L1460.9 1728.7L1461.6 1727.9L1462.3 1728.5L1463.0 1728.7L1463.7 1728.8L1464.4 1728.8L1465.1 1728.9L1465.8 1729.0L1466.5 1729.0L1467.2 1728.5L1467.9 1728.6L1468.6 1728.8L1469.3 1729.4L1470.0 1728.9L1470.7 1729.0L1471.4 1729.3L1472.1 1728.4L1472.8 1728.4L1473.5 1728.5L1474.2 1729.1L1474.9 1728.8L1475.6 1728.2L1476.3 1728.1L1477.0 1728.2L1477.7 1729.0L1478.4 1728.5L1479.1 1728.9L1479.8 1728.9L1480.5 1729.0L1481.2 1728.6L1481.9 1728.3L1482.6 1728.6L1483.3 1728.9L1484.0 1729.0L1484.7 1728.5L1485.4 1728.6L1486.1 1728.9L1486.8 1728.5L1487.5 1728.4L1488.2 1728.5L1488.9 1728.8L1489.6 1728.6L1490.3 1729.2L1491.0 1729.2L1491.7 1729.5L1492.4 1729.4L1493.1 1729.2L1493.8 1729.0L1494.5 1729.2L1495.2 1729.9L1495.9 1729.7L1496.6 1729.2L1497.3 1729.6L1498.0 1729.9L1498.7 1729.9L1499.4 1730.0L1500.1 1730.1L1500.8 1729.6L1501.5 1729.8L1502.2 1729.2L1502.9 1729.8L1503.6 1729.7L1504.3 1729.4L1505.0 1729.5L1505.7 1730.0L1506.4 1729.5L1507.1 1729.7L1507.8 1729.8L1508.5 1730.2L1509.2 1729.6L1509.9 1729.5L1510.6 1729.6L1511.3 1730.2L1512.0 1729.5L1512.7 1730.0L1513.4 1730.0L1514.1 1729.8L1514.8 1729.8L1515.5 1730.0L1516.2 1729.5L1516.9 1729.8L1517.6 1729.9L1518.3 1729.6L1519.0 1730.0L1519.7 1729.8L1520.4 1729.6L1521.1 1729.7L1521.8 1729.9L1522.5 1730.3L1523.2 1730.4L1523.9 1730.1L1524.6 1729.7L1525.3 1730.2L1526.0 1730.5L1526.7 1729.6L1527.4 1729.9L1528.1 1730.0L1528.8 1730.0L1529.5 1730.0L1530.0 1730.0" fill="none" stroke="#009900" stroke-width="12.7" stroke-linejoin="bevel" stroke-linecap="butt" shape-rendering="crispEdges"/>
</g>
<g id="frame">
<rect x="152.00" y="26.00" width="8.00" height="1760.00" fill="#000"/>
<rect x="1538.30" y="26.00" width="8.70" height="1760.00" fill="#000"/>
<rect x="152.00" y="26.00" width="1395.00" height="8.00" fill="#000"/>
<rect x="152.00" y="1778.60" width="1395.00" height="7.40" fill="#000"/>
<rect x="152.00" y="902.00" width="1395.00" height="8.00" fill="#000"/>
</g>
<g id="legend">
<rect x="1229.5" y="143.4" width="125.6" height="12.9" fill="#000000"/>
<rect x="1229.5" y="222.5" width="125.6" height="11" fill="#ff4040"/>
<rect x="1229.5" y="298.9" width="125.6" height="13.9" fill="#009900"/>
</g>
<g id="labels">
<text x="197.2" y="151.4" font-size="79.0" text-anchor="start" >(a)</text>
<text x="449.1" y="243.8" font-size="80.0" text-anchor="start" >6 K</text>
<text x="200.5" y="1029.8" font-size="79.0" text-anchor="start" >(b)</text>
<text x="437.6" y="1136.3" font-size="74.0" text-anchor="start" >300 K</text>
<text x="1383.0" y="170.8" font-size="70.0" text-anchor="start" >A</text>
<text x="1383.0" y="249.7" font-size="70.0" text-anchor="start" >B</text>
<text x="1381.5" y="328.5" font-size="72.0" text-anchor="start" >C</text>
<text x="260.6" y="1875.9" font-size="78.0" text-anchor="middle" >1.9</text>
<text x="532.6" y="1875.9" font-size="78.0" text-anchor="middle" >2.1</text>
<text x="804.6" y="1875.9" font-size="78.0" text-anchor="middle" >2.2</text>
<text x="1076.6" y="1875.9" font-size="78.0" text-anchor="middle" >2.4</text>
<text x="1348.6" y="1875.9" font-size="78.0" text-anchor="middle" >2.5</text>
<text x="537.5" y="1954.6" font-size="83.0" text-anchor="start" >Photon energy (eV)</text>
<text transform="translate(82,1211) rotate(-90)" font-size="83">EL Intensity (a. u.)</text>
</g>
</svg>
</body></html>
